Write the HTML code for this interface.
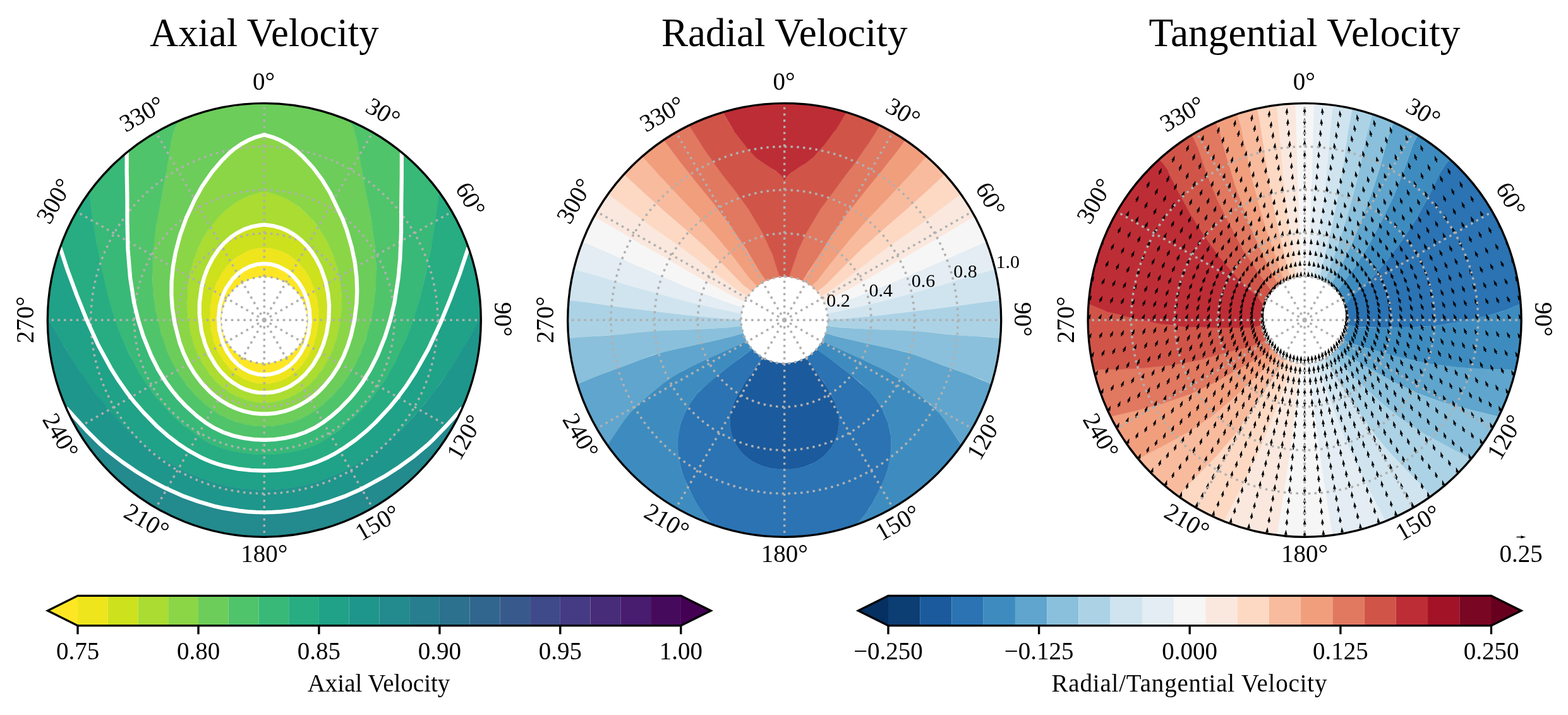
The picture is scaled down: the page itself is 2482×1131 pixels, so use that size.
<!DOCTYPE html>
<html lang="en"><head><meta charset="utf-8"><title>Velocity components</title>
<style>html,body{margin:0;padding:0;background:#fff}svg{display:block}text{font-family:'Liberation Serif', 'DejaVu Serif', serif;fill:#000}</style></head><body>
<svg width="2482" height="1131" viewBox="0 0 2482 1131">
<rect width="2482" height="1131" fill="#fff"/>
<defs><clipPath id="clip0"><circle cx="418.3" cy="506.3" r="343.0"/></clipPath><clipPath id="clip1"><circle cx="1241.7" cy="506.3" r="343.0"/></clipPath><clipPath id="clip2"><circle cx="2065.1" cy="506.3" r="343.0"/></clipPath></defs>
<g font-size="63" text-anchor="middle">
<text x="418.3" y="73.4" textLength="362.5" lengthAdjust="spacingAndGlyphs">Axial Velocity</text>
<text x="1241.7" y="73.4" textLength="389.5" lengthAdjust="spacingAndGlyphs">Radial Velocity</text>
<text x="2065.1" y="73.4" textLength="493.0" lengthAdjust="spacingAndGlyphs">Tangential Velocity</text>
</g>
<g clip-path="url(#clip0)">
<path fill="#fde725" stroke="#fde725" stroke-width="0.45" stroke-linejoin="round" d="M418.3,437.7L430.2,438.7 441.8,441.8 452.6,446.9 462.4,453.7 470.9,462.2 477.7,472 482.8,482.8 485.9,494.4 486.9,506.3 485.9,518.2 482.8,529.8 477.7,540.6 470.9,550.4 462.4,558.9 452.6,565.7 441.8,570.8 430.2,573.9 418.3,574.9 406.4,573.9 394.8,570.8 384,565.7 374.2,558.9 365.7,550.4 358.9,540.6 353.8,529.8 350.7,518.2 349.7,506.3 350.7,494.4 353.8,482.8 358.9,472 365.7,462.2 374.2,453.7 384,446.9 394.8,441.8 406.4,438.7 418.3,437.7 418.3,417.1 406.7,418.2 395.6,421.5 382.2,428.8 373.4,435.9 363.9,446.9 356.5,458.9 350.2,474.5 346.7,490.4 345.8,509.5 348.4,528.3 353.2,543.9 361,558.8 369.5,569.9 377.2,577.4 386.2,583.8 396.2,588.7 407,591.8 418.3,592.8 429.6,591.8 440.4,588.7 450.4,583.8 459.4,577.4 469.5,567.3 477.4,555.9 484.6,540.8 489.5,522.1 490.8,503.1 488.8,484.1 484.2,468.2 478.5,455.8 468.2,441.2 460.4,433.4 451.3,426.7 441,421.5 429.9,418.2 418.3,417.1 418.3,433.4Z"/>
<path fill="#efe51c" stroke="#efe51c" stroke-width="0.45" stroke-linejoin="round" d="M490.5,496.2L490.6,512.6 487.5,531.5 482.1,546.9 473.7,561.7 464.7,572.5 456.5,579.7 447.2,585.6 435.8,590.2 425.8,592.4 414.5,592.7 403.4,591 392.8,587.2 383.1,581.8 371.9,572.5 362.9,561.7 354.5,546.9 349.1,531.5 346,512.6 346.4,493.6 349.3,477.7 355,462 361.8,449.8 370.8,438.5 379.1,431 388.6,424.8 399.2,420.2 410.5,417.6 418.3,417.1 418.3,392 408.4,392.6 398.6,394.6 389.3,398 380.5,402.5 372.5,408.1 361.9,417.8 353.1,428.6 346.1,440.1 339.2,455.9 334,475.6 331.9,494.9 332.6,513.8 335.9,532.3 342,550.3 349.2,564.3 358.5,577.5 367.2,586.6 377.2,594.5 384.6,599 392.5,602.6 400.9,605.3 409.5,606.8 422.7,607.1 431.4,606.2 440,604.1 452.2,598.9 462.9,592 473,583.2 483,571 491.3,557.4 498.6,539.6 503,521.2 504.7,502.5 503.8,483.4 499.9,463.8 494.3,448 486,432.4 477.8,421.3 467.8,411.1 460.2,405.2 447.3,398 438,394.6 428.2,392.6 418.3,392 418.3,417.1 429.9,418.2 441,421.5 454.4,428.8 463.2,435.9 472.7,446.9 480.1,458.9 486.4,474.5 489.9,490.4 490.2,493.6Z"/>
<path fill="#cde11d" stroke="#cde11d" stroke-width="0.45" stroke-linejoin="round" d="M502.2,473.7L504.5,491.1 504.3,510.1 501.6,528.6 496,546.8 487.4,564.3 478.1,577.5 469.4,586.6 459.4,594.5 452,599 444.1,602.6 435.7,605.3 427.1,606.8 413.9,607.1 405.2,606.2 396.6,604.1 384.4,598.9 373.7,592 363.6,583.2 353.6,571 345.3,557.4 338,539.6 333.6,521.2 331.9,502.5 332.8,483.4 336.7,463.8 342.3,448 350.6,432.4 358.8,421.3 368.8,411.1 376.4,405.2 389.3,398 398.6,394.6 408.4,392.6 418.3,392 418.3,355.5 405.2,357.1 392.6,360.4 380.6,365.5 369.5,372.2 359.5,380.2 350.6,389.1 343,398.7 336.5,408.8 328.6,424.1 321.4,444.6 317.3,464.5 315.5,483.5 316.3,506.3 319.9,528.1 324.8,545 331.8,561.4 341.1,577.1 352.8,591.6 363.4,601.4 375.5,609.7 384.3,614.2 393.6,617.7 403.3,620.1 413.3,621.1 428.3,620.8 438.2,619.1 447.7,616.1 456.8,612.1 469.3,604.3 476.9,598.3 487,588.1 495.5,577.1 504.8,561.4 511.8,545 517.7,523.8 520.9,497.3 520.8,478.8 517.6,454.6 513.7,439.5 508,424.1 500.1,408.8 489.9,393.8 481.7,384.5 470.7,374.9 461.7,368.7 450.1,362.8 437.8,358.5 424.9,356.1 418.3,355.5 418.3,392 428.2,392.6 438,394.6 447.3,398 456.1,402.5 464.1,408.1 474.7,417.8 483.5,428.6 490.5,440.1 497.4,455.9 501.8,471.7Z"/>
<path fill="#aadc32" stroke="#aadc32" stroke-width="0.45" stroke-linejoin="round" d="M520.9,498.3L518.5,519.5 513.2,540.8 506.7,557.4 498,573.2 490,584.5 480.4,595 473.2,601.4 461.1,609.7 452.3,614.2 443,617.7 433.3,620.1 423.3,621.1 408.3,620.8 398.4,619.1 388.9,616.1 379.8,612.1 367.3,604.3 359.7,598.3 349.6,588.1 341.1,577.1 331.8,561.4 324.8,545 318.9,523.8 315.7,497.3 315.8,478.8 319,454.6 322.9,439.5 328.6,424.1 336.5,408.8 346.7,393.8 354.9,384.5 365.9,374.9 374.9,368.7 386.5,362.8 398.8,358.5 411.7,356.1 418.3,355.5 418.3,313.4 418.3,302.9 408.6,305 400.9,307.2 391,311 384.4,314 376.6,318.2 362.1,328.1 355.5,333.7 341.6,348.1 333.1,358.8 322.9,374.3 316.9,385.4 308.4,405.6 302.1,425.6 298.4,443.9 296,467.8 296.2,490.2 299.5,516.7 304.1,536.9 308.9,551.6 315.3,565.7 326,583.7 335.6,596.6 346.8,608.4 359.9,618.5 369.4,624.3 379.5,629.2 390.2,633.1 401.3,635.7 412.6,637.2 424,637.2 435.3,635.7 446.4,633.1 462.2,626.9 472,621.5 485.6,611.9 493.8,604.6 504.4,592.4 516.2,574.8 523.6,561.1 529.4,546.7 535,526.9 539.4,501 540.8,479.1 539,450 535.9,431.4 530.5,412.2 522.9,392.2 516.3,378.6 508,365.2 493.1,345.9 479.5,332.4 467.4,322.9 459.1,317.7 452.2,314 444.1,310.3 435.7,307.2 427.1,304.8 418.3,302.9 418.3,343.4 418.3,355.5 431.4,357.1 444,360.4 456,365.5 467.1,372.2 477.1,380.2 486,389.1 493.6,398.7 500.1,408.8 508,424.1 515.2,444.6 519.3,464.5 521.1,483.5 520.9,497.3Z"/>
<path fill="#8bd646" stroke="#8bd646" stroke-width="0.45" stroke-linejoin="round" d="M538.3,508.8L533.8,531.9 527.7,551.6 521.3,565.7 510.6,583.7 501,596.6 489.8,608.4 476.7,618.5 467.2,624.3 457.1,629.2 446.4,633.1 435.3,635.7 424,637.2 412.6,637.2 401.3,635.7 390.2,633.1 374.4,626.9 364.6,621.5 351,611.9 342.8,604.6 332.2,592.4 320.4,574.8 313,561.1 307.2,546.7 301.6,526.9 297.2,501 295.8,479.1 297.6,450 300.7,431.4 306.1,412.2 313.7,392.2 320.3,378.6 328.6,365.2 343.5,345.9 357.1,332.4 369.2,322.9 377.5,317.7 384.4,314 392.5,310.3 400.9,307.2 409.5,304.8 418.3,302.9 418.3,261.9 418.3,219 418.3,213.2 405.7,216.7 393.4,221.7 381.7,228 370,236.2 357.3,247.6 340.8,265.5 326.5,284.6 313.8,305.5 294.7,345.3 287.6,364.4 279.8,391.3 274.9,414.9 272.1,438.1 271.3,459.9 272.2,480.5 275.5,506.3 280.9,530.5 286.4,547.9 293.2,564.6 301.6,580.7 311.5,595.9 323.1,610.2 331.7,619.1 341.2,627.3 351.5,634.6 362.5,641 374.1,646.4 386.3,650.5 398.9,653.3 411.8,654.7 424.8,654.7 437.7,653.3 450.3,650.5 462.5,646.4 474.4,640.8 485.1,634.6 495.4,627.3 504.9,619.1 517.6,605.6 528.6,590.9 538,575.4 545.8,559.1 552.2,542.2 559.9,512.5 563.8,487.1 565.2,466.9 565,445.5 562.8,422.1 558.6,398.7 551.8,372.8 541.9,345.3 528.3,315.8 516.8,295.1 500.7,271.7 485,253.4 473.2,241.8 466,235.7 454.9,228 443.2,221.7 430.9,216.7 418.3,213.2 418.3,253.3 418.3,296.2 418.3,302.9 428,305 435.7,307.2 445.6,311 452.2,314 460,318.2 474.5,328.1 481.1,333.7 495,348.1 503.5,358.8 513.7,374.3 519.7,385.4 528.2,405.6 534.5,425.6 538.2,443.9 540.6,467.8 540.4,490.2 538.7,506.3Z"/>
<path fill="#6ccd5a" stroke="#6ccd5a" stroke-width="0.45" stroke-linejoin="round" d="M559.6,514L554,536.4 545.8,559.1 538,575.4 528.6,590.9 517.6,605.6 504.9,619.1 495.4,627.3 485.1,634.6 474.1,641 462.5,646.4 450.3,650.5 437.7,653.3 424.8,654.7 411.8,654.7 398.9,653.3 386.3,650.5 374.1,646.4 362.2,640.8 351.5,634.6 341.2,627.3 331.7,619.1 319,605.6 308,590.9 298.6,575.4 290.8,559.1 284.4,542.2 276.7,512.5 272.8,487.1 271.4,466.9 271.6,445.5 273.8,422.1 278,398.7 284.8,372.8 294.7,345.3 308.3,315.8 319.8,295.1 335.9,271.7 351.6,253.4 363.4,241.8 370.6,235.7 381.7,228 393.4,221.7 405.7,216.7 418.3,213.2 418.3,171.9 418.3,163.3 403.3,163.6 388.4,164.6 373.5,166.2 358.7,168.5 344.1,171.4 329.5,175 315.2,179.2 301,184 283.1,191.1 276.5,203.4 270.6,225.5 264.6,265.1 256.9,306 248.6,348.8 242.9,390.7 241,423.6 242,459.1 245,483.5 249.3,506.3 257,534.7 264.1,554.9 273,574.1 283.3,592.3 291.1,603.9 304.4,620.2 319.4,635.2 330.4,644.3 342.1,652.6 354.7,659.7 368.1,665.5 382,669.9 396.4,672.8 411,674.3 425.6,674.3 440.2,672.8 454.6,669.9 468.5,665.5 481.9,659.7 494.5,652.6 506.2,644.3 517.2,635.2 532.2,620.2 545.5,603.9 556.9,586.3 566.8,567.8 575,548.3 583.7,520.8 590.3,491.3 593.9,466.4 595.5,441.6 594.6,400 589.3,356.7 581,312.6 572.7,269.1 566,225.5 561.8,209 559.8,202.7 553.5,191.1 535.6,184 521.4,179.2 507.1,175 492.5,171.4 477.9,168.5 463.1,166.2 448.2,164.6 433.3,163.6 418.3,163.3 418.3,206.2 418.3,213.2 430.9,216.7 443.2,221.7 454.9,228 466.6,236.2 479.3,247.6 495.8,265.5 510.1,284.6 522.8,305.5 541.9,345.3 549,364.4 556.8,391.3 561.7,414.9 564.5,438.1 565.3,459.9 564.4,480.5 561.1,506.3 559.9,512.5Z"/>
<path fill="#50c46a" stroke="#50c46a" stroke-width="0.45" stroke-linejoin="round" d="M577.3,541.8L569.7,561.4 560.4,580.3 549.5,598.1 541.2,609.5 527.4,625.3 511.8,639.8 500.4,648.6 488.3,656.3 475.3,662.8 461.6,667.9 447.4,671.5 432.9,673.7 418.3,674.5 403.7,673.7 389.2,671.5 373,667.3 361.3,662.8 348.3,656.3 336.2,648.6 323.8,639 309.2,625.3 295.4,609.5 283.3,592.3 273,574.1 264.1,554.9 254.9,527.8 246.3,491.3 242.7,466.4 241.1,441.6 242,400 247.3,356.7 255.6,312.6 263.9,269.1 270.6,225.5 274.8,209 276.8,202.7 283.1,191.1 259.9,202.1 246.8,209.3 234,217 221.6,225.3 200.7,241.1 200.8,281.2 201.4,324.3 201.6,367.7 203.3,409.5 206.1,439.4 212.3,479.2 218.8,506.3 227.2,532.9 239.3,562.7 250.4,584.6 263.1,605.2 272.6,618.1 282.9,630.4 299.7,647.6 311.9,658.2 324.9,668.1 338.8,676.8 353.6,683.9 369.3,689.3 385.4,692.9 401.8,695.1 418.3,695.8 434.8,695.1 451.2,692.9 467.3,689.3 483,683.9 497.8,676.8 511.7,668.1 524.7,658.2 542.7,642 553.7,630.4 564,618.1 573.5,605.2 586.2,584.6 597.3,562.7 609.9,531.5 617.8,506.3 624.3,479.2 630.5,439.4 634.2,393.9 635.1,352.5 635.2,311.5 636,269.7 635.9,241.1 615,225.3 602.6,217 589.8,209.3 576.7,202.1 553.5,191.1 560.1,203.4 566,225.5 572,265.1 579.7,306 588,348.8 593.7,390.7 595.6,423.6 594.6,459.1 591.6,483.5 587.3,506.3 579.6,534.7 577.4,541.6Z"/>
<path fill="#38b977" stroke="#38b977" stroke-width="0.45" stroke-linejoin="round" d="M578.3,598L568.9,611.7 559,624.3 548.3,636.3 536.9,647.6 524.7,658.2 511.7,668.1 497.8,676.8 483,683.9 467.3,689.3 451.2,692.9 434.8,695.1 418.3,695.8 401.8,695.1 385.4,692.9 369.3,689.3 353.6,683.9 338.8,676.8 324.9,668.1 311.9,658.2 293.9,642 282.9,630.4 272.6,618.1 263.1,605.2 250.4,584.6 239.3,562.7 226.7,531.5 218.8,506.3 212.3,479.2 206.1,439.4 202.4,393.9 201.5,352.5 201.4,311.5 200.6,269.7 200.7,241.1 186.6,253.4 175.8,263.8 165.4,274.6 155.5,285.8 141.5,303.8 147.3,349.8 154.3,393 162.6,433.7 172.5,473.9 182.5,507.1 193.5,535.9 210.4,571.9 224.6,596.6 234.9,612.2 251.7,634.1 263.9,647.8 276.8,660.7 297.6,678.7 312.5,689.5 328.3,699.2 336.6,703.4 345.2,707 363.1,712.4 381.3,716.1 399.8,718.2 418.3,718.9 436.8,718.2 455.3,716.1 473.5,712.4 491.4,707 500,703.4 508.3,699.2 524.1,689.5 546.1,672.9 559.8,660.7 572.7,647.8 590.7,627 601.7,612.2 616.9,588.6 630.7,563.2 643.8,534.3 654.4,506.3 664.6,472.1 675.8,425.1 683.6,385.5 690.3,342.9 695.1,303.8 681.1,285.8 671.2,274.6 660.8,263.8 650,253.4 635.9,241.1 635.8,281.2 635.2,324.3 635,367.7 633.3,409.5 630.5,439.4 624.3,479.2 617.8,506.3 609.4,532.9 597.3,562.7 586.2,584.6 582.2,591.6Z"/>
<path fill="#27ad81" stroke="#27ad81" stroke-width="0.45" stroke-linejoin="round" d="M586.5,632.2L572.7,647.8 559.8,660.7 539,678.7 524.1,689.5 508.3,699.2 500,703.4 491.4,707 473.5,712.4 455.3,716.1 436.8,718.2 418.3,718.9 399.8,718.2 381.3,716.1 363.1,712.4 345.2,707 336.6,703.4 328.3,699.2 312.5,689.5 290.5,672.9 276.8,660.7 263.9,647.8 245.9,627 234.9,612.2 219.7,588.6 205.9,563.2 192.8,534.3 182.2,506.3 172,472.1 160.8,425.1 153,385.5 146.3,342.9 141.5,303.8 129,322 121.3,334.8 114.1,347.9 107.4,361.3 101.4,375 95.1,391.6 109.3,434.2 124.2,473.9 139.7,511.7 158.6,552.1 179.1,588.5 193.8,611 206.8,628.4 220.3,644.9 241.9,668 257.1,682.2 273.2,695.4 290.2,707.4 308,718.3 317.2,723.1 326.7,727.4 336.4,731.3 346.3,734.6 356.4,737.4 376.8,741.6 397.5,743.9 418.3,744.7 439.1,743.9 459.8,741.6 480.2,737.4 490.3,734.6 500.2,731.3 509.9,727.4 519.4,723.1 537.7,713 555,701.6 571.5,688.9 587.2,675.2 609.2,652.8 623.2,636.8 636.4,619.8 649,601.8 661,582.8 681.1,546 699.2,506.3 714.9,467.3 729.9,426.9 741.5,391.6 735.2,375 729.2,361.3 722.5,347.9 715.3,334.8 707.6,322 695.1,303.8 689.3,349.8 682.3,393 674,433.7 664.1,473.9 654.1,507.1 643.1,535.9 626.2,571.9 612,596.6 601.7,612.2 590.7,627Z"/>
<path fill="#1fa287" stroke="#1fa287" stroke-width="0.45" stroke-linejoin="round" d="M604.2,658.3L587.2,675.2 571.5,688.9 555,701.6 537.7,713 519.4,723.1 509.9,727.4 500.2,731.3 490.3,734.6 480.2,737.4 459.8,741.6 439.1,743.9 418.3,744.7 397.5,743.9 376.8,741.6 356.4,737.4 346.3,734.6 336.4,731.3 326.7,727.4 317.2,723.1 298.9,713 281.6,701.6 265.1,688.9 249.4,675.2 227.4,652.8 213.4,636.8 200.2,619.8 187.6,601.8 175.6,582.8 155.5,546 137.4,506.3 121.7,467.3 106.7,426.9 95.1,391.6 91.2,403.2 87,417.5 83.4,432.1 80.5,446.7 78.2,461.5 76.6,476.4 75.3,501.4 98.9,543.1 123.7,583 140.5,607.4 164.2,638.6 180.6,657.8 197.5,675.7 215.3,692.4 233.7,707.7 253,721.7 273,734.4 293.8,745.5 315.3,754.8 337.5,762.7 348.7,765.9 360.1,768.6 371.7,770.8 383.3,772.5 406.6,774.3 430,774.3 453.3,772.5 464.9,770.8 476.5,768.6 487.9,765.9 499.1,762.7 521.3,754.8 542.8,745.5 563.6,734.4 583.6,721.7 602.9,707.7 621.3,692.4 641.2,673.6 664.3,648.3 688.2,618.1 711.6,584.9 734.8,548 757,509.3 761.3,501.4 760,476.4 758.4,461.5 756.1,446.7 753.2,432.1 749.6,417.5 745.4,403.2 741.5,391.6 727.3,434.2 712.4,473.9 696.9,511.7 678,552.1 657.5,588.5 642.8,611 629.8,628.4 616.3,644.9 609.2,652.8Z"/>
<path fill="#1f968b" stroke="#1f968b" stroke-width="0.45" stroke-linejoin="round" d="M556.2,738.6L542.8,745.5 521.3,754.8 499.1,762.7 487.9,765.9 476.5,768.6 464.9,770.8 453.3,772.5 430,774.3 406.6,774.3 383.3,772.5 371.7,770.8 360.1,768.6 348.7,765.9 337.5,762.7 315.3,754.8 293.8,745.5 273,734.4 253,721.7 233.7,707.7 215.3,692.4 195.4,673.6 172.3,648.3 148.4,618.1 125,584.9 101.8,548 79.6,509.3 75.3,501.4 75.6,521.3 76.6,536.2 78.2,551.1 80.5,565.9 83.4,580.5 87,595.1 91.2,609.4 96,623.6 104.7,645.3 129.5,673 149.9,694.2 160.4,704.2 182.4,722.5 205.1,738.9 228.4,753.8 264.2,773.3 288.7,784.2 313.8,793.3 339.4,800.7 365.5,806 378.6,807.9 391.8,809.3 405,810.2 418.3,810.5 431.6,810.2 444.8,809.3 458,807.9 484.2,803.6 497.2,800.7 522.8,793.3 547.9,784.2 577.5,770.8 596.4,760.7 619.9,746.6 642.9,730.9 665.3,713.6 679.5,701.1 697,683.8 727.3,650.4 731.9,645.3 740.6,623.6 745.4,609.4 749.6,595.1 753.2,580.5 756.1,565.9 758.4,551.1 760,536.2 761,521.3 761.3,501.4 737.7,543.1 712.9,583 696.1,607.4 672.4,638.6 656,657.8 639.1,675.7 621.3,692.4 602.9,707.7 583.6,721.7 563.6,734.4Z"/>
<path fill="#238a8d" stroke="#238a8d" stroke-width="0.45" stroke-linejoin="round" d="M476.6,805.1L458,807.9 444.8,809.3 431.6,810.2 418.3,810.5 405,810.2 391.8,809.3 378.6,807.9 352.4,803.6 339.4,800.7 313.8,793.3 288.7,784.2 259.1,770.8 240.2,760.7 216.7,746.6 193.7,730.9 171.3,713.6 157.1,701.1 139.6,683.8 109.3,650.4 104.7,645.3 114.1,664.7 121.3,677.8 129,690.6 137.3,703 146.2,715.1 155.5,726.8 165.4,738 175.8,748.8 186.6,759.2 197.8,769.1 209.5,778.4 221.6,787.3 234,795.6 246.8,803.3 259.9,810.5 273.3,817.2 287,823.2 301,828.6 315.2,833.4 329.5,837.6 344.1,841.2 358.7,844.1 373.5,846.4 388.4,848 403.3,849 418.3,849.3 433.3,849 448.2,848 463.1,846.4 477.9,844.1 492.5,841.2 507.1,837.6 521.4,833.4 535.6,828.6 549.6,823.2 563.3,817.2 576.7,810.5 589.8,803.3 602.6,795.6 615,787.3 627.1,778.4 638.8,769.1 650,759.2 660.8,748.8 671.2,738 681.1,726.8 690.4,715.1 699.3,703 707.6,690.6 715.3,677.8 722.5,664.7 731.9,645.3 707.1,673 686.7,694.2 676.2,704.2 654.2,722.5 631.5,738.9 608.2,753.8 572.4,773.3 547.9,784.2 522.8,793.3 497.2,800.7 484.2,803.6Z"/>
<g fill="none" stroke="#b0b0b0" stroke-width="3.5" stroke-dasharray="3.6 6.2">
<path d="M418.3,506.3L418.30,163.30M418.3,506.3L589.80,209.25M418.3,506.3L715.35,334.80M418.3,506.3L761.30,506.30M418.3,506.3L715.35,677.80M418.3,506.3L589.80,803.35M418.3,506.3L418.30,849.30M418.3,506.3L246.80,803.35M418.3,506.3L121.25,677.80M418.3,506.3L75.30,506.30M418.3,506.3L121.25,334.80M418.3,506.3L246.80,209.25"/>
<path d="M418.30,437.70A68.60,68.60 0 1 1 418.30,574.90A68.60,68.60 0 1 1 418.30,437.70"/>
<path d="M418.30,369.10A137.20,137.20 0 1 1 418.30,643.50A137.20,137.20 0 1 1 418.30,369.10"/>
<path d="M418.30,300.50A205.80,205.80 0 1 1 418.30,712.10A205.80,205.80 0 1 1 418.30,300.50"/>
<path d="M418.30,231.90A274.40,274.40 0 1 1 418.30,780.70A274.40,274.40 0 1 1 418.30,231.90"/>
</g>
<path fill="none" stroke="#fff" stroke-width="6.25" stroke-linejoin="round" d="M418.3,417.1L429.9,418.2 441,421.5 454.4,428.8 463.2,435.9 472.7,446.9 480.1,458.9 486.4,474.5 489.9,490.4 490.8,509.5 488.2,528.3 483.4,543.9 475.6,558.8 467.1,569.9 459.4,577.4 450.4,583.8 440.4,588.7 429.6,591.8 418.3,592.8 407,591.8 396.2,588.7 386.2,583.8 377.2,577.4 367.1,567.3 359.2,555.9 352,540.8 347.1,522.1 345.8,503.1 347.8,484.1 352.4,468.2 358.1,455.8 368.4,441.2 376.2,433.4 385.3,426.7 395.6,421.5 406.7,418.2ZM418.3,355.5L431.4,357.1 444,360.4 456,365.5 467.1,372.2 477.1,380.2 486,389.1 493.6,398.7 500.1,408.8 508,424.1 515.2,444.6 519.3,464.5 521.1,483.5 520.3,506.3 516.7,528.1 511.8,545 504.8,561.4 495.5,577.1 483.8,591.6 473.2,601.4 461.1,609.7 452.3,614.2 443,617.7 433.3,620.1 423.3,621.1 408.3,620.8 398.4,619.1 388.9,616.1 379.8,612.1 367.3,604.3 359.7,598.3 349.6,588.1 341.1,577.1 331.8,561.4 324.8,545 318.9,523.8 315.7,497.3 315.8,478.8 319,454.6 322.9,439.5 328.6,424.1 336.5,408.8 346.7,393.8 354.9,384.5 365.9,374.9 374.9,368.7 386.5,362.8 398.8,358.5 411.7,356.1ZM418.3,213.2L430.9,216.7 443.2,221.7 454.9,228 466.6,236.2 479.3,247.6 495.8,265.5 510.1,284.6 522.8,305.5 541.9,345.3 549,364.4 556.8,391.3 561.7,414.9 564.5,438.1 565.3,459.9 564.4,480.5 561.1,506.3 555.7,530.5 550.2,547.9 543.4,564.6 535,580.7 525.1,595.9 513.5,610.2 504.9,619.1 495.4,627.3 485.1,634.6 474.1,641 462.5,646.4 450.3,650.5 437.7,653.3 424.8,654.7 411.8,654.7 398.9,653.3 386.3,650.5 374.1,646.4 362.2,640.8 351.5,634.6 341.2,627.3 331.7,619.1 319,605.6 308,590.9 298.6,575.4 290.8,559.1 284.4,542.2 276.7,512.5 272.8,487.1 271.4,466.9 271.6,445.5 273.8,422.1 278,398.7 284.8,372.8 294.7,345.3 308.3,315.8 319.8,295.1 335.9,271.7 351.6,253.4 363.4,241.8 370.6,235.7 381.7,228 393.4,221.7 405.7,216.7ZM635.9,241.1L635.8,281.2 635.2,324.3 635,367.7 633.3,409.5 630.5,439.4 624.3,479.2 617.8,506.3 609.4,532.9 597.3,562.7 586.2,584.6 573.5,605.2 564,618.1 553.7,630.4 536.9,647.6 524.7,658.2 511.7,668.1 497.8,676.8 483,683.9 467.3,689.3 451.2,692.9 434.8,695.1 418.3,695.8 401.8,695.1 385.4,692.9 369.3,689.3 353.6,683.9 338.8,676.8 324.9,668.1 311.9,658.2 293.9,642 282.9,630.4 272.6,618.1 263.1,605.2 250.4,584.6 239.3,562.7 226.7,531.5 218.8,506.3 212.3,479.2 206.1,439.4 202.4,393.9 201.5,352.5 201.4,311.5 200.6,269.7 200.7,241.1M741.5,391.6L727.3,434.2 712.4,473.9 696.9,511.7 678,552.1 657.5,588.5 642.8,611 629.8,628.4 616.3,644.9 594.7,668 579.5,682.2 563.4,695.4 546.4,707.4 528.6,718.3 519.4,723.1 509.9,727.4 500.2,731.3 490.3,734.6 480.2,737.4 459.8,741.6 439.1,743.9 418.3,744.7 397.5,743.9 376.8,741.6 356.4,737.4 346.3,734.6 336.4,731.3 326.7,727.4 317.2,723.1 298.9,713 281.6,701.6 265.1,688.9 249.4,675.2 227.4,652.8 213.4,636.8 200.2,619.8 187.6,601.8 175.6,582.8 155.5,546 137.4,506.3 121.7,467.3 106.7,426.9 95.1,391.6M731.9,645.3L707.1,673 686.7,694.2 676.2,704.2 654.2,722.5 631.5,738.9 608.2,753.8 572.4,773.3 547.9,784.2 522.8,793.3 497.2,800.7 471.1,806 458,807.9 444.8,809.3 431.6,810.2 418.3,810.5 405,810.2 391.8,809.3 378.6,807.9 352.4,803.6 339.4,800.7 313.8,793.3 288.7,784.2 259.1,770.8 240.2,760.7 216.7,746.6 193.7,730.9 171.3,713.6 157.1,701.1 139.6,683.8 109.3,650.4 104.7,645.3"/>
</g>
<circle cx="418.3" cy="506.3" r="343.0" fill="none" stroke="#000" stroke-width="3.33"/>
<g font-size="39.0"><text transform="translate(417.6,128.7) rotate(0)" x="0" y="13.2" text-anchor="middle">0°</text><text transform="translate(606.4,177.6) rotate(30)" x="0" y="13.2" text-anchor="middle">30°</text><text transform="translate(745.0,315.0) rotate(60)" x="0" y="13.2" text-anchor="middle">60°</text><text transform="translate(796.0,505.0) rotate(90)" x="0" y="13.2" text-anchor="middle">90°</text><text transform="translate(735.0,691.6) rotate(-60)" x="0" y="13.2" text-anchor="middle">120°</text><text transform="translate(597.4,826.6) rotate(-30)" x="0" y="13.2" text-anchor="middle">150°</text><text transform="translate(418.3,876.1) rotate(0)" x="0" y="13.2" text-anchor="middle">180°</text><text transform="translate(232.2,824.0) rotate(30)" x="0" y="13.2" text-anchor="middle">210°</text><text transform="translate(96.1,689.0) rotate(60)" x="0" y="13.2" text-anchor="middle">240°</text><text transform="translate(39.6,506.0) rotate(-90)" x="0" y="13.2" text-anchor="middle">270°</text><text transform="translate(85.6,317.7) rotate(-60)" x="0" y="13.2" text-anchor="middle">300°</text><text transform="translate(224.6,180.0) rotate(-30)" x="0" y="13.2" text-anchor="middle">330°</text></g>
<g clip-path="url(#clip1)">
<path fill="#1b5a9c" stroke="#1b5a9c" stroke-width="0.45" stroke-linejoin="round" d="M1278.2,569.4L1274.9,566.4 1262.3,571.7 1250.7,574.3 1238.7,574.8 1226.9,573.3 1215.4,569.7 1208.5,566.4 1205.2,569.4 1179.7,604 1166.6,626.2 1161.1,637.9 1157.1,650.5 1155.6,659.6 1155.6,674.2 1157.7,686.3 1162.2,698.3 1168.1,708.5 1175.2,717.3 1183.2,724.6 1192,730.4 1201.4,735 1211.1,738.5 1221.2,740.9 1231.4,742.1 1241.7,742.4 1255.9,741.7 1262.2,740.9 1272.3,738.5 1284.5,733.8 1291.4,730.4 1300.2,724.6 1308.2,717.3 1316,707.4 1321.2,698.3 1326.1,684.6 1328,672.1 1327.8,659.6 1326.3,650.5 1322.3,637.9 1310.6,614.9 1286.3,579.5 1281.1,572.7Z"/>
<path fill="#2b73b3" stroke="#2b73b3" stroke-width="0.45" stroke-linejoin="round" d="M1292.6,552.3L1283.5,560.7 1274.9,566.4 1278.2,569.4 1303.7,604 1316.8,626.2 1322.3,637.9 1326.3,650.5 1327.8,659.6 1327.8,674.2 1325.7,686.3 1321.2,698.3 1315.3,708.5 1308.2,717.3 1300.2,724.6 1291.4,730.4 1282,735 1272.3,738.5 1262.2,740.9 1252,742.1 1241.7,742.4 1227.5,741.7 1221.2,740.9 1211.1,738.5 1198.9,733.8 1192,730.4 1183.2,724.6 1175.2,717.3 1167.4,707.4 1162.2,698.3 1157.3,684.6 1155.4,672.1 1155.6,659.6 1157.1,650.5 1161.1,637.9 1172.8,614.9 1197.1,579.5 1205.5,569.1 1208.5,566.4 1197.6,558.9 1190.8,552.3 1156.1,577.8 1122.5,604.4 1104,622.3 1093.4,636.3 1084.5,652.1 1077.2,670.8 1074.2,684.3 1073,694.8 1072.7,707.7 1074.3,724.4 1078.4,742.6 1082.8,755.8 1098.7,789.5 1106.5,802.8 1116.1,816.3 1125.1,826.8 1128.3,830 1152.9,837.6 1167.5,841.2 1182.1,844.1 1196.9,846.4 1211.8,848 1226.7,849 1241.7,849.3 1256.7,849 1271.6,848 1286.5,846.4 1301.3,844.1 1315.9,841.2 1330.5,837.6 1355.1,830 1361.5,823.1 1369.1,813.9 1381,796.1 1394.8,769.4 1400.6,755.8 1405.7,740.5 1409.2,723.7 1410.7,705.9 1410,689.4 1405.8,669.6 1396.9,647.9 1387.5,632.6 1376.5,619.1 1344.2,590.9 1310.2,564.8 1296.2,554.7Z"/>
<path fill="#3e8cbf" stroke="#3e8cbf" stroke-width="0.45" stroke-linejoin="round" d="M1301.7,539.5L1292.6,552.3 1327.3,577.8 1360.9,604.4 1379.4,622.3 1390,636.3 1398.9,652.1 1406.2,670.8 1409.2,684.3 1410.4,694.8 1410.7,707.7 1409.1,724.4 1405,742.6 1400.6,755.8 1384.7,789.5 1376.9,802.8 1367.3,816.3 1358.3,826.8 1355.1,830 1373,823.2 1386.7,817.2 1400.1,810.5 1413.2,803.3 1426,795.6 1438.4,787.3 1450.5,778.4 1462.2,769.1 1473.4,759.2 1484.2,748.8 1494.6,738 1504.5,726.8 1513.8,715.1 1521.8,704.2 1499.8,670.8 1487.8,654.5 1455.7,624.4 1428.6,602.2 1403,586.4 1364.3,567.9 1325.1,550.3 1305.7,541.3ZM1190.8,552.3L1183.8,543.2 1181.7,539.5 1142.6,557.3 1103.5,575 1069.2,592.7 1047.8,607.4 1014.5,635.9 998.6,651.2 987.2,665.4 963.8,700 961.6,704.2 969.6,715.1 978.9,726.8 988.8,738 999.2,748.8 1010,759.2 1021.2,769.1 1032.9,778.4 1045,787.3 1057.4,795.6 1070.2,803.3 1083.3,810.5 1096.7,817.2 1110.4,823.2 1128.3,830 1121.9,823.1 1114.3,813.9 1102.4,796.1 1088.6,769.4 1082.8,755.8 1077.7,740.5 1074.2,723.7 1072.7,705.9 1073.4,689.4 1077.6,669.6 1086.5,647.9 1095.9,632.6 1106.9,619.1 1139.2,590.9 1173.2,564.8 1187.2,554.7Z"/>
<path fill="#5fa5cd" stroke="#5fa5cd" stroke-width="0.45" stroke-linejoin="round" d="M1307,527.2L1301.7,539.5 1340.8,557.3 1379.9,575 1414.2,592.7 1435.6,607.4 1468.9,635.9 1484.8,651.2 1496.2,665.4 1519.6,700 1521.8,704.2 1531,690.6 1538.7,677.8 1545.9,664.7 1552.6,651.3 1558.6,637.6 1564,623.6 1569.4,607.7 1529.6,591.2 1489.1,576.7 1449,561 1407.4,550.7 1365.3,541.7 1323.5,532 1311.2,528.3ZM1181.7,539.5L1176.4,527.2 1134.8,538 1092.9,547.3 1050.9,556.3 1010.3,570.2 970.1,585.6 929.7,600.3 914,607.7 919.4,623.6 924.8,637.6 930.8,651.3 937.5,664.7 944.7,677.8 952.4,690.6 961.6,704.2 983.6,670.8 995.6,654.5 1027.7,624.4 1054.8,602.2 1080.4,586.4 1119.1,567.9 1158.3,550.3 1177.7,541.3Z"/>
<path fill="#8ac0db" stroke="#8ac0db" stroke-width="0.45" stroke-linejoin="round" d="M1309.6,515.7L1307,527.2 1348.6,538 1390.5,547.3 1432.5,556.3 1473.1,570.2 1513.3,585.6 1553.7,600.3 1569.4,607.7 1573,595.1 1576.6,580.5 1579.5,565.9 1581.8,551.1 1583.5,534.9 1540.8,531.6 1499.5,528.9 1459.6,524.2 1416.8,522 1373.9,520.4 1330.9,518.2 1313.9,516.2ZM1176.4,527.2L1173.8,515.7 1131,519.6 1088.1,521.4 1045.2,522.7 1002.5,526.6 959.8,530.9 916.9,532.9 899.9,534.9 901.6,551.1 903.9,565.9 906.8,580.5 910.4,595.1 914,607.7 953.8,591.2 994.3,576.7 1034.4,561 1076,550.7 1118.1,541.7 1159.9,532 1172.2,528.3Z"/>
<path fill="#acd2e5" stroke="#acd2e5" stroke-width="0.45" stroke-linejoin="round" d="M1310.3,506L1309.6,515.7 1352.4,519.6 1395.3,521.4 1438.2,522.7 1480.9,526.6 1523.6,530.9 1566.5,532.9 1583.5,534.9 1584.4,521.3 1584.7,506.3 1584.4,491.3 1583.2,474.7 1540.7,480 1498.2,486.1 1455.5,491.3 1412.9,496.5 1370.2,501.1 1327.4,504.9 1314.6,505.7ZM1173.8,515.7L1173.1,506 1130.3,502.7 1087.5,498.5 1044.9,493.3 1002.3,488.2 959.7,482.7 917.2,476.3 900.2,474.7 899,491.3 898.7,506.3 899,521.3 899.9,534.9 942.6,531.6 983.9,528.9 1023.8,524.2 1066.6,522 1109.5,520.4 1152.5,518.2 1169.5,516.2Z"/>
<path fill="#cfe4ef" stroke="#cfe4ef" stroke-width="0.45" stroke-linejoin="round" d="M1309.5,496L1310.3,506 1353.1,502.7 1395.9,498.5 1438.5,493.3 1481.1,488.2 1523.7,482.7 1566.2,476.3 1583.2,474.7 1581.8,461.5 1579.5,446.7 1575.2,426 1533.8,437.3 1492.8,450.3 1451.4,461.7 1410,473.3 1368.3,483.5 1326.4,492.8 1313.7,495.2ZM1173.1,506L1173.9,496 1131.9,487.3 1090.1,477.5 1048.6,466.3 1007.2,454.9 966,442.6 924.9,430.1 908.2,426 903.9,446.7 901.6,461.5 900.2,474.7 942.7,480 985.2,486.1 1027.9,491.3 1070.5,496.5 1113.2,501.1 1156,504.9 1168.8,505.7Z"/>
<path fill="#e3edf3" stroke="#e3edf3" stroke-width="0.45" stroke-linejoin="round" d="M1307.3,486.3L1309.5,496 1351.5,487.3 1393.3,477.5 1434.8,466.3 1476.2,454.9 1517.4,442.6 1558.5,430.1 1575.2,426 1568.8,403.2 1561.5,382.3 1522,399 1482.8,416.7 1443.3,433.5 1404,450.9 1364,466.4 1323.7,481.2 1311.4,485.1ZM1173.9,496L1176.1,486.3 1135.5,472.5 1095.3,457.3 1055.8,440.5 1016.4,423.4 977,406.2 937.8,388.6 921.9,382.3 914.6,403.2 908.2,426 949.6,437.3 990.6,450.3 1032,461.7 1073.4,473.3 1115.1,483.5 1157,492.8 1169.7,495.2Z"/>
<path fill="#f7f6f6" stroke="#f7f6f6" stroke-width="0.45" stroke-linejoin="round" d="M1304,477.5L1307.3,486.3 1347.9,472.5 1388.1,457.3 1427.6,440.5 1467,423.4 1506.4,406.2 1545.6,388.6 1561.5,382.3 1552.6,361.3 1543,342.4 1505.8,363.8 1469,385.9 1431.6,406.8 1394.7,428.8 1357.3,450 1319.5,470.3 1307.9,475.8ZM1176.1,486.3L1179.4,477.5 1141.1,458.2 1103.6,437.4 1066.6,415.5 1029.3,394.3 992.2,372.8 955.4,350.7 940.4,342.4 930.8,361.3 921.9,382.3 961.4,399 1000.6,416.7 1040.1,433.5 1079.4,450.9 1119.4,466.4 1159.7,481.2 1172,485.1Z"/>
<path fill="#fae8de" stroke="#fae8de" stroke-width="0.45" stroke-linejoin="round" d="M1299.4,469.2L1304,477.5 1342.3,458.2 1379.8,437.4 1416.8,415.5 1454.1,394.3 1491.2,372.8 1528,350.7 1543,342.4 1531,322 1520.8,306.9 1486.5,332.6 1452.2,358.5 1417,383 1382.4,408.2 1348.4,434.5 1315.1,459.5 1303.1,467.1ZM1179.4,477.5L1184,469.2 1165.9,457.8 1131.6,431.9 1097.6,405.6 1062.8,380.5 1027.7,356 993.5,330 962.6,306.9 952.4,322 940.4,342.4 977.6,363.8 1014.4,385.9 1051.8,406.8 1088.7,428.8 1126.1,450 1163.9,470.3 1175.5,475.8Z"/>
<path fill="#fdd9c4" stroke="#fdd9c4" stroke-width="0.45" stroke-linejoin="round" d="M1293.2,461L1299.4,469.2 1317.5,457.8 1351.8,431.9 1385.8,405.6 1420.6,380.5 1455.7,356 1489.9,330 1520.8,306.9 1513.8,297.5 1504.5,285.8 1495.6,275.7 1464.1,304.8 1432.2,333.4 1399.7,361.4 1367.7,390 1337.1,420 1307,450.7 1296.8,458.6ZM1184,469.2L1190.2,461 1176.4,450.7 1146.3,420 1115.7,390 1083.7,361.4 1051.2,333.4 1019.3,304.8 987.8,275.7 978.9,285.8 969.6,297.5 962.6,306.9 996.9,332.6 1031.2,358.5 1066.4,383 1101,408.2 1135,434.5 1168.3,459.5 1180.3,467.1Z"/>
<path fill="#f8bb9e" stroke="#f8bb9e" stroke-width="0.45" stroke-linejoin="round" d="M1284.4,452.6L1293.2,461 1307,450.7 1337.1,420 1367.7,390 1399.7,361.4 1432.2,333.4 1464.1,304.8 1495.6,275.7 1484.2,263.8 1466.7,247.4 1437.9,279.2 1408.5,310.5 1378.8,341.5 1349.9,373.2 1322.6,406.3 1296.6,440.4 1287.7,449.8ZM1190.2,461L1199,452.6 1189.6,443.7 1163.4,409.7 1136.3,376.4 1107.6,344.6 1077.8,313.6 1048.4,282.3 1019.6,250.6 1016.7,247.4 999.2,263.8 987.8,275.7 1019.3,304.8 1051.2,333.4 1083.7,361.4 1115.7,390 1146.3,420 1176.4,450.7 1186.6,458.6Z"/>
<path fill="#f19e7d" stroke="#f19e7d" stroke-width="0.45" stroke-linejoin="round" d="M1270.2,443.9L1281,450.1 1284.4,452.6 1293.8,443.7 1320,409.7 1347.1,376.4 1375.8,344.6 1405.6,313.6 1435,282.3 1463.8,250.6 1466.7,247.4 1450.5,234.2 1432.9,221.5 1407,255.8 1380.1,289.5 1352.9,323 1326.7,357.4 1302.6,393 1280.4,429.8 1271.7,442.1ZM1199,452.6L1210,445.5 1213.2,443.9 1189.6,407.8 1166.7,371.4 1141.2,336.6 1114.3,302.8 1087.1,269.3 1060.7,235.4 1050.5,221.5 1032.9,234.2 1016.7,247.4 1045.5,279.2 1074.9,310.5 1104.6,341.5 1133.5,373.2 1160.8,406.3 1186.8,440.4 1195.7,449.8Z"/>
<path fill="#e17860" stroke="#e17860" stroke-width="0.45" stroke-linejoin="round" d="M1249.2,438.1L1262.3,440.9 1270.2,443.9 1293.8,407.8 1316.7,371.4 1342.2,336.6 1369.1,302.8 1396.3,269.3 1422.7,235.4 1432.9,221.5 1413.2,209.3 1392.8,198.4 1369.6,234.8 1344.3,270.4 1319.9,302.1 1298.6,330.9 1276,369 1261.5,401 1250.6,434ZM1210.5,440.4L1213.2,443.9 1226.9,439.3 1234.2,438.1 1220.3,396.9 1207.4,369 1184.8,330.9 1160.7,298.6 1134,263.3 1108.9,227.6 1090.6,198.4 1070.2,209.3 1050.5,221.5 1076.4,255.8 1103.3,289.5 1130.5,323 1156.7,357.4 1180.8,393 1203,429.8 1207.9,436.9Z"/>
<path fill="#d05548" stroke="#d05548" stroke-width="0.45" stroke-linejoin="round" d="M1241.7,437.7L1249.2,438.1 1263.1,396.9 1276,369 1298.6,330.9 1322.7,298.6 1349.4,263.3 1374.5,227.6 1392.8,198.4 1373,189.4 1359,184 1339.1,177.4 1321,208 1300.9,234 1287,249.2 1272.8,259.6 1254.7,270.8 1249.8,274.9 1245.8,279.1 1241.7,285 1241.7,326.2 1241.7,369.1 1241.7,412 1241.7,433.4ZM1234.2,438.1L1241.7,437.7 1241.7,394.8 1241.7,352 1241.7,309.1 1241.7,285 1237.6,279.1 1231.5,273 1216.7,263.2 1209.1,258.7 1196,248.8 1179.5,230.2 1159.8,204.2 1146.1,181.3 1144.3,177.4 1124.4,184 1110.4,189.4 1090.6,198.4 1113.8,234.8 1139.1,270.4 1163.5,302.1 1184.8,330.9 1207.4,369 1221.9,401 1232.8,434Z"/>
<path fill="#bd2d35" stroke="#bd2d35" stroke-width="0.45" stroke-linejoin="round" d="M1241.7,283.4L1241.7,285 1245.8,279.1 1251.9,273 1266.7,263.2 1274.3,258.7 1287.4,248.8 1303.9,230.2 1323.6,204.2 1337.3,181.3 1339.1,177.4 1315.9,171.4 1301.3,168.5 1286.5,166.2 1271.6,164.6 1256.7,163.6 1241.7,163.3 1241.7,206.2 1241.7,249.1 1241.7,279.1ZM1240.7,283.4L1241.7,285 1241.7,244.8 1241.7,201.9 1241.7,163.3 1226.7,163.6 1211.8,164.6 1196.9,166.2 1182.1,168.5 1167.5,171.4 1144.3,177.4 1162.4,208 1182.5,234 1196.4,249.2 1210.6,259.6 1228.7,270.8 1233.6,274.9 1237.6,279.1Z"/>
<g fill="none" stroke="#b0b0b0" stroke-width="3.5" stroke-dasharray="3.6 6.2">
<path d="M1241.7,506.3L1241.70,163.30M1241.7,506.3L1413.20,209.25M1241.7,506.3L1538.75,334.80M1241.7,506.3L1584.70,506.30M1241.7,506.3L1538.75,677.80M1241.7,506.3L1413.20,803.35M1241.7,506.3L1241.70,849.30M1241.7,506.3L1070.20,803.35M1241.7,506.3L944.65,677.80M1241.7,506.3L898.70,506.30M1241.7,506.3L944.65,334.80M1241.7,506.3L1070.20,209.25"/>
<path d="M1241.70,437.70A68.60,68.60 0 1 1 1241.70,574.90A68.60,68.60 0 1 1 1241.70,437.70"/>
<path d="M1241.70,369.10A137.20,137.20 0 1 1 1241.70,643.50A137.20,137.20 0 1 1 1241.70,369.10"/>
<path d="M1241.70,300.50A205.80,205.80 0 1 1 1241.70,712.10A205.80,205.80 0 1 1 1241.70,300.50"/>
<path d="M1241.70,231.90A274.40,274.40 0 1 1 1241.70,780.70A274.40,274.40 0 1 1 1241.70,231.90"/>
</g>

</g>
<circle cx="1241.7" cy="506.3" r="343.0" fill="none" stroke="#000" stroke-width="3.33"/>
<g font-size="39.0"><text transform="translate(1241.0,128.7) rotate(0)" x="0" y="13.2" text-anchor="middle">0°</text><text transform="translate(1429.8,177.6) rotate(30)" x="0" y="13.2" text-anchor="middle">30°</text><text transform="translate(1568.4,315.0) rotate(60)" x="0" y="13.2" text-anchor="middle">60°</text><text transform="translate(1619.4,505.0) rotate(90)" x="0" y="13.2" text-anchor="middle">90°</text><text transform="translate(1558.4,691.6) rotate(-60)" x="0" y="13.2" text-anchor="middle">120°</text><text transform="translate(1420.8,826.6) rotate(-30)" x="0" y="13.2" text-anchor="middle">150°</text><text transform="translate(1241.7,876.1) rotate(0)" x="0" y="13.2" text-anchor="middle">180°</text><text transform="translate(1055.6,824.0) rotate(30)" x="0" y="13.2" text-anchor="middle">210°</text><text transform="translate(919.5,689.0) rotate(60)" x="0" y="13.2" text-anchor="middle">240°</text><text transform="translate(863.0,506.0) rotate(-90)" x="0" y="13.2" text-anchor="middle">270°</text><text transform="translate(909.0,317.7) rotate(-60)" x="0" y="13.2" text-anchor="middle">300°</text><text transform="translate(1048.0,180.0) rotate(-30)" x="0" y="13.2" text-anchor="middle">330°</text></g>
<g clip-path="url(#clip2)">
<path fill="#2b73b3" stroke="#2b73b3" stroke-width="0.45" stroke-linejoin="round" d="M2132.5,478.6L2129.7,483.1 2132.7,494.4 2133.7,506.3 2133.4,513.2 2137.5,515 2145.8,517.1 2188.9,518.1 2231.9,517.7 2272.1,515.3 2313.8,508.5 2356.6,498.8 2382,491.1 2407.1,480.6 2405.2,461.5 2402.9,446.7 2400,432.1 2396.4,417.5 2392.2,403.2 2387.4,389 2382,375 2376,361.3 2369.3,347.9 2362.1,334.8 2354.4,322 2346.1,309.6 2337.2,297.5 2327.9,285.8 2318,274.6 2307.6,263.8 2295.4,252.1 2289.5,258.3 2279.8,272.7 2262.5,308.9 2242.6,344.7 2220.7,378.2 2196.9,410.6 2170.8,440.8 2138.6,471.1 2132.7,478.3Z"/>
<path fill="#3e8cbf" stroke="#3e8cbf" stroke-width="0.45" stroke-linejoin="round" d="M2116.6,461L2124.5,472 2129.7,483.1 2138.6,471.1 2170.8,440.8 2199.7,407 2223.2,374.5 2244.9,340.8 2264.3,305.4 2282,268.9 2289.5,258.3 2295.4,252.1 2285.6,243.5 2273.9,234.2 2261.8,225.3 2244.1,213.7 2236.4,229.1 2221.9,270.8 2205.6,311.6 2186.2,350.7 2165.8,389.3 2144.9,422.5 2119.1,456.8 2118.9,457.1ZM2133.4,513.2L2130.5,526.9 2126.3,537.2 2137.8,543.1 2179.4,555.2 2221,566.8 2263.3,575.8 2306.7,581.1 2350.6,584 2394.5,585 2399,585 2402.9,565.9 2405.2,551.1 2406.8,536.2 2407.8,521.3 2408.1,506.3 2407.1,480.6 2377.8,492.7 2335.2,504 2292.3,512.3 2253.5,516.9 2210.4,518 2167.3,518.3 2150.1,517.7 2141.6,516.3 2137.5,515Z"/>
<path fill="#5fa5cd" stroke="#5fa5cd" stroke-width="0.45" stroke-linejoin="round" d="M2106.4,451.5L2116.6,461 2142.4,425.9 2163.7,393.2 2184.2,354.5 2203.8,315.6 2220.4,274.9 2234.7,233.1 2241.9,217.4 2244.1,213.7 2223.5,202.1 2205.8,193.5 2196.8,217.7 2185.8,259.9 2172.5,301.2 2157.6,341.9 2141.3,382 2122.3,420.8 2108.3,447.6ZM2126.3,537.2L2119.5,548.1 2117,551.2 2127,559.3 2164.5,581 2202,602.3 2241.1,621.1 2282.3,636 2325,647.6 2368,657.9 2372.2,659 2382,637.6 2387.4,623.6 2392.2,609.4 2399,585 2355.9,584.2 2315.5,581.8 2272,577.2 2229.4,568.9 2189.9,558 2149.9,547.5 2137.8,543.1 2130,539.4Z"/>
<path fill="#8ac0db" stroke="#8ac0db" stroke-width="0.45" stroke-linejoin="round" d="M2098.4,441.5L2097,445.6 2106.4,451.5 2126.4,413.2 2144.7,374 2160.7,333.8 2175.4,293 2188.1,251.4 2199.5,209.4 2205.8,193.5 2182.4,184 2172.2,180.5 2161.3,222 2152.7,264.4 2142.5,306.4 2130.6,347.8 2117.6,388.9 2102.8,429.3 2099.9,437.4ZM2117,551.2L2106.8,560.8 2121.1,576.8 2153,606 2184.4,635.4 2217.9,662.8 2254.7,686.5 2293.6,707.5 2328.6,725.9 2337.2,715.1 2346.1,703 2354.4,690.6 2362.1,677.8 2372.2,659 2329.3,648.7 2286.5,637.3 2245.1,622.8 2205.8,604.3 2168.3,583.1 2133,563.3 2123.5,556.8 2120.2,554Z"/>
<path fill="#acd2e5" stroke="#acd2e5" stroke-width="0.45" stroke-linejoin="round" d="M2087.8,441.6L2097,445.6 2111.6,405 2125.6,364.3 2137.9,323 2148.9,281.3 2157.9,239 2167.2,196.9 2172.2,180.5 2153.9,175 2140.6,171.7 2132.6,213.9 2127,256.6 2119.8,299 2111.6,341.2 2102.3,383.2 2092,424.9 2088.9,437.4ZM2109.5,564.1L2106.8,560.8 2095.8,567.6 2118.8,604 2142.6,639.8 2166.8,675.3 2193.6,709.1 2223.5,740.8 2253.9,771.9 2266,784.3 2285.6,769.1 2296.8,759.2 2307.6,748.8 2318,738 2328.6,725.9 2289.6,705.4 2250.9,684.2 2214.4,660.2 2181.2,632.6 2149.9,603.1 2118.1,573.7 2112.3,567.4Z"/>
<path fill="#cfe4ef" stroke="#cfe4ef" stroke-width="0.45" stroke-linejoin="round" d="M2078.7,439.1L2087.8,441.6 2098.1,399.8 2108.1,358.1 2116.6,315.9 2124.3,273.6 2130.3,230.9 2137,188.5 2140.6,171.7 2124.7,168.5 2110,166.3 2105.2,208.9 2101.9,251.7 2097.8,294.4 2093,337.1 2087.8,377.7 2082.1,417.9 2079.4,434.8ZM2095.8,567.6L2084,572.3 2097.9,612.9 2113.1,653 2128.6,693 2146.1,732.3 2165.5,770.9 2185.3,809.2 2193,824.6 2210.1,817.2 2223.5,810.5 2236.6,803.3 2249.4,795.6 2266,784.3 2235.7,753.3 2205.3,722 2177.1,689.1 2152.1,654.1 2128.5,618.2 2104.3,582.6 2097.8,571.4Z"/>
<path fill="#e3edf3" stroke="#e3edf3" stroke-width="0.45" stroke-linejoin="round" d="M2069.6,437.8L2078.7,439.1 2085.1,396.6 2091,354.1 2095.9,311.5 2100.4,268.8 2103.8,226 2107.8,183.3 2109.9,166.2 2095,164.6 2080.1,163.6 2078.4,206.5 2077.3,249.3 2076,292.2 2074.4,335.1 2072.6,377.9 2070.6,420.7 2069.9,433.6ZM2084,572.3L2071.5,574.6 2076.1,617.2 2081.4,659.8 2086.8,702.3 2092.8,744.8 2099.4,787.2 2106.2,829.5 2109,846.5 2124.7,844.1 2139.3,841.2 2153.9,837.6 2168.2,833.4 2193,824.6 2173.4,786.2 2153.7,747.8 2135.3,708.8 2119.2,669 2104,628.9 2089.2,588.6 2085.3,576.3Z"/>
<path fill="#f7f6f6" stroke="#f7f6f6" stroke-width="0.45" stroke-linejoin="round" d="M2065.1,437.7L2069.6,437.8 2071.9,395 2073.8,352.2 2075.3,309.3 2076.9,266.5 2077.9,223.6 2079.3,180.8 2080.1,163.6 2065.1,163.3 2065.1,206.2 2065.1,249.1 2065.1,291.9 2065.1,334.8 2065.1,377.7 2065.1,420.6 2065.1,433.4ZM2071.5,574.6L2058.7,574.6 2054.1,617.2 2048.8,659.8 2043.4,702.3 2037.4,744.8 2030.8,787.2 2024,829.5 2021.2,846.5 2035.2,848 2050.1,849 2065.1,849.3 2080.1,849 2095,848 2109,846.5 2102.1,804.1 2095.4,761.8 2089.1,719.3 2083.5,676.8 2078.2,634.3 2073.4,591.7 2072,578.9ZM2060.6,437.8L2065.1,437.7 2065.1,394.8 2065.1,352 2065.1,309.1 2065.1,266.2 2065.1,223.3 2065.1,180.5 2065.1,163.3 2050.1,163.6 2051.8,206.5 2052.9,249.3 2054.2,292.2 2055.8,335.1 2057.6,377.9 2059.6,420.7 2060.3,433.6Z"/>
<path fill="#fae8de" stroke="#fae8de" stroke-width="0.45" stroke-linejoin="round" d="M2058.7,574.6L2046.2,572.3 2032.3,612.9 2017.1,653 2001.6,693 1984.1,732.3 1964.7,770.9 1944.9,809.2 1937.2,824.6 1962,833.4 1976.3,837.6 1990.9,841.2 2005.5,844.1 2021.2,846.5 2028.1,804.1 2034.8,761.8 2041.1,719.3 2046.7,676.8 2052,634.3 2056.8,591.7 2058.2,578.9ZM2051.5,439.1L2060.6,437.8 2058.3,395 2056.4,352.2 2054.9,309.3 2053.3,266.5 2052.3,223.6 2050.9,180.8 2050.1,163.6 2035.2,164.6 2020.2,166.3 2025,208.9 2028.3,251.7 2032.4,294.4 2037.2,337.1 2042.4,377.7 2048.1,417.9 2050.8,434.8Z"/>
<path fill="#fdd9c4" stroke="#fdd9c4" stroke-width="0.45" stroke-linejoin="round" d="M2046.2,572.3L2034.4,567.6 2011.4,604 1987.6,639.8 1963.4,675.3 1936.6,709.1 1906.7,740.8 1876.3,771.9 1864.2,784.3 1880.8,795.6 1893.6,803.3 1906.7,810.5 1920.1,817.2 1937.2,824.6 1956.8,786.2 1976.5,747.8 1994.9,708.8 2011,669 2026.2,628.9 2041,588.6 2044.9,576.3ZM2042.4,441.6L2051.5,439.1 2045.1,396.6 2039.2,354.1 2034.3,311.5 2029.8,268.8 2026.4,226 2022.4,183.3 2020.2,166.3 2005.5,168.5 1989.6,171.7 1997.6,213.9 2003.2,256.6 2010.4,299 2018.6,341.2 2027.9,383.2 2038.2,424.9 2041.3,437.4Z"/>
<path fill="#f8bb9e" stroke="#f8bb9e" stroke-width="0.45" stroke-linejoin="round" d="M2034.4,567.6L2023.4,560.8 2009.1,576.8 1977.2,606 1945.8,635.4 1912.3,662.8 1875.5,686.5 1836.6,707.5 1801.6,725.9 1812.2,738 1822.6,748.8 1833.4,759.2 1844.6,769.1 1864.2,784.3 1894.5,753.3 1924.9,722 1953.1,689.1 1978.1,654.1 2001.7,618.2 2025.9,582.6 2032.4,571.4ZM2033.2,445.6L2042.4,441.6 2032.1,399.8 2022.1,358.1 2013.6,315.9 2005.9,273.6 1999.9,230.9 1993.2,188.5 1989.6,171.7 1976.3,175 1958,180.5 1968.9,222 1977.5,264.4 1987.7,306.4 1999.6,347.8 2012.6,388.9 2027.4,429.3 2032.7,444Z"/>
<path fill="#f19e7d" stroke="#f19e7d" stroke-width="0.45" stroke-linejoin="round" d="M2023.4,560.8L2013.2,551.2 2003.2,559.3 1965.7,581 1928.2,602.3 1889.1,621.1 1847.9,636 1805.2,647.6 1762.2,657.9 1758,659 1768.1,677.8 1775.8,690.6 1784.1,703 1793,715.1 1801.6,725.9 1840.6,705.4 1879.3,684.2 1915.8,660.2 1949,632.6 1980.3,603.1 2012.1,573.7 2021.3,563.4ZM2023.8,451.5L2033.2,445.6 2018.6,405 2004.6,364.3 1992.3,323 1981.3,281.3 1972.3,239 1963,196.9 1958,180.5 1933.8,189.4 1924.4,193.5 1933.4,217.7 1944.4,259.9 1957.7,301.2 1972.6,341.9 1988.9,382 2007.9,420.8 2021.9,447.6Z"/>
<path fill="#e17860" stroke="#e17860" stroke-width="0.45" stroke-linejoin="round" d="M2013.2,551.2L2005.7,540.6 2003.9,537.2 1992.4,543.1 1950.8,555.2 1909.2,566.8 1866.9,575.8 1823.5,581.1 1779.6,584 1735.7,585 1731.2,585 1738,609.4 1742.8,623.6 1748.2,637.6 1758,659 1800.9,648.7 1843.7,637.3 1885.1,622.8 1924.4,604.3 1961.9,583.1 1997.2,563.3 2006.7,556.8 2010,554ZM2013.6,461L2023.8,451.5 2003.8,413.2 1985.5,374 1969.5,333.8 1954.8,293 1942.1,251.4 1930.7,209.4 1924.4,193.5 1906.7,202.1 1886.1,213.7 1893.8,229.1 1908.3,270.8 1924.6,311.6 1944,350.7 1964.4,389.3 1985.3,422.5 2011.1,456.8 2011.3,457.1Z"/>
<path fill="#d05548" stroke="#d05548" stroke-width="0.45" stroke-linejoin="round" d="M2003.9,537.2L1998.8,524.1 1996.8,513.2 1992.7,515 1984.4,517.1 1941.3,518.1 1898.3,517.7 1858.1,515.3 1816.4,508.5 1773.6,498.8 1748.2,491.1 1723.1,480.6 1722.1,506.3 1722.4,521.3 1723.4,536.2 1725,551.1 1727.3,565.9 1731.2,585 1774.3,584.2 1814.7,581.8 1858.2,577.2 1900.8,568.9 1940.3,558 1980.3,547.5 1992.4,543.1 2000.2,539.4ZM2000.5,483.1L2005.7,472 2013.6,461 1987.8,425.9 1966.5,393.2 1946,354.5 1926.4,315.6 1909.8,274.9 1895.5,233.1 1888.3,217.4 1886.1,213.7 1868.4,225.3 1856.3,234.2 1844.6,243.5 1834.8,252.1 1840.7,258.3 1850.4,272.7 1867.7,308.9 1887.6,344.7 1909.5,378.2 1933.3,410.6 1959.4,440.8 1991.6,471.1 1997.7,478.6 2000.3,482.7Z"/>
<path fill="#bd2d35" stroke="#bd2d35" stroke-width="0.45" stroke-linejoin="round" d="M1996.8,513.2L1996.8,500.3 1998.8,488.5 2000.5,483.1 1991.6,471.1 1959.4,440.8 1930.5,407 1907,374.5 1885.3,340.8 1865.9,305.4 1848.2,268.9 1840.7,258.3 1834.8,252.1 1822.6,263.8 1812.2,274.6 1802.3,285.8 1793,297.5 1784.1,309.6 1775.8,322 1768.1,334.8 1760.9,347.9 1754.2,361.3 1748.2,375 1742.8,389 1738,403.2 1733.8,417.5 1730.2,432.1 1727.3,446.7 1725,461.5 1723.1,480.6 1752.4,492.7 1795,504 1837.9,512.3 1876.7,516.9 1919.8,518 1962.9,518.3 1980.1,517.7 1988.6,516.3 1992.7,515Z"/>
<path fill="#000" d="M2065.9,437.7 2065.9,436.3 2067.6,437.2 2065.1,428.7 2062.5,437.2 2064.2,436.3 2064.3,437.7ZM2071.9,437.9 2071.9,436.9 2073.6,437.7 2070.8,429.3 2068.5,437.9 2070.2,437.0 2070.2,438.0ZM2077.9,438.7 2077.8,437.8 2079.5,438.6 2076.4,430.3 2074.5,438.9 2076.1,438.0 2076.2,438.8ZM2083.7,439.9 2083.6,439.1 2085.4,439.8 2082.0,431.7 2080.4,440.3 2081.9,439.3 2082.0,440.1ZM2089.4,441.7 2089.3,440.9 2091.1,441.5 2087.3,433.5 2086.1,442.2 2087.6,441.1 2087.7,442.0ZM2094.9,444.0 2094.8,443.1 2096.6,443.7 2092.5,435.8 2091.6,444.6 2093.1,443.4 2093.3,444.3ZM2100.2,446.7 2100.0,445.7 2101.9,446.2 2097.6,438.4 2096.9,447.3 2098.4,446.1 2098.6,447.1ZM2105.3,449.9 2105.0,448.7 2106.8,449.2 2102.4,441.5 2101.9,450.4 2103.3,449.1 2103.6,450.3ZM2110.0,453.5 2109.7,452.2 2111.5,452.6 2106.9,445.0 2106.6,453.9 2108.0,452.6 2108.4,454.0ZM2114.4,457.6 2114.0,456.0 2115.9,456.4 2111.1,448.9 2111.0,457.8 2112.4,456.5 2112.8,458.0ZM2118.5,462.0 2118.0,460.3 2119.8,460.6 2114.9,453.2 2115.0,462.1 2116.3,460.8 2116.8,462.5ZM2122.1,466.7 2121.5,464.9 2123.4,465.2 2118.3,457.9 2118.6,466.8 2119.9,465.4 2120.5,467.2ZM2125.3,471.7 2124.6,469.8 2126.5,470.0 2121.3,462.9 2121.7,471.7 2123.0,470.4 2123.7,472.3ZM2128.1,477.0 2127.3,474.9 2129.2,475.2 2123.9,468.1 2124.4,476.9 2125.7,475.5 2126.5,477.6ZM2130.4,482.5 2129.5,480.3 2131.4,480.5 2126.0,473.5 2126.6,482.3 2127.9,480.9 2128.8,483.1ZM2132.2,488.2 2131.2,485.8 2133.1,486.0 2127.6,479.0 2128.3,487.8 2129.6,486.4 2130.6,488.9ZM2133.4,494.1 2132.4,491.4 2134.3,491.6 2128.8,484.6 2129.6,493.5 2130.8,492.0 2131.9,494.7ZM2134.2,500.0 2133.1,497.1 2135.0,497.3 2129.6,490.3 2130.3,499.2 2131.5,497.8 2132.6,500.6ZM2134.5,506.0 2133.3,502.9 2135.2,503.1 2129.8,496.1 2130.4,504.9 2131.7,503.5 2132.9,506.6ZM2134.2,512.0 2133.0,508.6 2134.9,508.8 2129.5,501.8 2130.1,510.7 2131.4,509.3 2132.6,512.6ZM2133.5,517.9 2132.1,514.4 2134.0,514.6 2128.7,507.5 2129.3,516.4 2130.6,515.0 2131.9,518.5ZM2132.2,523.8 2130.9,520.1 2132.7,520.3 2127.5,513.2 2127.9,522.0 2129.3,520.7 2130.6,524.3ZM2130.4,529.5 2129.1,525.7 2131.0,525.9 2125.8,518.7 2126.1,527.6 2127.5,526.2 2128.8,530.0ZM2128.1,535.0 2126.8,531.1 2128.7,531.4 2123.7,524.0 2123.8,532.9 2125.2,531.6 2126.5,535.5ZM2125.3,540.4 2124.1,536.3 2126.0,536.6 2121.1,529.2 2121.1,538.1 2122.5,536.8 2123.7,540.8ZM2122.1,545.4 2121.0,541.2 2122.8,541.6 2118.1,534.1 2117.9,542.9 2119.3,541.7 2120.5,545.9ZM2118.5,550.2 2117.4,545.9 2119.2,546.3 2114.7,538.7 2114.3,547.5 2115.7,546.3 2116.8,550.6ZM2114.4,554.6 2113.4,550.2 2115.3,550.6 2110.8,542.9 2110.3,551.8 2111.8,550.6 2112.8,555.0ZM2110.0,558.7 2109.1,554.2 2110.9,554.6 2106.7,546.9 2105.9,555.7 2107.4,554.5 2108.4,559.0ZM2105.3,562.3 2104.4,557.8 2106.2,558.3 2102.2,550.4 2101.2,559.2 2102.7,558.1 2103.6,562.7ZM2100.2,565.6 2099.5,560.9 2101.3,561.5 2097.4,553.5 2096.3,562.3 2097.8,561.2 2098.6,565.8ZM2094.9,568.4 2094.3,563.7 2096.1,564.3 2092.4,556.3 2091.0,565.0 2092.6,563.9 2093.2,568.6ZM2089.4,570.7 2088.9,566.1 2090.7,566.7 2087.2,558.5 2085.6,567.3 2087.2,566.2 2087.7,570.9ZM2083.7,572.5 2083.3,567.9 2085.1,568.6 2081.8,560.4 2080.0,569.0 2081.6,568.1 2082.0,572.6ZM2077.9,573.8 2077.6,569.3 2079.4,570.0 2076.3,561.7 2074.3,570.3 2075.9,569.4 2076.2,573.9ZM2071.9,574.6 2071.8,570.1 2073.5,570.9 2070.7,562.5 2068.4,571.1 2070.1,570.2 2070.2,574.7ZM2065.9,574.9 2065.9,570.5 2067.6,571.3 2065.1,562.8 2062.5,571.3 2064.2,570.5 2064.3,574.9ZM2060.0,574.7 2060.1,570.2 2061.8,571.1 2059.5,562.5 2056.7,570.9 2058.4,570.1 2058.3,574.6ZM2054.0,573.9 2054.3,569.4 2055.9,570.3 2053.9,561.7 2050.8,570.0 2052.6,569.3 2052.3,573.8ZM2048.2,572.6 2048.6,568.1 2050.2,569.0 2048.4,560.4 2045.1,568.6 2046.9,567.9 2046.5,572.5ZM2042.5,570.9 2043.0,566.2 2044.6,567.3 2043.0,558.5 2039.5,566.7 2041.3,566.1 2040.8,570.7ZM2037.0,568.6 2037.6,563.9 2039.2,565.0 2037.8,556.3 2034.1,564.3 2035.9,563.7 2035.3,568.4ZM2031.6,565.8 2032.4,561.2 2033.9,562.3 2032.8,553.5 2028.9,561.5 2030.7,560.9 2030.0,565.6ZM2026.6,562.7 2027.5,558.1 2029.0,559.2 2028.0,550.4 2024.0,558.3 2025.8,557.8 2024.9,562.3ZM2021.8,559.0 2022.8,554.5 2024.3,555.7 2023.5,546.9 2019.3,554.6 2021.1,554.2 2020.2,558.7ZM2017.4,555.0 2018.4,550.6 2019.9,551.8 2019.4,542.9 2014.9,550.6 2016.8,550.2 2015.8,554.6ZM2013.4,550.6 2014.5,546.3 2015.9,547.5 2015.5,538.7 2011.0,546.3 2012.8,545.9 2011.7,550.2ZM2009.7,545.9 2010.9,541.7 2012.3,542.9 2012.1,534.1 2007.4,541.6 2009.2,541.2 2008.1,545.4ZM2006.5,540.8 2007.7,536.8 2009.1,538.1 2009.1,529.2 2004.2,536.6 2006.1,536.3 2004.9,540.4ZM2003.7,535.5 2005.0,531.6 2006.4,532.9 2006.5,524.0 2001.5,531.4 2003.4,531.1 2002.1,535.0ZM2001.4,530.0 2002.7,526.2 2004.1,527.6 2004.4,518.7 1999.2,525.9 2001.1,525.7 1999.8,529.5ZM1999.6,524.3 2000.9,520.7 2002.3,522.0 2002.7,513.2 1997.5,520.3 1999.3,520.1 1998.0,523.8ZM1998.3,518.5 1999.6,515.0 2000.9,516.4 2001.5,507.5 1996.2,514.6 1998.1,514.4 1996.7,517.9ZM1997.6,512.6 1998.8,509.3 2000.1,510.7 2000.7,501.8 1995.3,508.8 1997.2,508.6 1996.0,512.0ZM1997.3,506.6 1998.5,503.5 1999.8,504.9 2000.4,496.1 1995.0,503.1 1996.9,502.9 1995.7,506.0ZM1997.6,500.6 1998.7,497.8 1999.9,499.2 2000.6,490.3 1995.2,497.3 1997.1,497.1 1996.0,500.0ZM1998.3,494.7 1999.4,492.0 2000.6,493.5 2001.4,484.6 1995.9,491.6 1997.8,491.4 1996.8,494.1ZM1999.6,488.9 2000.6,486.4 2001.9,487.8 2002.6,479.0 1997.1,486.0 1999.0,485.8 1998.0,488.2ZM2001.4,483.1 2002.3,480.9 2003.6,482.3 2004.2,473.5 1998.8,480.5 2000.7,480.3 1999.8,482.5ZM2003.7,477.6 2004.5,475.5 2005.8,476.9 2006.3,468.1 2001.0,475.2 2002.9,474.9 2002.1,477.0ZM2006.5,472.3 2007.2,470.4 2008.5,471.7 2008.9,462.9 2003.7,470.0 2005.6,469.8 2004.9,471.7ZM2009.7,467.2 2010.3,465.4 2011.6,466.8 2011.9,457.9 2006.8,465.2 2008.7,464.9 2008.1,466.7ZM2013.4,462.5 2013.9,460.8 2015.2,462.1 2015.3,453.2 2010.4,460.6 2012.2,460.3 2011.7,462.0ZM2017.4,458.0 2017.8,456.5 2019.2,457.8 2019.1,448.9 2014.3,456.4 2016.2,456.0 2015.8,457.6ZM2021.8,454.0 2022.2,452.6 2023.6,453.9 2023.3,445.0 2018.7,452.6 2020.5,452.2 2020.2,453.5ZM2026.6,450.3 2026.9,449.1 2028.3,450.4 2027.8,441.5 2023.4,449.2 2025.2,448.7 2024.9,449.9ZM2031.6,447.1 2031.8,446.1 2033.3,447.3 2032.6,438.4 2028.3,446.2 2030.2,445.7 2030.0,446.7ZM2036.9,444.3 2037.1,443.4 2038.6,444.6 2037.7,435.8 2033.6,443.7 2035.4,443.1 2035.3,444.0ZM2042.5,442.0 2042.6,441.1 2044.1,442.2 2042.9,433.5 2039.1,441.5 2040.9,440.9 2040.8,441.7ZM2048.2,440.1 2048.3,439.3 2049.8,440.3 2048.2,431.7 2044.8,439.8 2046.6,439.1 2046.5,439.9ZM2054.0,438.8 2054.1,438.0 2055.7,438.9 2053.8,430.3 2050.7,438.6 2052.4,437.8 2052.3,438.7ZM2060.0,438.0 2060.0,437.0 2061.7,437.9 2059.4,429.3 2056.6,437.7 2058.3,436.9 2058.3,437.9ZM2065.9,420.5 2065.9,419.0 2067.6,419.8 2065.1,411.3 2062.5,419.8 2064.2,419.0 2064.3,420.6ZM2073.4,420.8 2073.4,419.6 2075.1,420.4 2072.3,412.0 2070.0,420.6 2071.7,419.7 2071.7,420.9ZM2080.8,421.8 2080.8,420.8 2082.5,421.5 2079.4,413.2 2077.4,421.9 2079.1,420.9 2079.1,421.9ZM2088.1,423.4 2088.0,422.4 2089.8,423.0 2086.3,414.9 2084.7,423.6 2086.3,422.6 2086.4,423.6ZM2095.3,425.6 2095.1,424.6 2096.9,425.1 2093.1,417.1 2091.9,425.9 2093.4,424.8 2093.6,425.9ZM2102.2,428.4 2101.9,427.3 2103.8,427.8 2099.6,419.9 2098.8,428.7 2100.3,427.6 2100.5,428.7ZM2108.8,431.9 2108.5,430.5 2110.3,431.0 2106.0,423.2 2105.4,432.1 2106.8,430.9 2107.1,432.2ZM2115.1,435.9 2114.7,434.3 2116.6,434.7 2112.0,427.1 2111.6,436.0 2113.1,434.7 2113.5,436.3ZM2121.0,440.4 2120.6,438.7 2122.4,439.0 2117.8,431.5 2117.5,440.4 2118.9,439.1 2119.4,440.8ZM2126.6,445.4 2126.0,443.5 2127.9,443.9 2123.1,436.4 2123.0,445.3 2124.4,444.0 2124.9,445.9ZM2131.6,450.9 2131.0,448.9 2132.9,449.2 2127.9,441.9 2128.0,450.7 2129.4,449.4 2130.0,451.4ZM2136.1,456.8 2135.4,454.7 2137.3,455.0 2132.2,447.7 2132.5,456.6 2133.8,455.3 2134.5,457.4ZM2140.2,463.1 2139.4,460.9 2141.3,461.1 2136.0,454.0 2136.4,462.8 2137.8,461.5 2138.6,463.7ZM2143.6,469.8 2142.7,467.4 2144.6,467.6 2139.3,460.5 2139.8,469.4 2141.1,468.0 2142.0,470.4ZM2146.5,476.7 2145.5,474.1 2147.4,474.3 2142.0,467.3 2142.6,476.1 2143.9,474.7 2144.9,477.3ZM2148.7,483.8 2147.7,481.1 2149.6,481.3 2144.1,474.3 2144.8,483.1 2146.1,481.7 2147.1,484.4ZM2150.3,491.1 2149.2,488.2 2151.1,488.4 2145.6,481.4 2146.3,490.2 2147.6,488.8 2148.8,491.7ZM2151.3,498.5 2150.1,495.4 2152.0,495.6 2146.5,488.6 2147.3,497.5 2148.5,496.1 2149.7,499.1ZM2151.6,506.0 2150.4,502.7 2152.3,502.9 2146.8,495.9 2147.5,504.8 2148.8,503.3 2150.1,506.6ZM2151.3,513.5 2150.0,510.0 2151.9,510.2 2146.5,503.2 2147.1,512.0 2148.4,510.6 2149.7,514.1ZM2150.3,520.9 2149.0,517.3 2150.9,517.5 2145.6,510.4 2146.1,519.3 2147.4,517.9 2148.8,521.5ZM2148.7,528.2 2147.4,524.5 2149.3,524.7 2144.0,517.5 2144.5,526.4 2145.8,525.0 2147.1,528.8ZM2146.5,535.4 2145.2,531.5 2147.0,531.7 2141.9,524.5 2142.2,533.4 2143.6,532.0 2144.9,535.9ZM2143.6,542.3 2142.3,538.3 2144.2,538.6 2139.2,531.3 2139.4,540.1 2140.7,538.8 2142.0,542.8ZM2140.2,548.9 2138.9,544.8 2140.8,545.1 2135.8,537.7 2135.9,546.6 2137.3,545.3 2138.5,549.4ZM2136.2,555.2 2134.9,551.0 2136.8,551.3 2132.0,543.9 2131.9,552.7 2133.3,551.5 2134.5,555.7ZM2131.6,561.2 2130.4,556.8 2132.3,557.2 2127.6,549.6 2127.4,558.5 2128.8,557.3 2130.0,561.6ZM2126.6,566.7 2125.5,562.2 2127.3,562.7 2122.8,555.0 2122.4,563.9 2123.8,562.6 2124.9,567.1ZM2121.0,571.8 2120.0,567.2 2121.9,567.7 2117.5,559.9 2116.9,568.8 2118.4,567.6 2119.4,572.2ZM2115.1,576.4 2114.2,571.7 2116.0,572.2 2111.8,564.4 2111.0,573.2 2112.5,572.0 2113.5,576.7ZM2108.8,580.4 2108.0,575.7 2109.8,576.2 2105.8,568.3 2104.8,577.1 2106.3,576.0 2107.1,580.7ZM2102.2,583.9 2101.5,579.1 2103.3,579.7 2099.5,571.7 2098.2,580.5 2099.8,579.4 2100.5,584.1ZM2095.3,586.8 2094.7,582.0 2096.5,582.7 2093.0,574.5 2091.4,583.3 2093.0,582.2 2093.6,587.0ZM2088.1,589.1 2087.7,584.3 2089.5,585.0 2086.2,576.8 2084.4,585.5 2086.0,584.5 2086.4,589.2ZM2080.8,590.7 2080.6,586.0 2082.3,586.8 2079.3,578.4 2077.2,587.1 2078.9,586.1 2079.1,590.8ZM2073.4,591.7 2073.3,587.1 2075.0,587.9 2072.2,579.4 2069.9,588.0 2071.6,587.1 2071.7,591.7ZM2065.9,592.1 2066.0,587.5 2067.7,588.3 2065.1,579.8 2062.6,588.3 2064.3,587.5 2064.3,592.0ZM2058.5,591.7 2058.6,587.1 2060.3,588.0 2058.0,579.4 2055.2,587.9 2056.9,587.1 2056.8,591.7ZM2051.1,590.8 2051.3,586.1 2053.0,587.1 2050.9,578.4 2047.9,586.8 2049.6,586.0 2049.4,590.7ZM2043.8,589.2 2044.2,584.5 2045.8,585.5 2044.0,576.8 2040.7,585.0 2042.5,584.3 2042.1,589.1ZM2036.6,587.0 2037.2,582.2 2038.8,583.3 2037.2,574.5 2033.7,582.7 2035.5,582.0 2034.9,586.8ZM2029.7,584.1 2030.4,579.4 2032.0,580.5 2030.7,571.7 2026.9,579.7 2028.7,579.1 2028.0,583.9ZM2023.1,580.7 2023.9,576.0 2025.4,577.1 2024.4,568.3 2020.4,576.2 2022.2,575.7 2021.4,580.4ZM2016.7,576.7 2017.7,572.0 2019.2,573.2 2018.4,564.4 2014.2,572.2 2016.0,571.7 2015.1,576.4ZM2010.8,572.2 2011.8,567.6 2013.3,568.8 2012.7,559.9 2008.3,567.7 2010.2,567.2 2009.2,571.8ZM2005.3,567.1 2006.4,562.6 2007.8,563.9 2007.4,555.0 2002.9,562.7 2004.7,562.2 2003.6,566.7ZM2000.2,561.6 2001.4,557.3 2002.8,558.5 2002.6,549.6 1997.9,557.2 1999.8,556.8 1998.6,561.2ZM1995.7,555.7 1996.9,551.5 1998.3,552.7 1998.2,543.9 1993.4,551.3 1995.3,551.0 1994.0,555.2ZM1991.7,549.4 1992.9,545.3 1994.3,546.6 1994.4,537.7 1989.4,545.1 1991.3,544.8 1990.0,548.9ZM1988.2,542.8 1989.5,538.8 1990.8,540.1 1991.0,531.3 1986.0,538.6 1987.9,538.3 1986.6,542.3ZM1985.3,535.9 1986.6,532.0 1988.0,533.4 1988.3,524.5 1983.2,531.7 1985.0,531.5 1983.7,535.4ZM1983.1,528.8 1984.4,525.0 1985.7,526.4 1986.2,517.5 1980.9,524.7 1982.8,524.5 1981.5,528.2ZM1981.4,521.5 1982.8,517.9 1984.1,519.3 1984.6,510.4 1979.3,517.5 1981.2,517.3 1979.9,520.9ZM1980.5,514.1 1981.8,510.6 1983.1,512.0 1983.7,503.2 1978.3,510.2 1980.2,510.0 1978.9,513.5ZM1980.1,506.6 1981.4,503.3 1982.7,504.8 1983.4,495.9 1977.9,502.9 1979.8,502.7 1978.6,506.0ZM1980.5,499.1 1981.7,496.1 1982.9,497.5 1983.7,488.6 1978.2,495.6 1980.1,495.4 1978.9,498.5ZM1981.4,491.7 1982.6,488.8 1983.9,490.2 1984.6,481.4 1979.1,488.4 1981.0,488.2 1979.9,491.1ZM1983.1,484.4 1984.1,481.7 1985.4,483.1 1986.1,474.3 1980.6,481.3 1982.5,481.1 1981.5,483.8ZM1985.3,477.3 1986.3,474.7 1987.6,476.1 1988.2,467.3 1982.8,474.3 1984.7,474.1 1983.7,476.7ZM1988.2,470.4 1989.1,468.0 1990.4,469.4 1990.9,460.5 1985.6,467.6 1987.5,467.4 1986.6,469.8ZM1991.6,463.7 1992.4,461.5 1993.8,462.8 1994.2,454.0 1988.9,461.1 1990.8,460.9 1990.0,463.1ZM1995.7,457.4 1996.4,455.3 1997.7,456.6 1998.0,447.7 1992.9,455.0 1994.8,454.7 1994.1,456.8ZM2000.2,451.4 2000.8,449.4 2002.2,450.7 2002.3,441.9 1997.3,449.2 1999.2,448.9 1998.6,450.9ZM2005.3,445.9 2005.8,444.0 2007.2,445.3 2007.1,436.4 2002.3,443.9 2004.2,443.5 2003.6,445.4ZM2010.8,440.8 2011.3,439.1 2012.7,440.4 2012.4,431.5 2007.8,439.0 2009.6,438.7 2009.2,440.4ZM2016.7,436.3 2017.1,434.7 2018.6,436.0 2018.2,427.1 2013.6,434.7 2015.5,434.3 2015.1,435.9ZM2023.1,432.2 2023.4,430.9 2024.8,432.1 2024.2,423.2 2019.9,431.0 2021.7,430.5 2021.4,431.9ZM2029.7,428.7 2029.9,427.6 2031.4,428.7 2030.6,419.9 2026.4,427.8 2028.3,427.3 2028.0,428.4ZM2036.6,425.9 2036.8,424.8 2038.3,425.9 2037.1,417.1 2033.3,425.1 2035.1,424.6 2034.9,425.6ZM2043.8,423.6 2043.9,422.6 2045.5,423.6 2043.9,414.9 2040.4,423.0 2042.2,422.4 2042.1,423.4ZM2051.1,421.9 2051.1,420.9 2052.8,421.9 2050.8,413.2 2047.7,421.5 2049.4,420.8 2049.4,421.8ZM2058.5,420.9 2058.5,419.7 2060.2,420.6 2057.9,412.0 2055.1,420.4 2056.8,419.6 2056.8,420.8ZM2065.9,403.4 2066.0,401.7 2067.7,402.6 2065.1,394.1 2062.6,402.6 2064.3,401.7 2064.3,403.4ZM2074.9,403.8 2074.9,402.4 2076.6,403.2 2073.8,394.8 2071.5,403.4 2073.2,402.5 2073.2,403.8ZM2083.8,404.9 2083.7,403.7 2085.5,404.5 2082.3,396.2 2080.4,404.9 2082.0,403.9 2082.1,405.0ZM2092.6,406.8 2092.4,405.7 2094.2,406.3 2090.6,398.2 2089.2,406.9 2090.7,405.9 2090.9,407.0ZM2101.1,409.5 2100.9,408.3 2102.7,408.8 2098.8,400.9 2097.7,409.7 2099.2,408.5 2099.5,409.7ZM2109.4,412.9 2109.1,411.5 2111.0,412.0 2106.7,404.2 2106.0,413.0 2107.5,411.9 2107.8,413.2ZM2117.4,417.0 2117.0,415.5 2118.9,415.9 2114.4,408.2 2113.9,417.1 2115.4,415.9 2115.7,417.4ZM2124.9,421.8 2124.5,420.1 2126.4,420.5 2121.7,412.9 2121.4,421.8 2122.9,420.6 2123.3,422.2ZM2132.1,427.2 2131.5,425.4 2133.4,425.8 2128.6,418.3 2128.5,427.2 2129.9,425.9 2130.4,427.7ZM2138.7,433.3 2138.1,431.3 2139.9,431.6 2135.0,424.3 2135.1,433.1 2136.4,431.8 2137.0,433.8ZM2144.7,439.9 2144.0,437.8 2145.9,438.1 2140.8,430.8 2141.1,439.7 2142.4,438.3 2143.1,440.4ZM2150.2,447.0 2149.4,444.8 2151.3,445.0 2146.0,437.9 2146.5,446.7 2147.8,445.4 2148.6,447.6ZM2155.0,454.6 2154.1,452.2 2156.0,452.4 2150.7,445.3 2151.2,454.2 2152.5,452.8 2153.4,455.1ZM2159.2,462.5 2158.2,460.0 2160.1,460.2 2154.6,453.2 2155.3,462.0 2156.6,460.6 2157.6,463.1ZM2162.6,470.8 2161.5,468.1 2163.4,468.3 2157.9,461.3 2158.7,470.2 2160.0,468.8 2161.0,471.4ZM2165.3,479.4 2164.2,476.5 2166.1,476.7 2160.5,469.7 2161.3,478.6 2162.6,477.2 2163.7,480.0ZM2167.2,488.1 2166.0,485.1 2167.9,485.3 2162.4,478.4 2163.2,487.2 2164.5,485.8 2165.6,488.7ZM2168.4,497.0 2167.1,493.9 2169.0,494.0 2163.5,487.1 2164.3,495.9 2165.6,494.5 2166.8,497.6ZM2168.8,506.0 2167.5,502.7 2169.4,502.9 2163.8,495.9 2164.6,504.7 2165.9,503.3 2167.2,506.6ZM2168.4,515.0 2167.1,511.5 2168.9,511.7 2163.5,504.7 2164.2,513.6 2165.5,512.1 2166.8,515.6ZM2167.2,523.9 2165.9,520.3 2167.8,520.5 2162.3,513.5 2163.0,522.3 2164.3,520.9 2165.6,524.5ZM2165.3,532.6 2163.9,528.9 2165.8,529.2 2160.5,522.1 2161.0,530.9 2162.3,529.5 2163.7,533.2ZM2162.6,541.2 2161.2,537.4 2163.1,537.6 2157.9,530.5 2158.3,539.3 2159.6,538.0 2161.0,541.8ZM2159.2,549.5 2157.8,545.6 2159.7,545.8 2154.6,538.6 2154.9,547.5 2156.2,546.1 2157.6,550.1ZM2155.0,557.5 2153.7,553.4 2155.6,553.7 2150.5,546.4 2150.7,555.3 2152.1,554.0 2153.4,558.0ZM2150.2,565.1 2148.9,560.9 2150.8,561.2 2145.9,553.8 2145.9,562.7 2147.3,561.4 2148.6,565.6ZM2144.7,572.2 2143.5,567.9 2145.4,568.2 2140.6,560.8 2140.5,569.6 2141.9,568.4 2143.1,572.7ZM2138.7,578.8 2137.5,574.4 2139.4,574.8 2134.7,567.2 2134.4,576.1 2135.9,574.9 2137.0,579.3ZM2132.1,584.9 2131.0,580.4 2132.8,580.8 2128.4,573.2 2127.9,582.0 2129.3,580.8 2130.4,585.3ZM2125.0,590.4 2124.0,585.8 2125.8,586.3 2121.5,578.5 2120.8,587.3 2122.3,586.1 2123.3,590.8ZM2117.4,595.3 2116.5,590.6 2118.3,591.1 2114.2,583.2 2113.3,592.0 2114.8,590.9 2115.7,595.6ZM2109.4,599.4 2108.7,594.7 2110.5,595.2 2106.6,587.3 2105.4,596.0 2107.0,594.9 2107.7,599.7ZM2101.1,602.9 2100.5,598.1 2102.3,598.7 2098.7,590.6 2097.3,599.4 2098.8,598.3 2099.5,603.1ZM2092.6,605.6 2092.1,600.8 2093.9,601.5 2090.6,593.3 2088.8,602.0 2090.4,601.0 2090.9,605.8ZM2083.8,607.6 2083.5,602.8 2085.3,603.6 2082.2,595.2 2080.2,603.9 2081.8,602.9 2082.1,607.7ZM2074.9,608.8 2074.8,604.1 2076.5,604.9 2073.7,596.4 2071.4,605.0 2073.1,604.1 2073.2,608.8ZM2065.9,609.2 2066.0,604.5 2067.7,605.4 2065.1,596.9 2062.6,605.4 2064.3,604.5 2064.3,609.2ZM2057.0,608.8 2057.1,604.1 2058.8,605.0 2056.5,596.4 2053.7,604.9 2055.4,604.1 2055.3,608.8ZM2048.1,607.7 2048.4,602.9 2050.0,603.9 2048.0,595.2 2044.9,603.6 2046.7,602.8 2046.4,607.6ZM2039.3,605.8 2039.8,601.0 2041.4,602.0 2039.6,593.3 2036.3,601.5 2038.1,600.8 2037.6,605.6ZM2030.7,603.1 2031.4,598.3 2032.9,599.4 2031.5,590.6 2027.9,598.7 2029.7,598.1 2029.1,602.9ZM2022.5,599.7 2023.2,594.9 2024.8,596.0 2023.6,587.3 2019.7,595.2 2021.5,594.7 2020.8,599.4ZM2014.5,595.6 2015.4,590.9 2016.9,592.0 2016.0,583.2 2011.9,591.1 2013.7,590.6 2012.8,595.3ZM2006.9,590.8 2007.9,586.1 2009.4,587.3 2008.7,578.5 2004.4,586.3 2006.2,585.8 2005.2,590.4ZM1999.8,585.3 2000.9,580.8 2002.3,582.0 2001.8,573.2 1997.4,580.8 1999.2,580.4 1998.1,584.9ZM1993.2,579.3 1994.3,574.9 1995.8,576.1 1995.5,567.2 1990.8,574.8 1992.7,574.4 1991.5,578.8ZM1987.1,572.7 1988.3,568.4 1989.7,569.6 1989.6,560.8 1984.8,568.2 1986.7,567.9 1985.5,572.2ZM1981.6,565.6 1982.9,561.4 1984.3,562.7 1984.3,553.8 1979.4,561.2 1981.3,560.9 1980.0,565.1ZM1976.8,558.0 1978.1,554.0 1979.5,555.3 1979.7,546.4 1974.6,553.7 1976.5,553.4 1975.2,557.5ZM1972.6,550.1 1974.0,546.1 1975.3,547.5 1975.6,538.6 1970.5,545.8 1972.4,545.6 1971.0,549.5ZM1969.2,541.8 1970.6,538.0 1971.9,539.3 1972.3,530.5 1967.1,537.6 1969.0,537.4 1967.6,541.2ZM1966.5,533.2 1967.9,529.5 1969.2,530.9 1969.7,522.1 1964.4,529.2 1966.3,528.9 1964.9,532.6ZM1964.6,524.5 1965.9,520.9 1967.2,522.3 1967.9,513.5 1962.4,520.5 1964.3,520.3 1963.0,523.9ZM1963.4,515.6 1964.7,512.1 1966.0,513.6 1966.7,504.7 1961.3,511.7 1963.1,511.5 1961.8,515.0ZM1963.0,506.6 1964.3,503.3 1965.6,504.7 1966.4,495.9 1960.8,502.9 1962.7,502.7 1961.4,506.0ZM1963.4,497.6 1964.6,494.5 1965.9,495.9 1966.7,487.1 1961.2,494.0 1963.1,493.9 1961.8,497.0ZM1964.6,488.7 1965.7,485.8 1967.0,487.2 1967.8,478.4 1962.3,485.3 1964.2,485.1 1963.0,488.1ZM1966.5,480.0 1967.6,477.2 1968.9,478.6 1969.7,469.7 1964.1,476.7 1966.0,476.5 1964.9,479.4ZM1969.2,471.4 1970.2,468.8 1971.5,470.2 1972.3,461.3 1966.8,468.3 1968.7,468.1 1967.6,470.8ZM1972.6,463.1 1973.6,460.6 1974.9,462.0 1975.6,453.2 1970.1,460.2 1972.0,460.0 1971.0,462.5ZM1976.8,455.1 1977.7,452.8 1979.0,454.2 1979.5,445.3 1974.2,452.4 1976.1,452.2 1975.2,454.6ZM1981.6,447.6 1982.4,445.4 1983.7,446.7 1984.2,437.9 1978.9,445.0 1980.8,444.8 1980.0,447.0ZM1987.1,440.4 1987.8,438.3 1989.1,439.7 1989.4,430.8 1984.3,438.1 1986.2,437.8 1985.5,439.9ZM1993.2,433.8 1993.8,431.8 1995.1,433.1 1995.2,424.3 1990.3,431.6 1992.1,431.3 1991.5,433.3ZM1999.8,427.7 2000.3,425.9 2001.7,427.2 2001.6,418.3 1996.8,425.8 1998.7,425.4 1998.1,427.2ZM2006.9,422.2 2007.3,420.6 2008.8,421.8 2008.5,412.9 2003.8,420.5 2005.7,420.1 2005.3,421.8ZM2014.5,417.4 2014.8,415.9 2016.3,417.1 2015.8,408.2 2011.3,415.9 2013.2,415.5 2012.8,417.0ZM2022.4,413.2 2022.7,411.9 2024.2,413.0 2023.5,404.2 2019.2,412.0 2021.1,411.5 2020.8,412.9ZM2030.7,409.7 2031.0,408.5 2032.5,409.7 2031.4,400.9 2027.5,408.8 2029.3,408.3 2029.1,409.5ZM2039.3,407.0 2039.5,405.9 2041.0,406.9 2039.6,398.2 2036.0,406.3 2037.8,405.7 2037.6,406.8ZM2048.1,405.0 2048.2,403.9 2049.8,404.9 2047.9,396.2 2044.7,404.5 2046.5,403.7 2046.4,404.9ZM2057.0,403.8 2057.0,402.5 2058.7,403.4 2056.4,394.8 2053.6,403.2 2055.3,402.4 2055.3,403.8ZM2065.9,386.3 2066.0,384.4 2067.7,385.3 2065.1,376.8 2062.6,385.3 2064.3,384.4 2064.3,386.2ZM2076.4,386.7 2076.4,385.2 2078.1,386.0 2075.2,377.6 2073.0,386.2 2074.7,385.3 2074.7,386.7ZM2086.8,388.0 2086.7,386.7 2088.4,387.4 2085.2,379.1 2083.4,387.8 2085.0,386.8 2085.1,388.1ZM2097.0,390.2 2096.8,389.0 2098.6,389.6 2095.0,381.5 2093.6,390.2 2095.2,389.2 2095.3,390.5ZM2107.0,393.3 2106.8,392.0 2108.6,392.5 2104.6,384.6 2103.6,393.4 2105.1,392.3 2105.3,393.6ZM2116.7,397.3 2116.3,395.8 2118.2,396.3 2113.9,388.5 2113.2,397.4 2114.7,396.2 2115.0,397.7ZM2126.0,402.1 2125.5,400.5 2127.4,400.9 2122.9,393.3 2122.5,402.1 2123.9,400.9 2124.3,402.5ZM2134.8,407.7 2134.3,406.0 2136.2,406.3 2131.4,398.8 2131.2,407.7 2132.7,406.4 2133.1,408.2ZM2143.1,414.1 2142.5,412.2 2144.4,412.5 2139.5,405.1 2139.5,414.0 2140.9,412.7 2141.5,414.6ZM2150.8,421.1 2150.1,419.1 2152.0,419.4 2146.9,412.1 2147.2,421.0 2148.5,419.6 2149.2,421.7ZM2157.9,428.9 2157.1,426.7 2159.0,426.9 2153.8,419.7 2154.2,428.6 2155.5,427.2 2156.3,429.4ZM2164.2,437.1 2163.4,434.8 2165.3,435.0 2159.9,428.0 2160.5,436.8 2161.8,435.4 2162.6,437.7ZM2169.9,446.0 2168.9,443.5 2170.8,443.7 2165.4,436.7 2166.0,445.5 2167.3,444.1 2168.3,446.6ZM2174.7,455.3 2173.7,452.7 2175.6,452.8 2170.1,445.9 2170.8,454.7 2172.1,453.3 2173.1,455.9ZM2178.7,464.9 2177.6,462.2 2179.5,462.3 2174.0,455.4 2174.8,464.2 2176.0,462.8 2177.1,465.6ZM2181.8,474.9 2180.7,472.0 2182.6,472.2 2177.0,465.3 2177.8,474.1 2179.1,472.7 2180.3,475.5ZM2184.1,485.1 2182.9,482.1 2184.8,482.3 2179.2,475.4 2180.1,484.2 2181.3,482.8 2182.5,485.8ZM2185.5,495.5 2184.2,492.4 2186.1,492.5 2180.5,485.6 2181.4,494.4 2182.6,493.0 2183.9,496.2ZM2185.9,506.0 2184.6,502.7 2186.5,502.8 2180.9,495.9 2181.8,504.8 2183.0,503.3 2184.4,506.6ZM2185.5,516.4 2184.1,513.0 2186.0,513.2 2180.4,506.3 2181.3,515.1 2182.5,513.7 2183.9,517.1ZM2184.1,526.8 2182.7,523.3 2184.6,523.5 2179.1,516.5 2179.9,525.3 2181.1,523.9 2182.5,527.5ZM2181.9,537.1 2180.5,533.4 2182.4,533.6 2176.9,526.6 2177.6,535.4 2178.9,534.0 2180.3,537.7ZM2178.7,547.1 2177.3,543.3 2179.2,543.5 2173.9,536.5 2174.4,545.3 2175.7,543.9 2177.1,547.7ZM2174.7,556.8 2173.3,552.9 2175.2,553.1 2170.0,546.0 2170.4,554.8 2171.7,553.5 2173.1,557.3ZM2169.9,566.1 2168.5,562.1 2170.4,562.3 2165.3,555.1 2165.6,564.0 2166.9,562.6 2168.3,566.6ZM2164.2,574.9 2162.9,570.8 2164.8,571.1 2159.8,563.8 2160.0,572.6 2161.3,571.3 2162.6,575.4ZM2157.9,583.2 2156.6,579.0 2158.5,579.3 2153.6,571.9 2153.6,580.8 2155.0,579.5 2156.2,583.7ZM2150.8,591.0 2149.6,586.6 2151.5,587.0 2146.7,579.5 2146.5,588.3 2148.0,587.1 2149.2,591.4ZM2143.1,598.1 2141.9,593.6 2143.8,594.0 2139.2,586.4 2138.9,595.2 2140.3,594.0 2141.4,598.5ZM2134.8,604.4 2133.7,599.9 2135.6,600.3 2131.2,592.6 2130.6,601.5 2132.1,600.3 2133.1,604.8ZM2126.0,610.1 2125.0,605.4 2126.9,605.9 2122.7,598.1 2121.9,606.9 2123.4,605.8 2124.3,610.4ZM2116.7,615.0 2115.9,610.2 2117.7,610.8 2113.8,602.8 2112.7,611.6 2114.2,610.5 2115.0,615.2ZM2107.0,619.0 2106.4,614.2 2108.2,614.8 2104.5,606.8 2103.1,615.5 2104.7,614.4 2105.3,619.2ZM2097.0,622.2 2096.5,617.4 2098.3,618.1 2094.9,609.9 2093.2,618.6 2094.8,617.6 2095.3,622.3ZM2086.8,624.5 2086.5,619.7 2088.2,620.4 2085.1,612.1 2083.1,620.8 2084.8,619.8 2085.1,624.6ZM2076.4,625.9 2076.3,621.1 2078.0,621.9 2075.2,613.5 2072.9,622.1 2074.6,621.2 2074.7,625.9ZM2065.9,626.4 2066.0,621.6 2067.7,622.5 2065.1,614.0 2062.6,622.5 2064.3,621.6 2064.3,626.3ZM2055.5,625.9 2055.6,621.2 2057.3,622.1 2055.0,613.5 2052.2,621.9 2053.9,621.1 2053.8,625.9ZM2045.1,624.6 2045.4,619.8 2047.1,620.8 2045.1,612.1 2042.0,620.4 2043.7,619.7 2043.4,624.5ZM2034.9,622.3 2035.4,617.6 2037.0,618.6 2035.3,609.9 2031.9,618.1 2033.7,617.4 2033.2,622.2ZM2024.9,619.2 2025.5,614.4 2027.1,615.5 2025.7,606.8 2022.0,614.8 2023.8,614.2 2023.2,619.0ZM2015.2,615.2 2016.0,610.5 2017.5,611.6 2016.4,602.8 2012.5,610.8 2014.3,610.2 2013.5,615.0ZM2005.9,610.4 2006.8,605.8 2008.3,606.9 2007.5,598.1 2003.3,605.9 2005.2,605.4 2004.2,610.1ZM1997.1,604.8 1998.1,600.3 1999.6,601.5 1999.0,592.6 1994.6,600.3 1996.5,599.9 1995.4,604.4ZM1988.8,598.5 1989.9,594.0 1991.3,595.2 1991.0,586.4 1986.4,594.0 1988.3,593.6 1987.1,598.1ZM1981.0,591.4 1982.2,587.1 1983.7,588.3 1983.5,579.5 1978.7,587.0 1980.6,586.6 1979.4,591.0ZM1974.0,583.7 1975.2,579.5 1976.6,580.8 1976.6,571.9 1971.7,579.3 1973.6,579.0 1972.3,583.2ZM1967.6,575.4 1968.9,571.3 1970.2,572.6 1970.4,563.8 1965.4,571.1 1967.3,570.8 1966.0,574.9ZM1961.9,566.6 1963.3,562.6 1964.6,564.0 1964.9,555.1 1959.8,562.3 1961.7,562.1 1960.3,566.1ZM1957.1,557.3 1958.5,553.5 1959.8,554.8 1960.2,546.0 1955.0,553.1 1956.9,552.9 1955.5,556.8ZM1953.1,547.7 1954.5,543.9 1955.8,545.3 1956.3,536.5 1951.0,543.5 1952.9,543.3 1951.5,547.1ZM1949.9,537.7 1951.3,534.0 1952.6,535.4 1953.3,526.6 1947.8,533.6 1949.7,533.4 1948.3,537.1ZM1947.7,527.5 1949.1,523.9 1950.3,525.3 1951.1,516.5 1945.6,523.5 1947.5,523.3 1946.1,526.8ZM1946.3,517.1 1947.7,513.7 1948.9,515.1 1949.8,506.3 1944.2,513.2 1946.1,513.0 1944.7,516.4ZM1945.8,506.6 1947.2,503.3 1948.4,504.8 1949.3,495.9 1943.7,502.8 1945.6,502.7 1944.3,506.0ZM1946.3,496.2 1947.6,493.0 1948.8,494.4 1949.7,485.6 1944.1,492.5 1946.0,492.4 1944.7,495.5ZM1947.7,485.8 1948.9,482.8 1950.1,484.2 1951.0,475.4 1945.4,482.3 1947.3,482.1 1946.1,485.1ZM1949.9,475.5 1951.1,472.7 1952.4,474.1 1953.2,465.3 1947.6,472.2 1949.5,472.0 1948.4,474.9ZM1953.1,465.6 1954.2,462.8 1955.4,464.2 1956.2,455.4 1950.7,462.3 1952.6,462.2 1951.5,464.9ZM1957.1,455.9 1958.1,453.3 1959.4,454.7 1960.1,445.9 1954.6,452.8 1956.5,452.7 1955.5,455.3ZM1961.9,446.6 1962.9,444.1 1964.2,445.5 1964.8,436.7 1959.4,443.7 1961.3,443.5 1960.3,446.0ZM1967.6,437.7 1968.4,435.4 1969.7,436.8 1970.3,428.0 1964.9,435.0 1966.8,434.8 1966.0,437.1ZM1973.9,429.4 1974.7,427.2 1976.0,428.6 1976.4,419.7 1971.2,426.9 1973.1,426.7 1972.3,428.9ZM1981.0,421.7 1981.7,419.6 1983.0,421.0 1983.3,412.1 1978.2,419.4 1980.1,419.1 1979.4,421.1ZM1988.7,414.6 1989.3,412.7 1990.7,414.0 1990.7,405.1 1985.8,412.5 1987.7,412.2 1987.1,414.1ZM1997.1,408.2 1997.5,406.4 1999.0,407.7 1998.8,398.8 1994.0,406.3 1995.9,406.0 1995.4,407.7ZM2005.9,402.5 2006.3,400.9 2007.7,402.1 2007.3,393.3 2002.8,400.9 2004.7,400.5 2004.2,402.1ZM2015.2,397.7 2015.5,396.2 2017.0,397.4 2016.3,388.5 2012.0,396.3 2013.9,395.8 2013.5,397.3ZM2024.9,393.6 2025.1,392.3 2026.6,393.4 2025.6,384.6 2021.6,392.5 2023.4,392.0 2023.2,393.3ZM2034.9,390.5 2035.0,389.2 2036.6,390.2 2035.2,381.5 2031.6,389.6 2033.4,389.0 2033.2,390.2ZM2045.1,388.1 2045.2,386.8 2046.8,387.8 2045.0,379.1 2041.8,387.4 2043.5,386.7 2043.4,388.0ZM2055.5,386.7 2055.5,385.3 2057.2,386.2 2055.0,377.6 2052.1,386.0 2053.8,385.2 2053.8,386.7ZM2065.9,369.1 2066.0,367.2 2067.7,368.0 2065.1,359.5 2062.6,368.0 2064.3,367.2 2064.3,369.1ZM2077.9,369.6 2077.8,368.0 2079.6,368.8 2076.7,360.4 2074.5,369.0 2076.1,368.0 2076.2,369.7ZM2089.8,371.1 2089.6,369.7 2091.4,370.4 2088.1,362.1 2086.3,370.8 2088.0,369.8 2088.1,371.3ZM2101.5,373.7 2101.3,372.2 2103.1,372.8 2099.4,364.8 2098.0,373.5 2099.6,372.5 2099.8,373.9ZM2112.9,377.2 2112.6,375.7 2114.4,376.3 2110.4,368.3 2109.4,377.2 2110.9,376.0 2111.2,377.5ZM2123.9,381.8 2123.6,380.1 2125.4,380.6 2121.1,372.9 2120.4,381.7 2121.9,380.5 2122.3,382.1ZM2134.5,387.3 2134.1,385.5 2135.9,385.9 2131.4,378.3 2131.0,387.2 2132.4,385.9 2132.9,387.7ZM2144.6,393.7 2144.1,391.8 2145.9,392.1 2141.1,384.7 2141.0,393.6 2142.4,392.3 2143.0,394.1ZM2154.1,400.9 2153.5,398.9 2155.3,399.2 2150.4,391.9 2150.5,400.8 2151.8,399.4 2152.5,401.5ZM2162.9,409.0 2162.2,406.9 2164.1,407.1 2158.9,399.9 2159.2,408.8 2160.6,407.4 2161.3,409.6ZM2171.0,417.8 2170.2,415.5 2172.1,415.8 2166.8,408.7 2167.3,417.5 2168.6,416.1 2169.4,418.4ZM2178.3,427.3 2177.4,424.9 2179.3,425.1 2173.8,418.1 2174.5,426.9 2175.8,425.5 2176.7,427.9ZM2184.7,437.4 2183.7,434.8 2185.6,435.0 2180.1,428.0 2180.9,436.9 2182.1,435.5 2183.1,438.0ZM2190.2,448.0 2189.1,445.3 2191.0,445.5 2185.5,438.5 2186.3,447.4 2187.6,446.0 2188.7,448.6ZM2194.8,459.1 2193.7,456.2 2195.6,456.4 2190.0,449.5 2190.8,458.3 2192.1,456.9 2193.2,459.7ZM2198.4,470.5 2197.2,467.5 2199.1,467.7 2193.5,460.8 2194.4,469.6 2195.6,468.2 2196.8,471.1ZM2201.0,482.1 2199.7,479.1 2201.6,479.2 2196.0,472.4 2196.9,481.2 2198.2,479.7 2199.4,482.8ZM2202.6,494.0 2201.2,490.8 2203.1,491.0 2197.5,484.1 2198.4,492.9 2199.7,491.5 2201.0,494.7ZM2203.1,506.0 2201.7,502.7 2203.6,502.8 2198.0,496.0 2198.9,504.8 2200.1,503.3 2201.5,506.6ZM2202.6,517.9 2201.1,514.5 2203.0,514.7 2197.4,507.8 2198.3,516.6 2199.6,515.2 2201.0,518.6ZM2201.0,529.8 2199.6,526.3 2201.5,526.5 2195.9,519.5 2196.8,528.4 2198.0,526.9 2199.4,530.4ZM2198.4,541.5 2197.0,537.9 2198.9,538.1 2193.4,531.1 2194.2,540.0 2195.4,538.5 2196.8,542.1ZM2194.8,552.9 2193.4,549.2 2195.3,549.4 2189.9,542.4 2190.5,551.3 2191.8,549.9 2193.2,553.5ZM2190.2,564.0 2188.9,560.2 2190.7,560.4 2185.4,553.3 2186.0,562.2 2187.3,560.8 2188.6,564.6ZM2184.7,574.6 2183.3,570.7 2185.2,570.9 2180.0,563.8 2180.4,572.6 2181.7,571.3 2183.1,575.2ZM2178.3,584.7 2177.0,580.7 2178.8,581.0 2173.7,573.7 2174.0,582.6 2175.3,581.2 2176.7,585.3ZM2171.0,594.2 2169.7,590.1 2171.6,590.4 2166.6,583.0 2166.7,591.9 2168.1,590.6 2169.4,594.7ZM2162.9,603.1 2161.7,598.8 2163.6,599.1 2158.8,591.7 2158.7,600.5 2160.1,599.3 2161.3,603.6ZM2154.1,611.2 2152.9,606.8 2154.8,607.2 2150.2,599.6 2149.9,608.5 2151.3,607.2 2152.5,611.6ZM2144.6,618.5 2143.6,614.0 2145.4,614.4 2141.0,606.7 2140.4,615.6 2141.9,614.4 2143.0,618.9ZM2134.5,624.9 2133.6,620.3 2135.4,620.8 2131.2,613.0 2130.4,621.8 2131.9,620.7 2132.9,625.3ZM2123.9,630.5 2123.1,625.8 2124.9,626.4 2121.0,618.4 2119.9,627.2 2121.4,626.1 2122.2,630.8ZM2112.9,635.1 2112.2,630.4 2114.0,631.0 2110.3,622.9 2109.0,631.7 2110.5,630.6 2111.2,635.3ZM2101.5,638.7 2101.0,634.0 2102.7,634.6 2099.3,626.4 2097.7,635.2 2099.3,634.1 2099.8,638.9ZM2089.8,641.4 2089.4,636.6 2091.2,637.3 2088.1,629.0 2086.1,637.7 2087.7,636.7 2088.1,641.5ZM2077.9,642.9 2077.7,638.2 2079.5,639.0 2076.6,630.6 2074.4,639.2 2076.0,638.3 2076.2,643.0ZM2065.9,643.5 2066.0,638.8 2067.7,639.6 2065.1,631.1 2062.6,639.6 2064.3,638.8 2064.3,643.5ZM2054.0,643.0 2054.2,638.3 2055.8,639.2 2053.6,630.6 2050.7,639.0 2052.5,638.2 2052.3,642.9ZM2042.1,641.5 2042.5,636.7 2044.1,637.7 2042.1,629.0 2039.0,637.3 2040.8,636.6 2040.4,641.4ZM2030.4,638.9 2030.9,634.1 2032.5,635.2 2030.9,626.4 2027.5,634.6 2029.2,634.0 2028.7,638.7ZM2019.0,635.3 2019.7,630.6 2021.2,631.7 2019.9,622.9 2016.2,631.0 2018.0,630.4 2017.3,635.1ZM2008.0,630.8 2008.8,626.1 2010.3,627.2 2009.2,618.4 2005.3,626.4 2007.1,625.8 2006.3,630.5ZM1997.3,625.3 1998.3,620.7 1999.8,621.8 1999.0,613.0 1994.8,620.8 1996.6,620.3 1995.7,624.9ZM1987.2,618.9 1988.3,614.4 1989.8,615.6 1989.2,606.7 1984.8,614.4 1986.6,614.0 1985.6,618.5ZM1977.7,611.6 1978.9,607.2 1980.3,608.5 1980.0,599.6 1975.4,607.2 1977.3,606.8 1976.1,611.2ZM1968.9,603.6 1970.1,599.3 1971.5,600.5 1971.4,591.7 1966.6,599.1 1968.5,598.8 1967.3,603.1ZM1960.8,594.7 1962.1,590.6 1963.5,591.9 1963.6,583.0 1958.6,590.4 1960.5,590.1 1959.2,594.2ZM1953.5,585.3 1954.9,581.2 1956.2,582.6 1956.5,573.7 1951.4,581.0 1953.2,580.7 1951.9,584.7ZM1947.1,575.2 1948.5,571.3 1949.8,572.6 1950.2,563.8 1945.0,570.9 1946.9,570.7 1945.5,574.6ZM1941.6,564.6 1942.9,560.8 1944.2,562.2 1944.8,553.3 1939.5,560.4 1941.3,560.2 1940.0,564.0ZM1937.0,553.5 1938.4,549.9 1939.7,551.3 1940.3,542.4 1934.9,549.4 1936.8,549.2 1935.4,552.9ZM1933.4,542.1 1934.8,538.5 1936.0,540.0 1936.8,531.1 1931.3,538.1 1933.2,537.9 1931.8,541.5ZM1930.8,530.4 1932.2,526.9 1933.4,528.4 1934.3,519.5 1928.7,526.5 1930.6,526.3 1929.2,529.8ZM1929.2,518.6 1930.6,515.2 1931.9,516.6 1932.8,507.8 1927.2,514.7 1929.1,514.5 1927.6,517.9ZM1928.7,506.6 1930.1,503.3 1931.3,504.8 1932.2,496.0 1926.6,502.8 1928.5,502.7 1927.1,506.0ZM1929.2,494.7 1930.5,491.5 1931.8,492.9 1932.7,484.1 1927.1,491.0 1929.0,490.8 1927.6,494.0ZM1930.8,482.8 1932.0,479.7 1933.3,481.2 1934.2,472.4 1928.6,479.2 1930.5,479.1 1929.2,482.1ZM1933.4,471.1 1934.6,468.2 1935.8,469.6 1936.7,460.8 1931.1,467.7 1933.0,467.5 1931.8,470.5ZM1937.0,459.7 1938.1,456.9 1939.4,458.3 1940.2,449.5 1934.6,456.4 1936.5,456.2 1935.4,459.1ZM1941.5,448.6 1942.6,446.0 1943.9,447.4 1944.7,438.5 1939.2,445.5 1941.1,445.3 1940.0,448.0ZM1947.1,438.0 1948.1,435.5 1949.3,436.9 1950.1,428.0 1944.6,435.0 1946.5,434.8 1945.5,437.4ZM1953.5,427.9 1954.4,425.5 1955.7,426.9 1956.4,418.1 1950.9,425.1 1952.8,424.9 1951.9,427.3ZM1960.8,418.4 1961.6,416.1 1962.9,417.5 1963.4,408.7 1958.1,415.8 1960.0,415.5 1959.2,417.8ZM1968.9,409.6 1969.6,407.4 1971.0,408.8 1971.3,399.9 1966.1,407.1 1968.0,406.9 1967.3,409.0ZM1977.7,401.5 1978.4,399.4 1979.7,400.8 1979.8,391.9 1974.9,399.2 1976.7,398.9 1976.1,400.9ZM1987.2,394.1 1987.8,392.3 1989.2,393.6 1989.1,384.7 1984.3,392.1 1986.1,391.8 1985.6,393.7ZM1997.3,387.7 1997.8,385.9 1999.2,387.2 1998.8,378.3 1994.3,385.9 1996.1,385.5 1995.7,387.3ZM2007.9,382.1 2008.3,380.5 2009.8,381.7 2009.1,372.9 2004.8,380.6 2006.6,380.1 2006.3,381.8ZM2019.0,377.5 2019.3,376.0 2020.8,377.2 2019.8,368.3 2015.8,376.3 2017.6,375.7 2017.3,377.2ZM2030.4,373.9 2030.6,372.5 2032.2,373.5 2030.8,364.8 2027.1,372.8 2028.9,372.2 2028.7,373.7ZM2042.1,371.3 2042.2,369.8 2043.9,370.8 2042.1,362.1 2038.8,370.4 2040.6,369.7 2040.4,371.1ZM2054.0,369.7 2054.1,368.0 2055.7,369.0 2053.5,360.4 2050.6,368.8 2052.4,368.0 2052.3,369.6ZM2065.9,352.0 2066.0,349.9 2067.7,350.8 2065.1,342.3 2062.6,350.8 2064.3,349.9 2064.3,351.9ZM2079.4,352.5 2079.3,350.8 2081.1,351.5 2078.2,343.2 2076.0,351.8 2077.6,350.8 2077.7,352.6ZM2092.7,354.2 2092.6,352.6 2094.4,353.3 2091.1,345.1 2089.3,353.8 2090.9,352.8 2091.1,354.4ZM2105.9,357.1 2105.7,355.5 2107.5,356.1 2103.8,348.0 2102.4,356.8 2104.0,355.7 2104.2,357.3ZM2118.7,361.1 2118.4,359.4 2120.2,360.0 2116.2,352.1 2115.2,360.9 2116.7,359.7 2117.1,361.4ZM2131.2,366.2 2130.8,364.4 2132.6,364.9 2128.2,357.2 2127.6,366.0 2129.1,364.8 2129.5,366.6ZM2143.1,372.4 2142.6,370.5 2144.5,370.9 2139.8,363.3 2139.5,372.2 2140.9,370.9 2141.5,372.8ZM2154.4,379.6 2153.8,377.6 2155.7,377.9 2150.9,370.5 2150.8,379.4 2152.2,378.1 2152.8,380.1ZM2165.1,387.8 2164.4,385.7 2166.3,385.9 2161.2,378.6 2161.5,387.5 2162.8,386.2 2163.5,388.3ZM2175.0,396.9 2174.2,394.6 2176.1,394.8 2170.9,387.7 2171.3,396.5 2172.6,395.2 2173.4,397.4ZM2184.1,406.8 2183.2,404.4 2185.1,404.6 2179.7,397.5 2180.4,406.4 2181.6,405.0 2182.5,407.4ZM2192.3,417.5 2191.3,414.9 2193.2,415.1 2187.7,408.1 2188.5,417.0 2189.8,415.6 2190.7,418.1ZM2199.6,428.8 2198.5,426.2 2200.4,426.3 2194.8,419.4 2195.7,428.2 2196.9,426.8 2198.0,429.4ZM2205.8,440.7 2204.6,438.0 2206.5,438.1 2200.9,431.2 2201.8,440.1 2203.1,438.6 2204.2,441.4ZM2210.9,453.2 2209.7,450.3 2211.6,450.4 2206.0,443.6 2206.9,452.4 2208.2,451.0 2209.4,453.8ZM2215.0,466.0 2213.7,463.0 2215.6,463.2 2210.0,456.3 2210.9,465.1 2212.2,463.7 2213.4,466.7ZM2217.9,479.2 2216.6,476.1 2218.5,476.2 2212.8,469.4 2213.8,478.2 2215.0,476.7 2216.3,479.8ZM2219.6,492.5 2218.3,489.3 2220.2,489.4 2214.5,482.6 2215.5,491.4 2216.7,490.0 2218.1,493.2ZM2220.2,506.0 2218.8,502.7 2220.7,502.8 2215.0,496.0 2216.0,504.8 2217.3,503.3 2218.7,506.6ZM2219.6,519.4 2218.2,516.0 2220.1,516.1 2214.4,509.3 2215.4,518.1 2216.6,516.7 2218.1,520.1ZM2217.9,532.8 2216.4,529.3 2218.3,529.4 2212.7,522.6 2213.6,531.4 2214.9,529.9 2216.3,533.4ZM2215.0,545.9 2213.5,542.4 2215.4,542.5 2209.9,535.6 2210.7,544.4 2212.0,543.0 2213.4,546.6ZM2210.9,558.8 2209.5,555.1 2211.4,555.3 2205.9,548.3 2206.7,557.2 2207.9,555.8 2209.3,559.4ZM2205.8,571.2 2204.4,567.5 2206.3,567.7 2200.9,560.6 2201.5,569.5 2202.8,568.1 2204.2,571.8ZM2199.6,583.2 2198.2,579.3 2200.1,579.5 2194.8,572.4 2195.3,581.3 2196.6,579.9 2198.0,583.8ZM2192.3,594.6 2191.0,590.6 2192.9,590.8 2187.7,583.6 2188.0,592.5 2189.4,591.1 2190.7,595.1ZM2184.1,605.3 2182.8,601.1 2184.7,601.4 2179.7,594.1 2179.9,603.0 2181.2,601.6 2182.5,605.8ZM2175.1,615.2 2173.8,611.0 2175.7,611.3 2170.8,603.9 2170.8,612.7 2172.2,611.4 2173.4,615.7ZM2165.1,624.3 2164.0,620.0 2165.8,620.3 2161.2,612.8 2160.9,621.7 2162.3,620.4 2163.5,624.8ZM2154.5,632.5 2153.4,628.1 2155.2,628.5 2150.8,620.8 2150.3,629.7 2151.7,628.5 2152.8,632.9ZM2143.1,639.8 2142.2,635.2 2144.0,635.7 2139.8,627.9 2139.0,636.8 2140.5,635.6 2141.4,640.1ZM2131.2,646.0 2130.4,641.4 2132.2,642.0 2128.2,634.0 2127.2,642.8 2128.7,641.7 2129.5,646.3ZM2118.7,651.2 2118.1,646.5 2119.9,647.1 2116.2,639.1 2114.8,647.9 2116.4,646.8 2117.0,651.5ZM2105.9,655.3 2105.4,650.6 2107.2,651.3 2103.7,643.1 2102.1,651.8 2103.7,650.8 2104.2,655.5ZM2092.8,658.2 2092.4,653.5 2094.2,654.3 2091.0,646.0 2089.1,654.6 2090.7,653.7 2091.1,658.4ZM2079.4,660.0 2079.2,655.3 2081.0,656.1 2078.1,647.7 2075.9,656.3 2077.5,655.4 2077.7,660.1ZM2065.9,660.6 2065.9,656.0 2067.6,656.8 2065.1,648.3 2062.5,656.8 2064.2,656.0 2064.3,660.7ZM2052.5,660.1 2052.7,655.4 2054.3,656.3 2052.1,647.7 2049.2,656.1 2051.0,655.3 2050.8,660.0ZM2039.1,658.4 2039.5,653.7 2041.1,654.6 2039.2,646.0 2036.0,654.3 2037.8,653.5 2037.4,658.2ZM2026.0,655.5 2026.5,650.8 2028.1,651.8 2026.5,643.1 2023.0,651.3 2024.8,650.6 2024.3,655.3ZM2013.2,651.5 2013.8,646.8 2015.4,647.9 2014.0,639.1 2010.3,647.1 2012.1,646.5 2011.5,651.2ZM2000.7,646.3 2001.5,641.7 2003.0,642.8 2002.0,634.0 1998.0,642.0 1999.8,641.4 1999.0,646.0ZM1988.8,640.1 1989.7,635.6 1991.2,636.8 1990.4,627.9 1986.2,635.7 1988.0,635.2 1987.1,639.8ZM1977.4,632.9 1978.5,628.5 1979.9,629.7 1979.4,620.8 1975.0,628.5 1976.8,628.1 1975.7,632.5ZM1966.7,624.8 1967.9,620.4 1969.3,621.7 1969.0,612.8 1964.4,620.3 1966.2,620.0 1965.1,624.3ZM1956.8,615.7 1958.0,611.4 1959.4,612.7 1959.4,603.9 1954.5,611.3 1956.4,611.0 1955.1,615.2ZM1947.7,605.8 1949.0,601.6 1950.3,603.0 1950.5,594.1 1945.5,601.4 1947.4,601.1 1946.1,605.3ZM1939.5,595.1 1940.8,591.1 1942.2,592.5 1942.5,583.6 1937.3,590.8 1939.2,590.6 1937.9,594.6ZM1932.2,583.8 1933.6,579.9 1934.9,581.3 1935.4,572.4 1930.1,579.5 1932.0,579.3 1930.6,583.2ZM1926.0,571.8 1927.4,568.1 1928.7,569.5 1929.3,560.6 1923.9,567.7 1925.8,567.5 1924.4,571.2ZM1920.9,559.4 1922.3,555.8 1923.5,557.2 1924.3,548.3 1918.8,555.3 1920.7,555.1 1919.3,558.8ZM1916.8,546.6 1918.2,543.0 1919.5,544.4 1920.3,535.6 1914.8,542.5 1916.7,542.4 1915.2,545.9ZM1913.9,533.4 1915.3,529.9 1916.6,531.4 1917.5,522.6 1911.9,529.4 1913.8,529.3 1912.3,532.8ZM1912.1,520.1 1913.6,516.7 1914.8,518.1 1915.8,509.3 1910.1,516.1 1912.0,516.0 1910.6,519.4ZM1911.5,506.6 1912.9,503.3 1914.2,504.8 1915.2,496.0 1909.5,502.8 1911.4,502.7 1910.0,506.0ZM1912.1,493.2 1913.5,490.0 1914.7,491.4 1915.7,482.6 1910.0,489.4 1911.9,489.3 1910.6,492.5ZM1913.9,479.8 1915.2,476.7 1916.4,478.2 1917.4,469.4 1911.7,476.2 1913.6,476.1 1912.3,479.2ZM1916.8,466.7 1918.0,463.7 1919.3,465.1 1920.2,456.3 1914.6,463.2 1916.5,463.0 1915.2,466.0ZM1920.8,453.8 1922.0,451.0 1923.3,452.4 1924.2,443.6 1918.6,450.4 1920.5,450.3 1919.3,453.2ZM1926.0,441.4 1927.1,438.6 1928.4,440.1 1929.3,431.2 1923.7,438.1 1925.6,438.0 1924.4,440.7ZM1932.2,429.4 1933.3,426.8 1934.5,428.2 1935.4,419.4 1929.8,426.3 1931.7,426.2 1930.6,428.8ZM1939.5,418.1 1940.4,415.6 1941.7,417.0 1942.5,408.1 1937.0,415.1 1938.9,414.9 1937.9,417.5ZM1947.7,407.4 1948.6,405.0 1949.8,406.4 1950.5,397.5 1945.1,404.6 1947.0,404.4 1946.1,406.8ZM1956.8,397.4 1957.6,395.2 1958.9,396.5 1959.3,387.7 1954.1,394.8 1956.0,394.6 1955.2,396.9ZM1966.7,388.3 1967.4,386.2 1968.7,387.5 1969.0,378.6 1963.9,385.9 1965.8,385.7 1965.1,387.8ZM1977.4,380.1 1978.0,378.1 1979.4,379.4 1979.3,370.5 1974.5,377.9 1976.4,377.6 1975.8,379.6ZM1988.7,372.8 1989.3,370.9 1990.7,372.2 1990.4,363.3 1985.7,370.9 1987.6,370.5 1987.1,372.4ZM2000.7,366.6 2001.1,364.8 2002.6,366.0 2002.0,357.2 1997.6,364.9 1999.4,364.4 1999.0,366.2ZM2013.1,361.4 2013.5,359.7 2015.0,360.9 2014.0,352.1 2010.0,360.0 2011.8,359.4 2011.5,361.1ZM2026.0,357.3 2026.2,355.7 2027.8,356.8 2026.4,348.0 2022.7,356.1 2024.5,355.5 2024.3,357.1ZM2039.1,354.4 2039.3,352.8 2040.9,353.8 2039.1,345.1 2035.8,353.3 2037.6,352.6 2037.5,354.2ZM2052.5,352.6 2052.6,350.8 2054.2,351.8 2052.0,343.2 2049.1,351.5 2050.9,350.8 2050.8,352.5ZM2065.9,334.8 2065.9,332.7 2067.6,333.5 2065.1,325.0 2062.5,333.5 2064.2,332.7 2064.3,334.8ZM2080.9,335.4 2080.8,333.6 2082.6,334.3 2079.6,326.0 2077.5,334.6 2079.1,333.6 2079.2,335.5ZM2095.7,337.3 2095.6,335.6 2097.3,336.3 2094.0,328.0 2092.3,336.7 2093.9,335.7 2094.0,337.5ZM2110.3,340.5 2110.1,338.8 2111.9,339.4 2108.2,331.3 2106.8,340.1 2108.4,339.0 2108.6,340.8ZM2124.6,345.0 2124.2,343.1 2126.1,343.7 2122.0,335.8 2121.1,344.6 2122.6,343.4 2122.9,345.3ZM2138.4,350.7 2138.0,348.7 2139.8,349.2 2135.4,341.4 2134.8,350.3 2136.3,349.1 2136.8,351.1ZM2151.7,357.6 2151.1,355.5 2153.0,355.9 2148.3,348.3 2148.0,357.2 2149.5,355.9 2150.0,358.0ZM2164.3,365.6 2163.6,363.4 2165.5,363.7 2160.6,356.3 2160.6,365.2 2162.0,363.9 2162.7,366.1ZM2176.1,374.7 2175.4,372.4 2177.3,372.6 2172.1,365.4 2172.4,374.2 2173.8,372.9 2174.5,375.2ZM2187.2,384.7 2186.3,382.3 2188.2,382.6 2182.9,375.4 2183.4,384.3 2184.7,382.9 2185.6,385.3ZM2197.3,395.8 2196.3,393.3 2198.2,393.4 2192.7,386.4 2193.4,395.3 2194.7,393.9 2195.7,396.4ZM2206.4,407.6 2205.3,405.0 2207.2,405.1 2201.6,398.2 2202.5,407.1 2203.7,405.6 2204.8,408.3ZM2214.4,420.2 2213.3,417.5 2215.2,417.6 2209.6,410.8 2210.5,419.6 2211.7,418.1 2212.8,420.9ZM2221.3,433.5 2220.1,430.7 2222.0,430.8 2216.4,423.9 2217.3,432.8 2218.6,431.3 2219.7,434.2ZM2227.0,447.3 2225.8,444.4 2227.7,444.5 2222.0,437.7 2223.0,446.5 2224.2,445.0 2225.5,448.0ZM2231.5,461.6 2230.3,458.6 2232.1,458.7 2226.5,451.9 2227.5,460.7 2228.7,459.2 2230.0,462.2ZM2234.8,476.2 2233.4,473.1 2235.3,473.2 2229.6,466.4 2230.7,475.2 2231.9,473.8 2233.2,476.9ZM2236.7,491.0 2235.3,487.8 2237.2,487.9 2231.5,481.1 2232.6,490.0 2233.8,488.5 2235.2,491.7ZM2237.4,506.0 2235.9,502.7 2237.8,502.8 2232.1,496.0 2233.2,504.8 2234.4,503.4 2235.8,506.6ZM2236.7,520.9 2235.3,517.5 2237.2,517.6 2231.5,510.8 2232.5,519.7 2233.7,518.2 2235.2,521.6ZM2234.8,535.7 2233.3,532.3 2235.2,532.4 2229.5,525.6 2230.5,534.4 2231.7,533.0 2233.2,536.4ZM2231.5,550.4 2230.1,546.8 2232.0,547.0 2226.4,540.1 2227.3,548.9 2228.5,547.5 2230.0,551.0ZM2227.0,564.6 2225.6,561.0 2227.5,561.2 2222.0,554.2 2222.8,563.1 2224.0,561.7 2225.5,565.3ZM2221.3,578.5 2219.9,574.8 2221.8,575.0 2216.4,567.9 2217.0,576.8 2218.3,575.4 2219.7,579.1ZM2214.4,591.8 2213.0,587.9 2214.9,588.2 2209.6,581.0 2210.1,589.9 2211.4,588.5 2212.8,592.3ZM2206.4,604.4 2205.0,600.5 2206.9,600.7 2201.7,593.5 2202.1,602.4 2203.4,601.0 2204.8,604.9ZM2197.3,616.3 2196.0,612.2 2197.9,612.5 2192.8,605.2 2193.0,614.1 2194.4,612.7 2195.7,616.8ZM2187.2,627.3 2185.9,623.2 2187.8,623.5 2183.0,616.1 2182.9,624.9 2184.3,623.6 2185.6,627.8ZM2176.2,637.5 2175.0,633.2 2176.9,633.6 2172.2,626.0 2171.9,634.9 2173.4,633.6 2174.5,637.9ZM2164.3,646.6 2163.2,642.2 2165.1,642.6 2160.6,635.0 2160.1,643.8 2161.6,642.6 2162.6,647.0ZM2151.7,654.6 2150.7,650.2 2152.6,650.7 2148.3,642.9 2147.6,651.7 2149.1,650.5 2150.0,655.0ZM2138.4,661.6 2137.6,657.1 2139.4,657.6 2135.4,649.7 2134.4,658.5 2135.9,657.3 2136.7,661.9ZM2124.6,667.3 2123.9,662.8 2125.7,663.4 2122.0,655.3 2120.7,664.1 2122.3,663.0 2122.9,667.6ZM2110.3,671.9 2109.8,667.3 2111.6,667.9 2108.2,659.7 2106.5,668.5 2108.1,667.4 2108.6,672.0ZM2095.7,675.1 2095.4,670.5 2097.2,671.2 2094.0,662.9 2092.1,671.6 2093.7,670.6 2094.0,675.3ZM2080.9,677.1 2080.7,672.5 2082.5,673.3 2079.6,664.9 2077.4,673.5 2079.0,672.6 2079.2,677.2ZM2065.9,677.8 2065.9,673.2 2067.6,674.1 2065.1,665.6 2062.5,674.1 2064.2,673.2 2064.3,677.8ZM2051.0,677.2 2051.2,672.6 2052.8,673.5 2050.6,664.9 2047.7,673.3 2049.5,672.5 2049.3,677.1ZM2036.2,675.3 2036.5,670.6 2038.1,671.6 2036.2,662.9 2033.0,671.2 2034.8,670.5 2034.5,675.1ZM2021.6,672.0 2022.1,667.4 2023.7,668.5 2022.0,659.7 2018.6,667.9 2020.4,667.3 2019.9,671.9ZM2007.3,667.6 2007.9,663.0 2009.5,664.1 2008.2,655.3 2004.5,663.4 2006.3,662.8 2005.6,667.3ZM1993.5,661.9 1994.3,657.3 1995.8,658.5 1994.8,649.7 1990.8,657.6 1992.6,657.1 1991.8,661.6ZM1980.2,655.0 1981.1,650.5 1982.6,651.7 1981.9,642.9 1977.6,650.7 1979.5,650.2 1978.5,654.6ZM1967.6,647.0 1968.6,642.6 1970.1,643.8 1969.6,635.0 1965.1,642.6 1967.0,642.2 1965.9,646.6ZM1955.7,637.9 1956.8,633.6 1958.3,634.9 1958.0,626.0 1953.3,633.6 1955.2,633.2 1954.0,637.5ZM1944.6,627.8 1945.9,623.6 1947.3,624.9 1947.2,616.1 1942.4,623.5 1944.3,623.2 1943.0,627.3ZM1934.5,616.8 1935.8,612.7 1937.2,614.1 1937.4,605.2 1932.3,612.5 1934.2,612.2 1932.9,616.3ZM1925.4,604.9 1926.8,601.0 1928.1,602.4 1928.5,593.5 1923.3,600.7 1925.2,600.5 1923.8,604.4ZM1917.4,592.3 1918.8,588.5 1920.1,589.9 1920.6,581.0 1915.3,588.2 1917.2,587.9 1915.8,591.8ZM1910.5,579.1 1911.9,575.4 1913.2,576.8 1913.8,567.9 1908.4,575.0 1910.3,574.8 1908.9,578.5ZM1904.7,565.3 1906.2,561.7 1907.4,563.1 1908.2,554.2 1902.7,561.2 1904.6,561.0 1903.2,564.6ZM1900.2,551.0 1901.7,547.5 1902.9,548.9 1903.8,540.1 1898.2,547.0 1900.1,546.8 1898.7,550.4ZM1897.0,536.4 1898.5,533.0 1899.7,534.4 1900.7,525.6 1895.0,532.4 1896.9,532.3 1895.4,535.7ZM1895.0,521.6 1896.5,518.2 1897.7,519.7 1898.7,510.8 1893.0,517.6 1894.9,517.5 1893.5,520.9ZM1894.4,506.6 1895.8,503.4 1897.0,504.8 1898.1,496.0 1892.4,502.8 1894.3,502.7 1892.8,506.0ZM1895.0,491.7 1896.4,488.5 1897.6,490.0 1898.7,481.1 1893.0,487.9 1894.9,487.8 1893.5,491.0ZM1897.0,476.9 1898.3,473.8 1899.5,475.2 1900.6,466.4 1894.9,473.2 1896.8,473.1 1895.4,476.2ZM1900.2,462.2 1901.5,459.2 1902.7,460.7 1903.7,451.9 1898.1,458.7 1899.9,458.6 1898.7,461.6ZM1904.7,448.0 1906.0,445.0 1907.2,446.5 1908.2,437.7 1902.5,444.5 1904.4,444.4 1903.2,447.3ZM1910.5,434.2 1911.6,431.3 1912.9,432.8 1913.8,423.9 1908.2,430.8 1910.1,430.7 1908.9,433.5ZM1917.4,420.9 1918.5,418.1 1919.7,419.6 1920.6,410.8 1915.0,417.6 1916.9,417.5 1915.8,420.2ZM1925.4,408.3 1926.5,405.6 1927.7,407.1 1928.6,398.2 1923.0,405.1 1924.9,405.0 1923.8,407.6ZM1934.5,396.4 1935.5,393.9 1936.8,395.3 1937.5,386.4 1932.0,393.4 1933.9,393.3 1932.9,395.8ZM1944.6,385.3 1945.5,382.9 1946.8,384.3 1947.3,375.4 1942.0,382.6 1943.9,382.3 1943.0,384.7ZM1955.7,375.2 1956.4,372.9 1957.8,374.2 1958.1,365.4 1952.9,372.6 1954.8,372.4 1954.1,374.7ZM1967.5,366.1 1968.2,363.9 1969.6,365.2 1969.6,356.3 1964.7,363.7 1966.6,363.4 1965.9,365.6ZM1980.2,358.0 1980.7,355.9 1982.2,357.2 1981.9,348.3 1977.2,355.9 1979.1,355.5 1978.5,357.6ZM1993.4,351.1 1993.9,349.1 1995.4,350.3 1994.8,341.4 1990.4,349.2 1992.2,348.7 1991.8,350.7ZM2007.3,345.3 2007.6,343.4 2009.1,344.6 2008.2,335.8 2004.1,343.7 2006.0,343.1 2005.6,345.0ZM2021.6,340.8 2021.8,339.0 2023.4,340.1 2022.0,331.3 2018.3,339.4 2020.1,338.8 2019.9,340.5ZM2036.2,337.5 2036.3,335.7 2037.9,336.7 2036.2,328.0 2032.9,336.3 2034.6,335.6 2034.5,337.3ZM2051.0,335.5 2051.1,333.6 2052.7,334.6 2050.6,326.0 2047.6,334.3 2049.4,333.6 2049.3,335.4ZM2065.9,317.7 2066.0,315.5 2067.7,316.3 2065.1,307.8 2062.6,316.3 2064.3,315.5 2064.3,317.6ZM2082.4,318.3 2082.3,316.4 2084.0,317.1 2081.1,308.8 2078.9,317.4 2080.6,316.5 2080.7,318.4ZM2098.7,320.4 2098.5,318.5 2100.3,319.2 2096.9,311.0 2095.2,319.7 2096.8,318.7 2097.0,320.6ZM2114.8,324.0 2114.5,322.0 2116.3,322.6 2112.5,314.6 2111.2,323.4 2112.8,322.3 2113.1,324.2ZM2130.5,328.9 2130.1,326.8 2131.9,327.4 2127.8,319.5 2126.9,328.3 2128.4,327.2 2128.8,329.2ZM2145.7,335.1 2145.2,333.0 2147.0,333.4 2142.6,325.7 2142.0,334.6 2143.5,333.4 2144.0,335.5ZM2160.2,342.7 2159.6,340.5 2161.5,340.8 2156.8,333.3 2156.6,342.2 2158.0,340.9 2158.6,343.1ZM2174.1,351.5 2173.4,349.2 2175.3,349.5 2170.3,342.1 2170.4,351.0 2171.8,349.7 2172.5,352.0ZM2187.2,361.5 2186.3,359.1 2188.2,359.3 2183.1,352.1 2183.4,361.0 2184.7,359.6 2185.6,362.1ZM2199.3,372.6 2198.4,370.1 2200.3,370.3 2194.9,363.2 2195.5,372.1 2196.8,370.7 2197.7,373.2ZM2210.4,384.7 2209.4,382.1 2211.3,382.3 2205.8,375.3 2206.5,384.1 2207.8,382.7 2208.8,385.3ZM2220.4,397.8 2219.3,395.1 2221.2,395.2 2215.6,388.3 2216.5,397.1 2217.7,395.7 2218.8,398.4ZM2229.3,411.6 2228.1,408.8 2230.0,409.0 2224.3,402.1 2225.3,410.9 2226.5,409.5 2227.7,412.3ZM2236.9,426.2 2235.6,423.3 2237.5,423.5 2231.8,416.6 2232.8,425.5 2234.1,424.0 2235.3,426.9ZM2243.2,441.4 2241.9,438.5 2243.8,438.6 2238.1,431.8 2239.1,440.6 2240.3,439.1 2241.6,442.1ZM2248.1,457.1 2246.8,454.1 2248.7,454.2 2242.9,447.4 2244.0,456.2 2245.2,454.8 2246.5,457.8ZM2251.7,473.2 2250.3,470.1 2252.2,470.2 2246.4,463.4 2247.5,472.2 2248.7,470.8 2250.1,473.9ZM2253.8,489.5 2252.4,486.3 2254.3,486.4 2248.5,479.7 2249.6,488.5 2250.8,487.0 2252.3,490.2ZM2254.5,506.0 2253.1,502.7 2255.0,502.8 2249.2,496.0 2250.3,504.8 2251.5,503.4 2253.0,506.6ZM2253.8,522.4 2252.3,519.0 2254.2,519.1 2248.5,512.4 2249.6,521.2 2250.8,519.7 2252.3,523.1ZM2251.7,538.7 2250.2,535.3 2252.1,535.4 2246.4,528.6 2247.4,537.4 2248.6,536.0 2250.1,539.4ZM2248.1,554.8 2246.6,551.3 2248.5,551.4 2242.9,544.6 2243.8,553.4 2245.1,552.0 2246.5,555.5ZM2243.2,570.5 2241.7,566.9 2243.6,567.1 2238.1,560.2 2238.9,569.0 2240.1,567.6 2241.6,571.1ZM2236.9,585.7 2235.5,582.1 2237.4,582.3 2231.9,575.3 2232.6,584.1 2233.9,582.7 2235.3,586.3ZM2229.3,600.3 2227.9,596.6 2229.8,596.8 2224.5,589.7 2225.0,598.6 2226.3,597.2 2227.7,600.9ZM2220.4,614.2 2219.1,610.4 2221.0,610.6 2215.8,603.4 2216.2,612.3 2217.5,610.9 2218.8,614.8ZM2210.4,627.3 2209.1,623.4 2211.0,623.6 2206.0,616.3 2206.2,625.2 2207.5,623.9 2208.8,627.8ZM2199.3,639.5 2198.1,635.4 2200.0,635.7 2195.1,628.3 2195.1,637.2 2196.5,635.9 2197.7,639.9ZM2187.2,650.6 2186.1,646.4 2187.9,646.8 2183.2,639.3 2183.0,648.2 2184.4,646.9 2185.5,651.0ZM2174.1,660.6 2173.1,656.4 2175.0,656.8 2170.5,649.2 2170.0,658.0 2171.5,656.8 2172.5,661.0ZM2160.3,669.5 2159.4,665.2 2161.2,665.7 2156.9,657.9 2156.2,666.7 2157.7,665.5 2158.6,669.9ZM2145.7,677.1 2144.9,672.7 2146.7,673.3 2142.7,665.3 2141.7,674.2 2143.2,673.0 2144.0,677.4ZM2130.5,683.5 2129.8,679.0 2131.6,679.6 2127.9,671.6 2126.6,680.3 2128.1,679.2 2128.8,683.7ZM2114.8,688.4 2114.3,684.0 2116.1,684.6 2112.6,676.4 2111.0,685.2 2112.6,684.1 2113.1,688.6ZM2098.7,692.0 2098.4,687.5 2100.1,688.3 2097.0,680.0 2095.1,688.6 2096.7,687.7 2097.0,692.1ZM2082.4,694.2 2082.2,689.7 2084.0,690.5 2081.1,682.1 2078.9,690.7 2080.5,689.8 2080.7,694.3ZM2065.9,694.9 2065.9,690.5 2067.6,691.3 2065.1,682.8 2062.5,691.3 2064.2,690.5 2064.3,695.0ZM2049.5,694.3 2049.7,689.8 2051.3,690.7 2049.1,682.1 2046.2,690.5 2048.0,689.7 2047.8,694.2ZM2033.2,692.1 2033.5,687.7 2035.1,688.6 2033.2,680.0 2030.1,688.3 2031.8,687.5 2031.5,692.0ZM2017.1,688.6 2017.6,684.1 2019.2,685.2 2017.6,676.4 2014.1,684.6 2015.9,684.0 2015.4,688.4ZM2001.4,683.7 2002.1,679.2 2003.6,680.3 2002.3,671.6 1998.6,679.6 2000.4,679.0 1999.7,683.5ZM1986.2,677.4 1987.0,673.0 1988.5,674.2 1987.5,665.3 1983.5,673.3 1985.3,672.7 1984.5,677.1ZM1971.6,669.9 1972.5,665.5 1974.0,666.7 1973.3,657.9 1969.0,665.7 1970.8,665.2 1969.9,669.5ZM1957.7,661.0 1958.7,656.8 1960.2,658.0 1959.7,649.2 1955.2,656.8 1957.1,656.4 1956.1,660.6ZM1944.7,651.0 1945.8,646.9 1947.2,648.2 1947.0,639.3 1942.3,646.8 1944.1,646.4 1943.0,650.6ZM1932.5,639.9 1933.7,635.9 1935.1,637.2 1935.1,628.3 1930.2,635.7 1932.1,635.4 1930.9,639.5ZM1921.4,627.8 1922.7,623.9 1924.0,625.2 1924.2,616.3 1919.2,623.6 1921.1,623.4 1919.8,627.3ZM1911.4,614.8 1912.7,610.9 1914.0,612.3 1914.4,603.4 1909.2,610.6 1911.1,610.4 1909.8,614.2ZM1902.5,600.9 1903.9,597.2 1905.2,598.6 1905.7,589.7 1900.4,596.8 1902.3,596.6 1900.9,600.3ZM1894.9,586.3 1896.3,582.7 1897.6,584.1 1898.3,575.3 1892.8,582.3 1894.7,582.1 1893.3,585.7ZM1888.6,571.1 1890.1,567.6 1891.3,569.0 1892.1,560.2 1886.6,567.1 1888.5,566.9 1887.0,570.5ZM1883.7,555.5 1885.1,552.0 1886.4,553.4 1887.3,544.6 1881.7,551.4 1883.6,551.3 1882.1,554.8ZM1880.1,539.4 1881.6,536.0 1882.8,537.4 1883.8,528.6 1878.1,535.4 1880.0,535.3 1878.5,538.7ZM1877.9,523.1 1879.4,519.7 1880.6,521.2 1881.7,512.4 1876.0,519.1 1877.9,519.0 1876.4,522.4ZM1877.2,506.6 1878.7,503.4 1879.9,504.8 1881.0,496.0 1875.2,502.8 1877.1,502.7 1875.7,506.0ZM1877.9,490.2 1879.4,487.0 1880.6,488.5 1881.7,479.7 1875.9,486.4 1877.8,486.3 1876.4,489.5ZM1880.1,473.9 1881.5,470.8 1882.7,472.2 1883.8,463.4 1878.0,470.2 1879.9,470.1 1878.5,473.2ZM1883.7,457.8 1885.0,454.8 1886.2,456.2 1887.3,447.4 1881.5,454.2 1883.4,454.1 1882.1,457.1ZM1888.6,442.1 1889.9,439.1 1891.1,440.6 1892.1,431.8 1886.4,438.6 1888.3,438.5 1887.0,441.4ZM1894.9,426.9 1896.1,424.0 1897.4,425.5 1898.4,416.6 1892.7,423.5 1894.6,423.3 1893.3,426.2ZM1902.5,412.3 1903.7,409.5 1904.9,410.9 1905.9,402.1 1900.2,409.0 1902.1,408.8 1900.9,411.6ZM1911.4,398.4 1912.5,395.7 1913.7,397.1 1914.6,388.3 1909.0,395.2 1910.9,395.1 1909.8,397.8ZM1921.4,385.3 1922.4,382.7 1923.7,384.1 1924.4,375.3 1918.9,382.3 1920.8,382.1 1919.8,384.7ZM1932.5,373.2 1933.4,370.7 1934.7,372.1 1935.3,363.2 1929.9,370.3 1931.8,370.1 1930.9,372.6ZM1944.6,362.1 1945.5,359.6 1946.8,361.0 1947.1,352.1 1942.0,359.3 1943.9,359.1 1943.0,361.5ZM1957.7,352.0 1958.4,349.7 1959.8,351.0 1959.9,342.1 1954.9,349.5 1956.8,349.2 1956.1,351.5ZM1971.6,343.1 1972.2,340.9 1973.6,342.2 1973.4,333.3 1968.7,340.8 1970.6,340.5 1970.0,342.7ZM1986.2,335.5 1986.7,333.4 1988.2,334.6 1987.6,325.7 1983.2,333.4 1985.0,333.0 1984.5,335.1ZM2001.4,329.2 2001.8,327.2 2003.3,328.3 2002.4,319.5 1998.3,327.4 2000.1,326.8 1999.7,328.9ZM2017.1,324.2 2017.4,322.3 2019.0,323.4 2017.7,314.6 2013.9,322.6 2015.7,322.0 2015.4,324.0ZM2033.2,320.6 2033.4,318.7 2035.0,319.7 2033.3,311.0 2029.9,319.2 2031.7,318.5 2031.5,320.4ZM2049.5,318.4 2049.6,316.5 2051.3,317.4 2049.1,308.8 2046.2,317.1 2047.9,316.4 2047.8,318.3ZM2065.9,300.5 2066.0,298.2 2067.7,299.1 2065.1,290.6 2062.6,299.1 2064.3,298.2 2064.3,300.5ZM2083.9,301.2 2083.8,299.2 2085.5,299.9 2082.6,291.6 2080.4,300.2 2082.1,299.2 2082.2,301.3ZM2101.7,303.5 2101.5,301.5 2103.3,302.2 2099.9,294.0 2098.2,302.7 2099.8,301.7 2100.0,303.7ZM2119.2,307.4 2118.9,305.3 2120.7,305.9 2116.9,297.8 2115.7,306.6 2117.2,305.5 2117.5,307.6ZM2136.3,312.8 2135.9,310.5 2137.7,311.0 2133.6,303.2 2132.7,312.0 2134.2,310.9 2134.7,313.1ZM2152.9,319.6 2152.4,317.3 2154.2,317.7 2149.8,310.0 2149.2,318.9 2150.7,317.7 2151.2,320.0ZM2168.8,327.8 2168.2,325.4 2170.0,325.8 2165.3,318.3 2165.1,327.2 2166.5,325.9 2167.2,328.3ZM2184.0,337.5 2183.2,335.0 2185.1,335.3 2180.1,327.9 2180.2,336.8 2181.6,335.5 2182.3,338.0ZM2198.2,348.4 2197.3,345.8 2199.2,346.0 2194.0,338.8 2194.4,347.7 2195.7,346.4 2196.6,348.9ZM2211.4,360.5 2210.4,357.8 2212.3,358.0 2207.0,351.0 2207.5,359.8 2208.8,358.4 2209.8,361.1ZM2223.5,373.7 2222.5,371.0 2224.4,371.1 2218.8,364.2 2219.6,373.0 2220.9,371.6 2222.0,374.3ZM2234.5,387.9 2233.3,385.1 2235.2,385.3 2229.6,378.4 2230.5,387.2 2231.7,385.8 2232.9,388.6ZM2244.1,403.1 2242.9,400.2 2244.8,400.3 2239.1,393.5 2240.1,402.3 2241.3,400.9 2242.5,403.7ZM2252.4,419.0 2251.1,416.0 2253.0,416.1 2247.3,409.4 2248.3,418.2 2249.6,416.7 2250.8,419.7ZM2259.3,435.6 2257.9,432.6 2259.8,432.7 2254.1,425.9 2255.2,434.7 2256.4,433.2 2257.7,436.3ZM2264.7,452.7 2263.3,449.6 2265.2,449.7 2259.4,443.0 2260.5,451.8 2261.8,450.3 2263.1,453.4ZM2268.5,470.2 2267.2,467.1 2269.1,467.2 2263.3,460.5 2264.4,469.3 2265.6,467.8 2267.0,470.9ZM2270.9,488.0 2269.5,484.8 2271.4,484.9 2265.6,478.2 2266.7,487.0 2267.9,485.5 2269.3,488.7ZM2271.7,506.0 2270.2,502.7 2272.1,502.8 2266.3,496.1 2267.5,504.9 2268.7,503.4 2270.1,506.6ZM2270.9,523.9 2269.4,520.6 2271.3,520.7 2265.5,513.9 2266.7,522.7 2267.9,521.3 2269.3,524.6ZM2268.6,541.7 2267.1,538.3 2269.0,538.4 2263.2,531.6 2264.3,540.5 2265.5,539.0 2267.0,542.4ZM2264.7,559.2 2263.2,555.8 2265.1,555.9 2259.4,549.1 2260.4,557.9 2261.6,556.5 2263.1,559.9ZM2259.3,576.4 2257.9,572.9 2259.7,573.0 2254.2,566.1 2255.0,574.9 2256.3,573.5 2257.7,577.0ZM2252.4,593.0 2251.0,589.4 2252.9,589.6 2247.5,582.6 2248.2,591.4 2249.4,590.0 2250.8,593.6ZM2244.1,608.9 2242.8,605.3 2244.7,605.5 2239.3,598.4 2239.9,607.3 2241.2,605.9 2242.5,609.5ZM2234.5,624.1 2233.2,620.4 2235.1,620.6 2229.9,613.4 2230.3,622.3 2231.6,620.9 2232.9,624.6ZM2223.6,638.3 2222.3,634.5 2224.2,634.8 2219.2,627.5 2219.4,636.4 2220.7,635.0 2221.9,638.8ZM2211.4,651.6 2210.3,647.7 2212.1,648.0 2207.3,640.6 2207.3,649.5 2208.6,648.2 2209.8,652.1ZM2198.2,663.7 2197.1,659.7 2199.0,660.1 2194.3,652.6 2194.1,661.5 2195.5,660.2 2196.6,664.2ZM2184.0,674.7 2183.0,670.6 2184.8,671.0 2180.4,663.4 2179.9,672.2 2181.3,671.0 2182.3,675.1ZM2168.8,684.4 2168.0,680.2 2169.8,680.7 2165.6,672.9 2164.8,681.7 2166.3,680.6 2167.2,684.7ZM2152.9,692.7 2152.2,688.5 2154.0,689.0 2150.0,681.1 2149.0,689.9 2150.5,688.7 2151.2,693.0ZM2136.3,699.6 2135.7,695.3 2137.5,695.9 2133.8,687.8 2132.5,696.6 2134.0,695.5 2134.6,699.8ZM2119.2,705.0 2118.7,700.7 2120.5,701.4 2117.1,693.2 2115.5,701.9 2117.1,700.9 2117.5,705.2ZM2101.7,708.9 2101.4,704.6 2103.1,705.3 2100.0,697.0 2098.0,705.7 2099.7,704.7 2100.0,709.0ZM2083.9,711.3 2083.7,707.0 2085.5,707.8 2082.6,699.4 2080.4,707.9 2082.0,707.0 2082.2,711.3ZM2065.9,712.1 2065.9,707.8 2067.6,708.6 2065.1,700.1 2062.5,708.6 2064.2,707.8 2064.3,712.1ZM2048.0,711.3 2048.2,707.0 2049.8,707.9 2047.6,699.4 2044.7,707.8 2046.5,707.0 2046.3,711.3ZM2030.2,709.0 2030.5,704.7 2032.2,705.7 2030.2,697.0 2027.1,705.3 2028.8,704.6 2028.5,708.9ZM2012.7,705.2 2013.1,700.9 2014.7,701.9 2013.1,693.2 2009.7,701.4 2011.5,700.7 2011.0,705.0ZM1995.6,699.8 1996.2,695.5 1997.7,696.6 1996.4,687.8 1992.7,695.9 1994.5,695.3 1993.9,699.6ZM1979.0,693.0 1979.7,688.7 1981.2,689.9 1980.2,681.1 1976.2,689.0 1978.0,688.5 1977.3,692.7ZM1963.0,684.7 1963.9,680.6 1965.4,681.7 1964.6,672.9 1960.4,680.7 1962.2,680.2 1961.4,684.4ZM1947.9,675.1 1948.9,671.0 1950.3,672.2 1949.8,663.4 1945.4,671.0 1947.2,670.6 1946.2,674.7ZM1933.6,664.2 1934.7,660.2 1936.1,661.5 1935.9,652.6 1931.2,660.1 1933.1,659.7 1932.0,663.7ZM1920.4,652.1 1921.6,648.2 1922.9,649.5 1922.9,640.6 1918.1,648.0 1919.9,647.7 1918.8,651.6ZM1908.3,638.8 1909.5,635.0 1910.8,636.4 1911.0,627.5 1906.0,634.8 1907.9,634.5 1906.6,638.3ZM1897.3,624.6 1898.6,620.9 1899.9,622.3 1900.3,613.4 1895.1,620.6 1897.0,620.4 1895.7,624.1ZM1887.7,609.5 1889.0,605.9 1890.3,607.3 1890.9,598.4 1885.5,605.5 1887.4,605.3 1886.1,608.9ZM1879.4,593.6 1880.8,590.0 1882.0,591.4 1882.7,582.6 1877.3,589.6 1879.2,589.4 1877.8,593.0ZM1872.5,577.0 1873.9,573.5 1875.2,574.9 1876.0,566.1 1870.5,573.0 1872.3,572.9 1870.9,576.4ZM1867.1,559.9 1868.6,556.5 1869.8,557.9 1870.8,549.1 1865.1,555.9 1867.0,555.8 1865.5,559.2ZM1863.2,542.4 1864.7,539.0 1865.9,540.5 1867.0,531.6 1861.2,538.4 1863.1,538.3 1861.6,541.7ZM1860.9,524.6 1862.3,521.3 1863.5,522.7 1864.7,513.9 1858.9,520.7 1860.8,520.6 1859.3,523.9ZM1860.1,506.6 1861.5,503.4 1862.7,504.9 1863.9,496.1 1858.1,502.8 1860.0,502.7 1858.5,506.0ZM1860.9,488.7 1862.3,485.5 1863.5,487.0 1864.6,478.2 1858.8,484.9 1860.7,484.8 1859.3,488.0ZM1863.2,470.9 1864.6,467.8 1865.8,469.3 1866.9,460.5 1861.1,467.2 1863.0,467.1 1861.7,470.2ZM1867.1,453.4 1868.4,450.3 1869.7,451.8 1870.8,443.0 1865.0,449.7 1866.9,449.6 1865.5,452.7ZM1872.5,436.3 1873.8,433.2 1875.0,434.7 1876.1,425.9 1870.4,432.7 1872.3,432.6 1870.9,435.6ZM1879.4,419.7 1880.6,416.7 1881.9,418.2 1882.9,409.4 1877.2,416.1 1879.1,416.0 1877.8,419.0ZM1887.7,403.7 1888.9,400.9 1890.1,402.3 1891.1,393.5 1885.4,400.3 1887.3,400.2 1886.1,403.1ZM1897.3,388.6 1898.5,385.8 1899.7,387.2 1900.6,378.4 1895.0,385.3 1896.9,385.1 1895.7,387.9ZM1908.2,374.3 1909.3,371.6 1910.6,373.0 1911.4,364.2 1905.8,371.1 1907.7,371.0 1906.7,373.7ZM1920.4,361.1 1921.4,358.4 1922.7,359.8 1923.2,351.0 1917.9,358.0 1919.8,357.8 1918.8,360.5ZM1933.6,348.9 1934.5,346.4 1935.8,347.7 1936.2,338.8 1931.0,346.0 1932.9,345.8 1932.0,348.4ZM1947.9,338.0 1948.6,335.5 1950.0,336.8 1950.1,327.9 1945.1,335.3 1947.0,335.0 1946.2,337.5ZM1963.0,328.3 1963.7,325.9 1965.1,327.2 1964.9,318.3 1960.2,325.8 1962.0,325.4 1961.4,327.8ZM1979.0,320.0 1979.5,317.7 1981.0,318.9 1980.4,310.0 1976.0,317.7 1977.8,317.3 1977.3,319.6ZM1995.5,313.1 1996.0,310.9 1997.5,312.0 1996.6,303.2 1992.5,311.0 1994.3,310.5 1993.9,312.8ZM2012.7,307.6 2013.0,305.5 2014.5,306.6 2013.3,297.8 2009.5,305.9 2011.3,305.3 2011.0,307.4ZM2030.2,303.7 2030.4,301.7 2032.0,302.7 2030.3,294.0 2026.9,302.2 2028.7,301.5 2028.5,303.5ZM2048.0,301.3 2048.1,299.2 2049.8,300.2 2047.6,291.6 2044.7,299.9 2046.4,299.2 2046.3,301.2ZM2065.9,283.4 2066.0,280.9 2067.7,281.8 2065.1,273.3 2062.6,281.8 2064.3,280.9 2064.3,283.3ZM2085.4,284.2 2085.3,281.9 2087.0,282.7 2084.0,274.3 2081.9,282.9 2083.6,282.0 2083.7,284.2ZM2104.7,286.7 2104.4,284.4 2106.2,285.1 2102.8,276.9 2101.1,285.6 2102.7,284.6 2103.0,286.8ZM2123.6,290.8 2123.3,288.5 2125.1,289.1 2121.3,281.1 2120.1,289.8 2121.6,288.8 2122.0,291.1ZM2142.2,296.6 2141.7,294.2 2143.6,294.7 2139.4,286.9 2138.5,295.7 2140.1,294.5 2140.5,297.0ZM2160.1,304.0 2159.6,301.5 2161.4,302.0 2157.0,294.3 2156.4,303.2 2157.9,301.9 2158.5,304.4ZM2177.4,313.0 2176.7,310.4 2178.5,310.8 2173.8,303.3 2173.6,312.2 2175.0,310.9 2175.8,313.4ZM2193.8,323.4 2193.0,320.8 2194.8,321.1 2189.9,313.7 2190.0,322.6 2191.3,321.3 2192.2,323.9ZM2209.2,335.2 2208.3,332.5 2210.2,332.8 2205.0,325.6 2205.3,334.4 2206.7,333.1 2207.6,335.8ZM2223.5,348.4 2222.5,345.6 2224.4,345.8 2219.0,338.7 2219.6,347.6 2220.9,346.2 2222.0,348.9ZM2236.7,362.7 2235.6,359.8 2237.4,360.0 2231.9,353.1 2232.7,361.9 2234.0,360.5 2235.1,363.3ZM2248.5,378.1 2247.3,375.2 2249.2,375.3 2243.6,368.5 2244.5,377.3 2245.7,375.9 2246.9,378.7ZM2259.0,394.5 2257.7,391.5 2259.6,391.6 2253.9,384.9 2254.9,393.7 2256.1,392.2 2257.4,395.2ZM2267.9,411.7 2266.6,408.7 2268.5,408.8 2262.7,402.1 2263.8,410.9 2265.1,409.4 2266.4,412.4ZM2275.4,429.7 2274.0,426.7 2275.9,426.7 2270.1,420.0 2271.3,428.8 2272.5,427.4 2273.8,430.4ZM2281.2,448.2 2279.8,445.2 2281.7,445.2 2275.9,438.5 2277.1,447.3 2278.3,445.9 2279.7,448.9ZM2285.4,467.2 2284.0,464.1 2285.9,464.2 2280.1,457.5 2281.3,466.3 2282.5,464.8 2283.9,467.9ZM2288.0,486.5 2286.5,483.4 2288.4,483.4 2282.6,476.7 2283.8,485.5 2285.0,484.1 2286.4,487.2ZM2288.8,505.9 2287.4,502.7 2289.3,502.8 2283.4,496.1 2284.6,504.9 2285.8,503.4 2287.3,506.7ZM2288.0,525.4 2286.5,522.1 2288.4,522.2 2282.6,515.5 2283.8,524.3 2285.0,522.8 2286.4,526.1ZM2285.4,544.7 2284.0,541.4 2285.9,541.5 2280.1,534.7 2281.2,543.5 2282.4,542.0 2283.9,545.4ZM2281.2,563.7 2279.8,560.3 2281.7,560.4 2276.0,553.6 2277.0,562.4 2278.2,561.0 2279.7,564.3ZM2275.4,582.2 2274.0,578.8 2275.9,579.0 2270.3,572.1 2271.2,580.9 2272.4,579.5 2273.8,582.9ZM2268.0,600.2 2266.6,596.8 2268.5,597.0 2263.0,590.0 2263.8,598.8 2265.0,597.4 2266.4,600.8ZM2259.0,617.5 2257.7,614.0 2259.6,614.2 2254.2,607.1 2254.8,616.0 2256.1,614.6 2257.4,618.1ZM2248.5,633.9 2247.3,630.3 2249.2,630.6 2244.0,623.4 2244.4,632.3 2245.7,630.9 2246.9,634.5ZM2236.7,649.3 2235.5,645.7 2237.4,646.0 2232.3,638.7 2232.5,647.6 2233.9,646.2 2235.1,649.9ZM2223.6,663.7 2222.4,660.0 2224.3,660.3 2219.4,652.9 2219.4,661.8 2220.8,660.5 2221.9,664.2ZM2209.2,676.9 2208.2,673.1 2210.1,673.4 2205.4,665.9 2205.1,674.8 2206.6,673.5 2207.6,677.3ZM2193.8,688.7 2192.9,684.9 2194.7,685.3 2190.3,677.6 2189.8,686.5 2191.2,685.3 2192.2,689.1ZM2177.4,699.2 2176.6,695.3 2178.4,695.8 2174.2,688.0 2173.4,696.8 2174.9,695.6 2175.7,699.6ZM2160.2,708.2 2159.5,704.2 2161.3,704.7 2157.3,696.8 2156.3,705.6 2157.8,704.5 2158.5,708.5ZM2142.2,715.7 2141.6,711.6 2143.4,712.2 2139.7,704.2 2138.4,712.9 2139.9,711.9 2140.5,715.9ZM2123.6,721.6 2123.2,717.5 2125.0,718.1 2121.5,709.9 2119.9,718.7 2121.5,717.6 2122.0,721.7ZM2104.7,725.8 2104.4,721.7 2106.1,722.4 2103.0,714.1 2101.0,722.8 2102.7,721.8 2103.0,725.9ZM2085.4,728.4 2085.2,724.2 2087.0,725.0 2084.1,716.6 2081.9,725.2 2083.5,724.3 2083.7,728.4ZM2065.9,729.2 2065.9,725.1 2067.6,726.0 2065.1,717.5 2062.5,726.0 2064.2,725.1 2064.3,729.3ZM2046.5,728.4 2046.7,724.3 2048.3,725.2 2046.1,716.6 2043.2,725.0 2045.0,724.2 2044.8,728.4ZM2027.2,725.9 2027.5,721.8 2029.2,722.8 2027.2,714.1 2024.1,722.4 2025.8,721.7 2025.5,725.8ZM2008.2,721.7 2008.7,717.6 2010.3,718.7 2008.7,709.9 2005.2,718.1 2007.0,717.5 2006.6,721.6ZM1989.7,715.9 1990.3,711.9 1991.8,712.9 1990.5,704.2 1986.8,712.2 1988.6,711.6 1988.0,715.7ZM1971.7,708.5 1972.4,704.5 1973.9,705.6 1972.9,696.8 1968.9,704.7 1970.7,704.2 1970.0,708.2ZM1954.5,699.6 1955.3,695.6 1956.8,696.8 1956.0,688.0 1951.8,695.8 1953.6,695.3 1952.8,699.2ZM1938.0,689.1 1939.0,685.3 1940.4,686.5 1939.9,677.6 1935.5,685.3 1937.3,684.9 1936.4,688.7ZM1922.6,677.3 1923.6,673.5 1925.1,674.8 1924.8,665.9 1920.1,673.4 1922.0,673.1 1921.0,676.9ZM1908.3,664.2 1909.4,660.5 1910.8,661.8 1910.8,652.9 1905.9,660.3 1907.8,660.0 1906.6,663.7ZM1895.1,649.9 1896.3,646.2 1897.7,647.6 1897.9,638.7 1892.8,646.0 1894.7,645.7 1893.5,649.3ZM1883.3,634.5 1884.5,630.9 1885.8,632.3 1886.2,623.4 1881.0,630.6 1882.9,630.3 1881.7,633.9ZM1872.8,618.1 1874.1,614.6 1875.4,616.0 1876.0,607.1 1870.6,614.2 1872.5,614.0 1871.2,617.5ZM1863.8,600.8 1865.2,597.4 1866.4,598.8 1867.2,590.0 1861.7,597.0 1863.6,596.8 1862.2,600.2ZM1856.4,582.9 1857.8,579.5 1859.0,580.9 1859.9,572.1 1854.3,579.0 1856.2,578.8 1854.8,582.2ZM1850.5,564.3 1852.0,561.0 1853.2,562.4 1854.2,553.6 1848.5,560.4 1850.4,560.3 1849.0,563.7ZM1846.3,545.4 1847.8,542.0 1849.0,543.5 1850.1,534.7 1844.3,541.5 1846.2,541.4 1844.8,544.7ZM1843.8,526.1 1845.2,522.8 1846.4,524.3 1847.6,515.5 1841.8,522.2 1843.7,522.1 1842.2,525.4ZM1842.9,506.7 1844.4,503.4 1845.6,504.9 1846.8,496.1 1840.9,502.8 1842.8,502.7 1841.4,505.9ZM1843.8,487.2 1845.2,484.1 1846.4,485.5 1847.6,476.7 1841.8,483.4 1843.7,483.4 1842.2,486.5ZM1846.3,467.9 1847.7,464.8 1848.9,466.3 1850.1,457.5 1844.3,464.2 1846.2,464.1 1844.8,467.2ZM1850.5,448.9 1851.9,445.9 1853.1,447.3 1854.3,438.5 1848.5,445.2 1850.4,445.2 1849.0,448.2ZM1856.4,430.4 1857.7,427.4 1858.9,428.8 1860.1,420.0 1854.3,426.7 1856.2,426.7 1854.8,429.7ZM1863.8,412.4 1865.1,409.4 1866.4,410.9 1867.5,402.1 1861.7,408.8 1863.6,408.7 1862.3,411.7ZM1872.8,395.2 1874.1,392.2 1875.3,393.7 1876.3,384.9 1870.6,391.6 1872.5,391.5 1871.2,394.5ZM1883.3,378.7 1884.5,375.9 1885.7,377.3 1886.6,368.5 1881.0,375.3 1882.9,375.2 1881.7,378.1ZM1895.1,363.3 1896.2,360.5 1897.5,361.9 1898.3,353.1 1892.8,360.0 1894.6,359.8 1893.5,362.7ZM1908.2,348.9 1909.3,346.2 1910.6,347.6 1911.2,338.7 1905.8,345.8 1907.7,345.6 1906.7,348.4ZM1922.6,335.8 1923.5,333.1 1924.9,334.4 1925.2,325.6 1920.0,332.8 1921.9,332.5 1921.0,335.2ZM1938.0,323.9 1938.9,321.3 1940.2,322.6 1940.3,313.7 1935.4,321.1 1937.2,320.8 1936.4,323.4ZM1954.4,313.4 1955.2,310.9 1956.6,312.2 1956.4,303.3 1951.7,310.8 1953.5,310.4 1952.8,313.0ZM1971.7,304.4 1972.3,301.9 1973.8,303.2 1973.2,294.3 1968.8,302.0 1970.6,301.5 1970.1,304.0ZM1989.7,297.0 1990.1,294.5 1991.7,295.7 1990.8,286.9 1986.6,294.7 1988.5,294.2 1988.0,296.6ZM2008.2,291.1 2008.6,288.8 2010.1,289.8 2008.9,281.1 2005.1,289.1 2006.9,288.5 2006.6,290.8ZM2027.2,286.8 2027.5,284.6 2029.1,285.6 2027.4,276.9 2024.0,285.1 2025.8,284.4 2025.5,286.7ZM2046.5,284.2 2046.6,282.0 2048.3,282.9 2046.2,274.3 2043.2,282.7 2044.9,281.9 2044.8,284.2ZM2065.9,266.2 2066.0,263.6 2067.7,264.4 2065.1,255.9 2062.6,264.4 2064.3,263.6 2064.3,266.2ZM2086.9,267.1 2086.8,264.6 2088.5,265.4 2085.5,257.0 2083.4,265.6 2085.1,264.7 2085.2,267.2ZM2107.6,269.8 2107.4,267.3 2109.2,268.0 2105.8,259.7 2104.1,268.5 2105.7,267.4 2105.9,269.9ZM2128.1,274.3 2127.7,271.7 2129.5,272.3 2125.8,264.3 2124.5,273.1 2126.0,272.0 2126.4,274.5ZM2148.1,280.5 2147.5,277.9 2149.4,278.4 2145.3,270.6 2144.4,279.4 2145.9,278.2 2146.4,280.8ZM2167.4,288.5 2166.8,285.8 2168.6,286.2 2164.2,278.6 2163.6,287.4 2165.1,286.2 2165.7,288.9ZM2186.0,298.1 2185.2,295.4 2187.1,295.8 2182.3,288.3 2182.2,297.1 2183.6,295.9 2184.3,298.6ZM2203.6,309.4 2202.7,306.6 2204.6,306.9 2199.6,299.6 2199.8,308.4 2201.1,307.1 2202.0,309.9ZM2220.2,322.1 2219.2,319.3 2221.1,319.5 2215.9,312.3 2216.3,321.2 2217.6,319.8 2218.6,322.7ZM2235.7,336.2 2234.6,333.3 2236.5,333.5 2231.1,326.5 2231.7,335.3 2233.0,333.9 2234.1,336.8ZM2249.8,351.7 2248.6,348.7 2250.5,348.9 2245.0,341.9 2245.8,350.8 2247.1,349.3 2248.2,352.3ZM2262.6,368.3 2261.3,365.3 2263.2,365.4 2257.6,358.6 2258.5,367.4 2259.7,365.9 2261.0,368.9ZM2273.8,385.9 2272.5,382.9 2274.4,383.0 2268.7,376.2 2269.7,385.0 2270.9,383.6 2272.3,386.6ZM2283.5,404.5 2282.1,401.5 2284.0,401.5 2278.2,394.8 2279.4,403.6 2280.6,402.1 2281.9,405.2ZM2291.5,423.8 2290.1,420.8 2292.0,420.8 2286.2,414.1 2287.4,422.9 2288.6,421.5 2289.9,424.5ZM2297.8,443.8 2296.4,440.7 2298.3,440.8 2292.5,434.1 2293.7,442.9 2294.8,441.4 2296.2,444.5ZM2302.3,464.3 2300.9,461.1 2302.8,461.2 2296.9,454.5 2298.2,463.3 2299.4,461.9 2300.8,465.0ZM2305.1,485.0 2303.6,481.9 2305.5,481.9 2299.6,475.3 2300.9,484.1 2302.1,482.6 2303.5,485.7ZM2306.0,505.9 2304.5,502.8 2306.4,502.8 2300.6,496.2 2301.8,505.0 2303.0,503.5 2304.4,506.7ZM2305.1,526.9 2303.6,523.7 2305.5,523.8 2299.7,517.0 2300.9,525.8 2302.1,524.4 2303.5,527.6ZM2302.3,547.7 2300.9,544.4 2302.8,544.5 2297.1,537.8 2298.1,546.6 2299.4,545.1 2300.8,548.3ZM2297.8,568.1 2296.4,564.8 2298.3,565.0 2292.6,558.1 2293.6,567.0 2294.8,565.5 2296.2,568.8ZM2291.5,588.1 2290.2,584.8 2292.1,585.0 2286.5,578.1 2287.3,586.9 2288.6,585.5 2289.9,588.7ZM2283.5,607.5 2282.2,604.2 2284.1,604.3 2278.6,597.3 2279.3,606.2 2280.6,604.8 2281.9,608.1ZM2273.8,626.1 2272.6,622.7 2274.5,622.9 2269.1,615.8 2269.7,624.7 2271.0,623.3 2272.2,626.6ZM2262.6,643.7 2261.4,640.3 2263.3,640.6 2258.0,633.4 2258.5,642.3 2259.8,640.9 2261.0,644.3ZM2249.8,660.4 2248.7,656.9 2250.6,657.2 2245.5,649.9 2245.7,658.8 2247.1,657.4 2248.2,660.9ZM2235.7,675.8 2234.6,672.3 2236.5,672.6 2231.6,665.2 2231.6,674.1 2233.0,672.8 2234.1,676.3ZM2220.3,690.0 2219.3,686.4 2221.1,686.8 2216.5,679.2 2216.2,688.1 2217.6,686.9 2218.6,690.4ZM2203.6,702.8 2202.8,699.1 2204.6,699.6 2200.2,691.9 2199.7,700.7 2201.1,699.5 2202.0,703.2ZM2186.0,714.1 2185.2,710.3 2187.0,710.8 2182.8,703.0 2182.1,711.9 2183.5,710.7 2184.3,714.4ZM2167.4,723.8 2166.7,720.0 2168.6,720.5 2164.6,712.6 2163.5,721.4 2165.1,720.3 2165.7,724.1ZM2148.1,731.8 2147.5,728.0 2149.3,728.6 2145.6,720.5 2144.3,729.3 2145.8,728.2 2146.4,732.0ZM2128.1,738.1 2127.7,734.2 2129.4,734.9 2126.0,726.7 2124.4,735.5 2126.0,734.4 2126.4,738.3ZM2107.6,742.7 2107.4,738.8 2109.1,739.5 2105.9,731.2 2104.0,739.9 2105.7,738.9 2105.9,742.8ZM2086.9,745.5 2086.7,741.5 2088.5,742.3 2085.6,733.9 2083.4,742.5 2085.0,741.6 2085.2,745.5ZM2065.9,746.4 2065.9,742.5 2067.6,743.3 2065.1,734.8 2062.5,743.3 2064.2,742.5 2064.3,746.4ZM2045.0,745.5 2045.2,741.6 2046.8,742.5 2044.6,733.9 2041.7,742.3 2043.5,741.5 2043.3,745.5ZM2024.3,742.8 2024.5,738.9 2026.2,739.9 2024.3,731.2 2021.1,739.5 2022.8,738.8 2022.6,742.7ZM2003.8,738.3 2004.2,734.4 2005.8,735.5 2004.2,726.7 2000.8,734.9 2002.5,734.2 2002.1,738.1ZM1983.8,732.0 1984.4,728.2 1985.9,729.3 1984.6,720.5 1980.9,728.6 1982.7,728.0 1982.1,731.8ZM1964.5,724.1 1965.1,720.3 1966.7,721.4 1965.6,712.6 1961.6,720.5 1963.5,720.0 1962.8,723.8ZM1945.9,714.4 1946.7,710.7 1948.1,711.9 1947.4,703.0 1943.2,710.8 1945.0,710.3 1944.2,714.1ZM1928.2,703.2 1929.1,699.5 1930.5,700.7 1930.0,691.9 1925.6,699.6 1927.4,699.1 1926.6,702.8ZM1911.6,690.4 1912.6,686.9 1914.0,688.1 1913.7,679.2 1909.1,686.8 1910.9,686.4 1909.9,690.0ZM1896.1,676.3 1897.2,672.8 1898.6,674.1 1898.6,665.2 1893.7,672.6 1895.6,672.3 1894.5,675.8ZM1882.0,660.9 1883.1,657.4 1884.5,658.8 1884.7,649.9 1879.6,657.2 1881.5,656.9 1880.4,660.4ZM1869.2,644.3 1870.4,640.9 1871.7,642.3 1872.2,633.4 1866.9,640.6 1868.8,640.3 1867.6,643.7ZM1858.0,626.6 1859.2,623.3 1860.5,624.7 1861.1,615.8 1855.7,622.9 1857.6,622.7 1856.4,626.1ZM1848.3,608.1 1849.6,604.8 1850.9,606.2 1851.6,597.3 1846.1,604.3 1848.0,604.2 1846.7,607.5ZM1840.3,588.7 1841.6,585.5 1842.9,586.9 1843.7,578.1 1838.1,585.0 1840.0,584.8 1838.7,588.1ZM1834.0,568.8 1835.4,565.5 1836.6,567.0 1837.6,558.1 1831.9,565.0 1833.8,564.8 1832.4,568.1ZM1829.4,548.3 1830.8,545.1 1832.1,546.6 1833.1,537.8 1827.4,544.5 1829.3,544.4 1827.9,547.7ZM1826.7,527.6 1828.1,524.4 1829.3,525.8 1830.5,517.0 1824.7,523.8 1826.6,523.7 1825.1,526.9ZM1825.8,506.7 1827.2,503.5 1828.4,505.0 1829.6,496.2 1823.8,502.8 1825.7,502.8 1824.2,505.9ZM1826.7,485.7 1828.1,482.6 1829.3,484.1 1830.6,475.3 1824.7,481.9 1826.6,481.9 1825.1,485.0ZM1829.4,465.0 1830.8,461.9 1832.0,463.3 1833.3,454.5 1827.4,461.2 1829.3,461.1 1827.9,464.3ZM1834.0,444.5 1835.4,441.4 1836.5,442.9 1837.7,434.1 1831.9,440.8 1833.8,440.7 1832.4,443.8ZM1840.3,424.5 1841.6,421.5 1842.8,422.9 1844.0,414.1 1838.2,420.8 1840.1,420.8 1838.7,423.8ZM1848.3,405.2 1849.6,402.1 1850.8,403.6 1852.0,394.8 1846.2,401.5 1848.1,401.5 1846.7,404.5ZM1857.9,386.6 1859.3,383.6 1860.5,385.0 1861.5,376.2 1855.8,383.0 1857.7,382.9 1856.4,385.9ZM1869.2,368.9 1870.5,365.9 1871.7,367.4 1872.6,358.6 1867.0,365.4 1868.9,365.3 1867.6,368.3ZM1882.0,352.3 1883.1,349.3 1884.4,350.8 1885.2,341.9 1879.7,348.9 1881.6,348.7 1880.4,351.7ZM1896.1,336.8 1897.2,333.9 1898.5,335.3 1899.1,326.5 1893.7,333.5 1895.6,333.3 1894.5,336.2ZM1911.6,322.7 1912.6,319.8 1913.9,321.2 1914.3,312.3 1909.1,319.5 1911.0,319.3 1910.0,322.1ZM1928.2,309.9 1929.1,307.1 1930.4,308.4 1930.6,299.6 1925.6,306.9 1927.5,306.6 1926.6,309.4ZM1945.9,298.6 1946.6,295.9 1948.0,297.1 1947.9,288.3 1943.1,295.8 1945.0,295.4 1944.2,298.1ZM1964.5,288.9 1965.1,286.2 1966.6,287.4 1966.0,278.6 1961.6,286.2 1963.4,285.8 1962.8,288.5ZM1983.8,280.8 1984.3,278.2 1985.8,279.4 1984.9,270.6 1980.8,278.4 1982.7,277.9 1982.1,280.5ZM2003.8,274.5 2004.2,272.0 2005.7,273.1 2004.4,264.3 2000.7,272.3 2002.5,271.7 2002.1,274.3ZM2024.3,269.9 2024.5,267.4 2026.1,268.5 2024.4,259.7 2021.0,268.0 2022.8,267.3 2022.6,269.8ZM2045.0,267.2 2045.1,264.7 2046.8,265.6 2044.7,257.0 2041.7,265.4 2043.4,264.6 2043.3,267.1ZM2065.9,249.1 2066.0,246.1 2067.7,247.0 2065.1,238.5 2062.6,247.0 2064.3,246.1 2064.3,249.0ZM2088.4,250.0 2088.2,247.2 2090.0,248.0 2087.0,239.6 2084.9,248.3 2086.5,247.3 2086.7,250.1ZM2110.6,252.9 2110.3,250.1 2112.1,250.8 2108.7,242.6 2107.0,251.3 2108.7,250.3 2108.9,253.0ZM2132.5,257.7 2132.1,254.9 2133.9,255.5 2130.1,247.5 2128.9,256.3 2130.4,255.2 2130.8,257.9ZM2153.9,264.4 2153.4,261.6 2155.2,262.1 2151.1,254.2 2150.2,263.1 2151.7,261.9 2152.3,264.7ZM2174.6,273.0 2174.0,270.1 2175.8,270.5 2171.3,262.9 2170.9,271.7 2172.3,270.5 2173.0,273.4ZM2194.5,283.3 2193.7,280.4 2195.6,280.8 2190.8,273.3 2190.7,282.1 2192.1,280.9 2192.9,283.7ZM2213.5,295.3 2212.5,292.4 2214.4,292.7 2209.4,285.4 2209.6,294.2 2210.9,292.9 2211.8,295.8ZM2231.3,309.0 2230.2,306.0 2232.1,306.2 2226.9,299.1 2227.3,307.9 2228.6,306.6 2229.7,309.5ZM2247.8,324.1 2246.7,321.1 2248.6,321.3 2243.2,314.2 2243.8,323.1 2245.1,321.7 2246.2,324.7ZM2263.0,340.6 2261.7,337.6 2263.6,337.8 2258.1,330.8 2258.9,339.7 2260.2,338.2 2261.4,341.3ZM2276.6,358.4 2275.3,355.4 2277.2,355.5 2271.6,348.7 2272.5,357.5 2273.8,356.0 2275.0,359.1ZM2288.7,377.3 2287.3,374.3 2289.2,374.4 2283.5,367.6 2284.6,376.4 2285.8,375.0 2287.1,378.0ZM2299.0,397.2 2297.7,394.2 2299.6,394.3 2293.7,387.5 2294.9,396.3 2296.1,394.9 2297.5,397.9ZM2307.6,418.0 2306.2,414.9 2308.1,415.0 2302.3,408.3 2303.5,417.1 2304.7,415.6 2306.1,418.7ZM2314.4,439.4 2312.9,436.3 2314.8,436.4 2309.0,429.7 2310.2,438.5 2311.4,437.0 2312.8,440.1ZM2319.2,461.3 2317.8,458.2 2319.7,458.2 2313.8,451.6 2315.1,460.4 2316.2,458.9 2317.7,462.0ZM2322.1,483.5 2320.7,480.4 2322.6,480.5 2316.7,473.8 2318.0,482.6 2319.2,481.1 2320.6,484.2ZM2323.1,505.9 2321.7,502.8 2323.6,502.9 2317.7,496.2 2319.0,505.0 2320.1,503.5 2321.6,506.7ZM2322.1,528.4 2320.7,525.2 2322.6,525.3 2316.8,518.6 2318.0,527.4 2319.2,525.9 2320.6,529.1ZM2319.2,550.6 2317.8,547.5 2319.7,547.6 2314.0,540.8 2315.1,549.6 2316.3,548.2 2317.7,551.3ZM2314.4,572.5 2313.0,569.4 2314.9,569.5 2309.2,562.7 2310.2,571.5 2311.5,570.1 2312.8,573.2ZM2307.6,594.0 2306.3,590.8 2308.2,590.9 2302.6,584.0 2303.5,592.9 2304.7,591.4 2306.1,594.6ZM2299.0,614.7 2297.8,611.5 2299.7,611.7 2294.2,604.7 2294.9,613.6 2296.2,612.1 2297.5,615.3ZM2288.7,634.6 2287.5,631.4 2289.4,631.6 2284.0,624.6 2284.6,633.4 2285.9,632.0 2287.1,635.2ZM2276.6,653.6 2275.5,650.3 2277.4,650.6 2272.1,643.4 2272.6,652.3 2273.9,650.9 2275.0,654.1ZM2263.0,671.4 2261.9,668.1 2263.8,668.4 2258.7,661.1 2258.9,670.0 2260.3,668.6 2261.4,671.9ZM2247.8,688.0 2246.8,684.6 2248.7,684.9 2243.8,677.5 2243.8,686.4 2245.2,685.1 2246.2,688.4ZM2231.3,703.1 2230.4,699.8 2232.2,700.1 2227.5,692.6 2227.3,701.5 2228.7,700.2 2229.6,703.6ZM2213.5,716.8 2212.7,713.4 2214.5,713.8 2210.0,706.2 2209.5,715.0 2211.0,713.8 2211.8,717.2ZM2194.6,728.9 2193.8,725.4 2195.7,725.9 2191.4,718.1 2190.7,727.0 2192.2,725.8 2192.9,729.3ZM2174.7,739.3 2174.0,735.8 2175.9,736.3 2171.9,728.4 2170.8,737.2 2172.4,736.1 2173.0,739.6ZM2153.9,747.9 2153.4,744.3 2155.2,744.9 2151.5,736.9 2150.2,745.6 2151.7,744.6 2152.2,748.2ZM2132.5,754.7 2132.1,751.0 2133.9,751.7 2130.4,743.5 2128.8,752.3 2130.4,751.2 2130.8,754.9ZM2110.6,759.6 2110.3,755.9 2112.1,756.6 2108.9,748.3 2107.0,757.0 2108.7,756.0 2108.9,759.7ZM2088.4,762.5 2088.2,758.9 2090.0,759.6 2087.1,751.2 2084.9,759.8 2086.5,758.9 2086.7,762.6ZM2065.9,763.5 2065.9,759.9 2067.6,760.7 2065.1,752.2 2062.5,760.7 2064.2,759.9 2064.3,763.6ZM2043.5,762.6 2043.7,758.9 2045.3,759.8 2043.1,751.2 2040.2,759.6 2042.0,758.9 2041.8,762.5ZM2021.3,759.7 2021.5,756.0 2023.2,757.0 2021.3,748.3 2018.1,756.6 2019.9,755.9 2019.6,759.6ZM1999.4,754.9 1999.8,751.2 2001.4,752.3 1999.8,743.5 1996.3,751.7 1998.1,751.0 1997.7,754.7ZM1978.0,748.2 1978.5,744.6 1980.0,745.6 1978.7,736.9 1975.0,744.9 1976.8,744.3 1976.3,747.9ZM1957.2,739.6 1957.8,736.1 1959.4,737.2 1958.3,728.4 1954.3,736.3 1956.2,735.8 1955.5,739.3ZM1937.3,729.3 1938.0,725.8 1939.5,727.0 1938.8,718.1 1934.5,725.9 1936.4,725.4 1935.6,728.9ZM1918.4,717.2 1919.2,713.8 1920.7,715.0 1920.2,706.2 1915.7,713.8 1917.5,713.4 1916.7,716.8ZM1900.6,703.6 1901.5,700.2 1902.9,701.5 1902.7,692.6 1898.0,700.1 1899.8,699.8 1898.9,703.1ZM1884.0,688.4 1885.0,685.1 1886.4,686.4 1886.4,677.5 1881.5,684.9 1883.4,684.6 1882.4,688.0ZM1868.8,671.9 1869.9,668.6 1871.3,670.0 1871.5,661.1 1866.4,668.4 1868.3,668.1 1867.2,671.4ZM1855.2,654.1 1856.3,650.9 1857.6,652.3 1858.1,643.4 1852.8,650.6 1854.7,650.3 1853.6,653.6ZM1843.1,635.2 1844.3,632.0 1845.6,633.4 1846.2,624.6 1840.8,631.6 1842.7,631.4 1841.5,634.6ZM1832.7,615.3 1834.0,612.1 1835.3,613.6 1836.0,604.7 1830.5,611.7 1832.4,611.5 1831.2,614.7ZM1824.1,594.6 1825.5,591.4 1826.7,592.9 1827.6,584.0 1822.0,590.9 1823.9,590.8 1822.6,594.0ZM1817.4,573.2 1818.7,570.1 1820.0,571.5 1821.0,562.7 1815.3,569.5 1817.2,569.4 1815.8,572.5ZM1812.5,551.3 1813.9,548.2 1815.1,549.6 1816.2,540.8 1810.5,547.6 1812.4,547.5 1811.0,550.6ZM1809.6,529.1 1811.0,525.9 1812.2,527.4 1813.4,518.6 1807.6,525.3 1809.5,525.2 1808.1,528.4ZM1808.6,506.7 1810.1,503.5 1811.2,505.0 1812.5,496.2 1806.6,502.9 1808.5,502.8 1807.1,505.9ZM1809.6,484.2 1811.0,481.1 1812.2,482.6 1813.5,473.8 1807.6,480.5 1809.5,480.4 1808.1,483.5ZM1812.5,462.0 1814.0,458.9 1815.1,460.4 1816.4,451.6 1810.5,458.2 1812.4,458.2 1811.0,461.3ZM1817.4,440.1 1818.8,437.0 1820.0,438.5 1821.2,429.7 1815.4,436.4 1817.3,436.3 1815.8,439.4ZM1824.1,418.7 1825.5,415.6 1826.7,417.1 1827.9,408.3 1822.1,415.0 1824.0,414.9 1822.6,418.0ZM1832.7,397.9 1834.1,394.9 1835.3,396.3 1836.5,387.5 1830.6,394.3 1832.5,394.2 1831.2,397.2ZM1843.1,378.0 1844.4,375.0 1845.6,376.4 1846.7,367.6 1841.0,374.4 1842.9,374.3 1841.5,377.3ZM1855.2,359.1 1856.4,356.0 1857.7,357.5 1858.6,348.7 1853.0,355.5 1854.9,355.4 1853.6,358.4ZM1868.8,341.3 1870.0,338.2 1871.3,339.7 1872.1,330.8 1866.6,337.8 1868.5,337.6 1867.2,340.6ZM1884.0,324.7 1885.1,321.7 1886.4,323.1 1887.0,314.2 1881.6,321.3 1883.5,321.1 1882.4,324.1ZM1900.5,309.5 1901.6,306.6 1902.9,307.9 1903.3,299.1 1898.1,306.2 1900.0,306.0 1898.9,309.0ZM1918.4,295.8 1919.3,292.9 1920.6,294.2 1920.8,285.4 1915.8,292.7 1917.7,292.4 1916.7,295.3ZM1937.3,283.7 1938.1,280.9 1939.5,282.1 1939.4,273.3 1934.6,280.8 1936.5,280.4 1935.7,283.3ZM1957.2,273.4 1957.9,270.5 1959.3,271.7 1958.9,262.9 1954.4,270.5 1956.2,270.1 1955.6,273.0ZM1977.9,264.7 1978.5,261.9 1980.0,263.1 1979.1,254.2 1975.0,262.1 1976.8,261.6 1976.3,264.4ZM1999.4,257.9 1999.8,255.2 2001.3,256.3 2000.1,247.5 1996.3,255.5 1998.1,254.9 1997.7,257.7ZM2021.3,253.0 2021.5,250.3 2023.2,251.3 2021.5,242.6 2018.1,250.8 2019.9,250.1 2019.6,252.9ZM2043.5,250.1 2043.7,247.3 2045.3,248.3 2043.2,239.6 2040.2,248.0 2042.0,247.2 2041.8,250.0ZM2065.9,231.9 2065.9,228.7 2067.6,229.6 2065.1,221.1 2062.5,229.6 2064.2,228.7 2064.3,231.9ZM2089.9,232.9 2089.7,229.9 2091.5,230.7 2088.5,222.3 2086.4,230.9 2088.0,230.0 2088.2,233.0ZM2113.6,236.0 2113.3,233.0 2115.1,233.7 2111.7,225.5 2110.0,234.2 2111.6,233.2 2111.9,236.2ZM2137.0,241.1 2136.5,238.2 2138.3,238.7 2134.5,230.7 2133.3,239.5 2134.8,238.4 2135.3,241.4ZM2159.8,248.3 2159.2,245.3 2161.0,245.8 2156.8,237.9 2156.0,246.8 2157.5,245.6 2158.1,248.6ZM2181.9,257.4 2181.2,254.4 2183.0,254.8 2178.5,247.2 2178.1,256.0 2179.5,254.8 2180.2,257.8ZM2203.1,268.4 2202.3,265.4 2204.1,265.7 2199.3,258.3 2199.2,267.1 2200.6,265.9 2201.5,268.9ZM2223.3,281.3 2222.3,278.2 2224.2,278.5 2219.2,271.2 2219.3,280.0 2220.7,278.7 2221.7,281.8ZM2242.3,295.8 2241.2,292.7 2243.1,292.9 2237.8,285.8 2238.3,294.7 2239.6,293.3 2240.7,296.4ZM2259.9,312.0 2258.7,308.9 2260.6,309.0 2255.2,302.0 2255.9,310.9 2257.1,309.5 2258.3,312.6ZM2276.1,329.6 2274.8,326.5 2276.7,326.6 2271.2,319.7 2272.0,328.6 2273.3,327.1 2274.5,330.2ZM2290.7,348.6 2289.3,345.5 2291.2,345.6 2285.6,338.8 2286.5,347.6 2287.8,346.1 2289.1,349.2ZM2303.5,368.8 2302.2,365.7 2304.1,365.8 2298.3,359.0 2299.4,367.8 2300.6,366.4 2302.0,369.4ZM2314.6,390.0 2313.2,386.9 2315.1,387.0 2309.2,380.3 2310.4,389.1 2311.6,387.6 2313.0,390.7ZM2323.7,412.1 2322.3,409.0 2324.2,409.1 2318.4,402.4 2319.6,411.2 2320.8,409.7 2322.2,412.8ZM2330.9,434.9 2329.5,431.9 2331.4,431.9 2325.5,425.3 2326.8,434.1 2328.0,432.6 2329.4,435.6ZM2336.1,458.3 2334.7,455.2 2336.6,455.3 2330.6,448.7 2331.9,457.4 2333.1,456.0 2334.6,459.0ZM2339.2,482.0 2337.8,479.0 2339.7,479.0 2333.8,472.4 2335.1,481.2 2336.2,479.7 2337.7,482.7ZM2340.3,505.9 2338.8,502.9 2340.7,502.9 2334.8,496.3 2336.1,505.1 2337.3,503.6 2338.7,506.7ZM2339.2,529.9 2337.8,526.8 2339.7,526.9 2333.9,520.2 2335.1,529.0 2336.3,527.5 2337.7,530.6ZM2336.1,553.6 2334.7,550.5 2336.6,550.6 2330.9,543.9 2332.0,552.7 2333.2,551.2 2334.6,554.3ZM2330.9,577.0 2329.6,573.9 2331.5,574.0 2325.8,567.2 2326.8,576.0 2328.0,574.6 2329.4,577.7ZM2323.7,599.8 2322.5,596.7 2324.4,596.9 2318.7,590.0 2319.6,598.8 2320.9,597.4 2322.2,600.5ZM2314.6,622.0 2313.4,618.9 2315.2,619.0 2309.7,612.1 2310.5,620.9 2311.8,619.5 2313.0,622.6ZM2303.5,643.2 2302.4,640.1 2304.3,640.3 2298.9,633.3 2299.5,642.1 2300.8,640.7 2301.9,643.8ZM2290.7,663.4 2289.6,660.3 2291.5,660.5 2286.2,653.4 2286.7,662.3 2288.0,660.9 2289.1,664.0ZM2276.1,682.4 2275.1,679.3 2277.0,679.6 2271.9,672.3 2272.1,681.2 2273.5,679.8 2274.5,682.9ZM2259.9,700.1 2259.0,696.9 2260.9,697.3 2256.0,689.9 2256.0,698.7 2257.4,697.4 2258.3,700.6ZM2242.3,716.3 2241.4,713.1 2243.3,713.5 2238.6,705.9 2238.4,714.8 2239.8,713.5 2240.7,716.7ZM2223.3,730.9 2222.5,727.7 2224.4,728.1 2219.9,720.4 2219.4,729.3 2220.9,728.1 2221.7,731.3ZM2203.1,743.8 2202.5,740.5 2204.3,741.0 2200.1,733.2 2199.3,742.0 2200.8,740.9 2201.5,744.1ZM2181.9,754.8 2181.3,751.5 2183.1,752.1 2179.1,744.2 2178.1,753.0 2179.6,751.8 2180.2,755.1ZM2159.8,764.0 2159.3,760.7 2161.1,761.3 2157.4,753.2 2156.1,762.0 2157.6,760.9 2158.1,764.3ZM2137.0,771.3 2136.6,767.8 2138.4,768.5 2134.9,760.3 2133.3,769.1 2134.9,768.0 2135.3,771.4ZM2113.6,776.5 2113.3,773.0 2115.1,773.7 2111.9,765.5 2110.0,774.1 2111.6,773.1 2111.9,776.6ZM2089.9,779.6 2089.7,776.2 2091.5,776.9 2088.6,768.5 2086.4,777.1 2088.0,776.2 2088.2,779.7ZM2065.9,780.7 2065.9,777.2 2067.6,778.1 2065.1,769.6 2062.5,778.1 2064.2,777.2 2064.3,780.7ZM2042.0,779.7 2042.2,776.2 2043.8,777.1 2041.6,768.5 2038.7,776.9 2040.5,776.2 2040.3,779.6ZM2018.3,776.6 2018.6,773.1 2020.2,774.1 2018.3,765.5 2015.1,773.7 2016.9,773.0 2016.6,776.5ZM1994.9,771.4 1995.3,768.0 1996.9,769.1 1995.3,760.3 1991.8,768.5 1993.6,767.8 1993.2,771.3ZM1972.1,764.3 1972.6,760.9 1974.1,762.0 1972.8,753.2 1969.1,761.3 1970.9,760.7 1970.4,764.0ZM1950.0,755.1 1950.6,751.8 1952.1,753.0 1951.1,744.2 1947.1,752.1 1948.9,751.5 1948.3,754.8ZM1928.7,744.1 1929.4,740.9 1930.9,742.0 1930.1,733.2 1925.9,741.0 1927.7,740.5 1927.1,743.8ZM1908.5,731.3 1909.3,728.1 1910.8,729.3 1910.3,720.4 1905.8,728.1 1907.7,727.7 1906.9,730.9ZM1889.5,716.7 1890.4,713.5 1891.8,714.8 1891.6,705.9 1886.9,713.5 1888.8,713.1 1887.9,716.3ZM1871.9,700.6 1872.8,697.4 1874.2,698.7 1874.2,689.9 1869.3,697.3 1871.2,696.9 1870.3,700.1ZM1855.7,682.9 1856.7,679.8 1858.1,681.2 1858.3,672.3 1853.2,679.6 1855.1,679.3 1854.1,682.4ZM1841.1,664.0 1842.2,660.9 1843.5,662.3 1844.0,653.4 1838.7,660.5 1840.6,660.3 1839.5,663.4ZM1828.3,643.8 1829.4,640.7 1830.7,642.1 1831.3,633.3 1825.9,640.3 1827.8,640.1 1826.7,643.2ZM1817.2,622.6 1818.4,619.5 1819.7,620.9 1820.5,612.1 1815.0,619.0 1816.8,618.9 1815.6,622.0ZM1808.0,600.5 1809.3,597.4 1810.6,598.8 1811.5,590.0 1805.8,596.9 1807.7,596.7 1806.5,599.8ZM1800.8,577.7 1802.2,574.6 1803.4,576.0 1804.4,567.2 1798.7,574.0 1800.6,573.9 1799.3,577.0ZM1795.6,554.3 1797.0,551.2 1798.2,552.7 1799.3,543.9 1793.6,550.6 1795.5,550.5 1794.1,553.6ZM1792.5,530.6 1793.9,527.5 1795.1,529.0 1796.3,520.2 1790.5,526.9 1792.4,526.8 1791.0,529.9ZM1791.5,506.7 1792.9,503.6 1794.1,505.1 1795.4,496.3 1789.5,502.9 1791.4,502.9 1789.9,505.9ZM1792.5,482.7 1794.0,479.7 1795.1,481.2 1796.4,472.4 1790.5,479.0 1792.4,479.0 1791.0,482.0ZM1795.6,459.0 1797.1,456.0 1798.3,457.4 1799.6,448.7 1793.6,455.3 1795.5,455.2 1794.1,458.3ZM1800.8,435.6 1802.2,432.6 1803.4,434.1 1804.7,425.3 1798.8,431.9 1800.7,431.9 1799.3,434.9ZM1808.0,412.8 1809.4,409.7 1810.6,411.2 1811.8,402.4 1806.0,409.1 1807.9,409.0 1806.5,412.1ZM1817.2,390.7 1818.6,387.6 1819.8,389.1 1821.0,380.3 1815.1,387.0 1817.0,386.9 1815.6,390.0ZM1828.2,369.4 1829.6,366.4 1830.8,367.8 1831.9,359.0 1826.1,365.8 1828.0,365.7 1826.7,368.8ZM1841.1,349.2 1842.4,346.1 1843.7,347.6 1844.6,338.8 1839.0,345.6 1840.9,345.5 1839.5,348.6ZM1855.7,330.2 1856.9,327.1 1858.2,328.6 1859.0,319.7 1853.5,326.6 1855.4,326.5 1854.1,329.6ZM1871.9,312.6 1873.1,309.5 1874.3,310.9 1875.0,302.0 1869.6,309.0 1871.5,308.9 1870.3,312.0ZM1889.5,296.4 1890.6,293.3 1891.9,294.7 1892.4,285.8 1887.1,292.9 1889.0,292.7 1887.9,295.8ZM1908.5,281.8 1909.5,278.7 1910.9,280.0 1911.0,271.2 1906.0,278.5 1907.9,278.2 1906.9,281.3ZM1928.7,268.9 1929.6,265.9 1931.0,267.1 1930.9,258.3 1926.1,265.7 1927.9,265.4 1927.1,268.4ZM1950.0,257.8 1950.7,254.8 1952.1,256.0 1951.7,247.2 1947.2,254.8 1949.0,254.4 1948.3,257.4ZM1972.1,248.6 1972.7,245.6 1974.2,246.8 1973.4,237.9 1969.2,245.8 1971.0,245.3 1970.4,248.3ZM1994.9,241.4 1995.4,238.4 1996.9,239.5 1995.7,230.7 1991.9,238.7 1993.7,238.2 1993.2,241.1ZM2018.3,236.2 2018.6,233.2 2020.2,234.2 2018.5,225.5 2015.1,233.7 2016.9,233.0 2016.6,236.0ZM2042.0,233.0 2042.2,230.0 2043.8,230.9 2041.7,222.3 2038.7,230.7 2040.5,229.9 2040.3,232.9ZM2065.9,214.7 2065.9,211.3 2067.6,212.2 2065.1,203.7 2062.5,212.2 2064.2,211.3 2064.3,214.8ZM2091.4,215.8 2091.2,212.6 2092.9,213.4 2089.9,205.0 2087.8,213.6 2089.5,212.7 2089.7,215.9ZM2116.6,219.1 2116.2,216.0 2118.0,216.6 2114.6,208.4 2113.0,217.2 2114.6,216.1 2114.9,219.3ZM2141.4,224.6 2140.9,221.4 2142.7,222.0 2138.9,214.0 2137.7,222.8 2139.2,221.7 2139.7,224.8ZM2165.6,232.2 2165.0,229.0 2166.8,229.5 2162.6,221.7 2161.8,230.5 2163.3,229.3 2164.0,232.5ZM2189.1,241.9 2188.3,238.7 2190.2,239.1 2185.7,231.5 2185.3,240.3 2186.7,239.1 2187.5,242.3ZM2211.7,253.6 2210.8,250.4 2212.6,250.7 2207.8,243.3 2207.7,252.1 2209.1,250.9 2210.1,254.0ZM2233.1,267.2 2232.1,264.0 2234.0,264.3 2228.9,257.0 2229.1,265.9 2230.5,264.5 2231.5,267.7ZM2253.3,282.7 2252.1,279.4 2254.0,279.7 2248.8,272.5 2249.2,281.4 2250.5,280.0 2251.7,283.2ZM2272.1,299.8 2270.8,296.6 2272.7,296.8 2267.3,289.8 2267.9,298.6 2269.2,297.2 2270.5,300.4ZM2289.2,318.6 2287.9,315.4 2289.8,315.5 2284.2,308.6 2285.1,317.5 2286.4,316.0 2287.7,319.2ZM2304.7,338.7 2303.4,335.6 2305.3,335.7 2299.6,328.9 2300.6,337.7 2301.8,336.3 2303.1,339.4ZM2318.4,360.2 2317.0,357.1 2318.9,357.2 2313.1,350.4 2314.2,359.2 2315.4,357.8 2316.8,360.9ZM2330.1,382.7 2328.7,379.7 2330.6,379.7 2324.8,373.1 2326.0,381.9 2327.2,380.4 2328.6,383.4ZM2339.8,406.2 2338.4,403.2 2340.3,403.2 2334.4,396.6 2335.7,405.4 2336.9,403.9 2338.3,406.9ZM2347.5,430.5 2346.1,427.4 2348.0,427.5 2342.0,420.9 2343.3,429.7 2344.5,428.2 2345.9,431.2ZM2353.0,455.3 2351.5,452.3 2353.4,452.3 2347.5,445.7 2348.8,454.5 2350.0,453.0 2351.5,456.0ZM2356.3,480.5 2354.9,477.5 2356.8,477.5 2350.8,471.0 2352.2,479.7 2353.3,478.2 2354.8,481.3ZM2357.4,505.9 2356.0,502.9 2357.9,503.0 2352.0,496.4 2353.3,505.1 2354.5,503.6 2355.9,506.7ZM2356.3,531.4 2354.9,528.3 2356.8,528.4 2351.0,521.7 2352.2,530.5 2353.4,529.0 2354.8,532.1ZM2353.0,556.6 2351.6,553.6 2353.5,553.6 2347.8,546.9 2348.9,555.7 2350.1,554.3 2351.4,557.3ZM2347.5,581.4 2346.2,578.4 2348.1,578.5 2342.4,571.7 2343.4,580.5 2344.6,579.1 2345.9,582.1ZM2339.9,605.7 2338.6,602.7 2340.5,602.8 2334.9,596.0 2335.8,604.8 2337.0,603.4 2338.3,606.3ZM2330.1,629.2 2328.9,626.2 2330.8,626.4 2325.3,619.4 2326.1,628.3 2327.3,626.9 2328.5,629.8ZM2318.4,651.8 2317.3,648.8 2319.1,649.0 2313.7,642.0 2314.4,650.8 2315.7,649.4 2316.8,652.4ZM2304.7,673.2 2303.7,670.3 2305.6,670.5 2300.3,663.4 2300.8,672.2 2302.1,670.9 2303.1,673.8ZM2289.2,693.4 2288.3,690.5 2290.1,690.8 2285.1,683.5 2285.3,692.4 2286.7,691.0 2287.6,694.0ZM2272.1,712.2 2271.2,709.2 2273.0,709.6 2268.1,702.2 2268.2,711.0 2269.5,709.7 2270.4,712.7ZM2253.3,729.4 2252.5,726.4 2254.4,726.8 2249.7,719.3 2249.5,728.1 2250.9,726.9 2251.7,729.9ZM2233.2,744.9 2232.4,741.9 2234.3,742.3 2229.8,734.7 2229.3,743.5 2230.8,742.3 2231.5,745.3ZM2211.7,758.6 2211.1,755.6 2212.9,756.1 2208.7,748.3 2207.9,757.1 2209.4,755.9 2210.0,759.0ZM2189.2,770.4 2188.6,767.3 2190.4,767.8 2186.4,759.9 2185.4,768.7 2186.9,767.6 2187.5,770.7ZM2165.7,780.1 2165.2,777.0 2167.0,777.6 2163.3,769.6 2162.0,778.3 2163.5,777.2 2164.0,780.4ZM2141.4,787.8 2141.1,784.6 2142.8,785.3 2139.4,777.1 2137.8,785.8 2139.4,784.8 2139.7,788.0ZM2116.6,793.4 2116.3,790.1 2118.1,790.9 2114.9,782.6 2113.0,791.2 2114.6,790.3 2114.9,793.5ZM2091.4,796.7 2091.2,793.5 2093.0,794.2 2090.1,785.8 2087.9,794.4 2089.5,793.5 2089.7,796.8ZM2065.9,797.8 2065.9,794.6 2067.6,795.5 2065.1,787.0 2062.5,795.5 2064.2,794.6 2064.3,797.9ZM2040.5,796.8 2040.7,793.5 2042.3,794.4 2040.1,785.8 2037.2,794.2 2039.0,793.5 2038.8,796.7ZM2015.3,793.5 2015.6,790.3 2017.2,791.2 2015.3,782.6 2012.1,790.9 2013.9,790.1 2013.6,793.4ZM1990.5,788.0 1990.8,784.8 1992.4,785.8 1990.8,777.1 1987.4,785.3 1989.1,784.6 1988.8,787.8ZM1966.2,780.4 1966.7,777.2 1968.2,778.3 1966.9,769.6 1963.2,777.6 1965.0,777.0 1964.5,780.1ZM1942.7,770.7 1943.3,767.6 1944.8,768.7 1943.8,759.9 1939.8,767.8 1941.6,767.3 1941.0,770.4ZM1920.2,759.0 1920.8,755.9 1922.3,757.1 1921.5,748.3 1917.3,756.1 1919.1,755.6 1918.5,758.6ZM1898.7,745.3 1899.4,742.3 1900.9,743.5 1900.4,734.7 1895.9,742.3 1897.8,741.9 1897.0,744.9ZM1878.5,729.9 1879.3,726.9 1880.7,728.1 1880.5,719.3 1875.8,726.8 1877.7,726.4 1876.9,729.4ZM1859.8,712.7 1860.7,709.7 1862.0,711.0 1862.1,702.2 1857.2,709.6 1859.0,709.2 1858.1,712.2ZM1842.6,694.0 1843.5,691.0 1844.9,692.4 1845.1,683.5 1840.1,690.8 1841.9,690.5 1841.0,693.4ZM1827.1,673.8 1828.1,670.9 1829.4,672.2 1829.9,663.4 1824.6,670.5 1826.5,670.3 1825.5,673.2ZM1813.4,652.4 1814.5,649.4 1815.8,650.8 1816.5,642.0 1811.1,649.0 1812.9,648.8 1811.8,651.8ZM1801.7,629.8 1802.9,626.9 1804.1,628.3 1804.9,619.4 1799.4,626.4 1801.3,626.2 1800.1,629.2ZM1791.9,606.3 1793.2,603.4 1794.4,604.8 1795.3,596.0 1789.7,602.8 1791.6,602.7 1790.3,605.7ZM1784.3,582.1 1785.6,579.1 1786.8,580.5 1787.8,571.7 1782.1,578.5 1784.0,578.4 1782.7,581.4ZM1778.8,557.3 1780.1,554.3 1781.3,555.7 1782.4,546.9 1776.7,553.6 1778.6,553.6 1777.2,556.6ZM1775.4,532.1 1776.8,529.0 1778.0,530.5 1779.2,521.7 1773.4,528.4 1775.3,528.3 1773.9,531.4ZM1774.3,506.7 1775.7,503.6 1776.9,505.1 1778.2,496.4 1772.3,503.0 1774.2,502.9 1772.8,505.9ZM1775.4,481.3 1776.9,478.2 1778.0,479.7 1779.4,471.0 1773.4,477.5 1775.3,477.5 1773.9,480.5ZM1778.7,456.0 1780.2,453.0 1781.4,454.5 1782.7,445.7 1776.8,452.3 1778.7,452.3 1777.2,455.3ZM1784.3,431.2 1785.7,428.2 1786.9,429.7 1788.2,420.9 1782.2,427.5 1784.1,427.4 1782.7,430.5ZM1791.9,406.9 1793.3,403.9 1794.5,405.4 1795.8,396.6 1789.9,403.2 1791.8,403.2 1790.4,406.2ZM1801.6,383.4 1803.0,380.4 1804.2,381.9 1805.4,373.1 1799.6,379.7 1801.5,379.7 1800.1,382.7ZM1813.4,360.9 1814.8,357.8 1816.0,359.2 1817.1,350.4 1811.3,357.2 1813.2,357.1 1811.8,360.2ZM1827.1,339.4 1828.4,336.3 1829.6,337.7 1830.6,328.9 1824.9,335.7 1826.8,335.6 1825.5,338.7ZM1842.5,319.2 1843.8,316.0 1845.1,317.5 1846.0,308.6 1840.4,315.5 1842.3,315.4 1841.0,318.6ZM1859.7,300.4 1861.0,297.2 1862.3,298.6 1862.9,289.8 1857.5,296.8 1859.4,296.6 1858.1,299.8ZM1878.5,283.2 1879.7,280.0 1881.0,281.4 1881.4,272.5 1876.2,279.7 1878.1,279.4 1876.9,282.7ZM1898.7,267.7 1899.7,264.5 1901.1,265.9 1901.3,257.0 1896.2,264.3 1898.1,264.0 1897.1,267.2ZM1920.1,254.0 1921.1,250.9 1922.5,252.1 1922.4,243.3 1917.6,250.7 1919.4,250.4 1918.5,253.6ZM1942.7,242.3 1943.5,239.1 1944.9,240.3 1944.5,231.5 1940.0,239.1 1941.9,238.7 1941.1,241.9ZM1966.2,232.5 1966.9,229.3 1968.4,230.5 1967.6,221.7 1963.4,229.5 1965.2,229.0 1964.6,232.2ZM1990.5,224.8 1991.0,221.7 1992.5,222.8 1991.3,214.0 1987.5,222.0 1989.3,221.4 1988.8,224.6ZM2015.3,219.3 2015.6,216.1 2017.2,217.2 2015.6,208.4 2012.2,216.6 2014.0,216.0 2013.6,219.1ZM2040.5,215.9 2040.7,212.7 2042.4,213.6 2040.3,205.0 2037.3,213.4 2039.0,212.6 2038.8,215.8ZM2065.9,197.6 2065.9,194.0 2067.6,194.9 2065.1,186.4 2062.5,194.9 2064.2,194.0 2064.3,197.6ZM2092.9,198.7 2092.7,195.4 2094.4,196.1 2091.4,187.8 2089.3,196.4 2091.0,195.5 2091.2,198.8ZM2119.6,202.2 2119.2,198.9 2121.0,199.6 2117.5,191.4 2115.9,200.1 2117.5,199.1 2117.9,202.4ZM2145.8,208.0 2145.3,204.7 2147.1,205.3 2143.3,197.3 2142.1,206.1 2143.6,204.9 2144.2,208.3ZM2171.5,216.0 2170.8,212.7 2172.7,213.2 2168.4,205.4 2167.7,214.2 2169.2,213.1 2169.8,216.4ZM2196.4,226.3 2195.5,223.0 2197.4,223.4 2192.8,215.8 2192.5,224.6 2193.9,223.4 2194.7,226.7ZM2220.3,238.7 2219.3,235.4 2221.1,235.7 2216.3,228.3 2216.3,237.2 2217.6,235.9 2218.6,239.2ZM2243.0,253.2 2241.9,249.8 2243.7,250.1 2238.6,242.8 2238.9,251.7 2240.2,250.4 2241.4,253.7ZM2264.3,269.5 2263.1,266.2 2265.0,266.4 2259.7,259.3 2260.2,268.1 2261.5,266.8 2262.7,270.1ZM2284.2,287.7 2282.9,284.4 2284.8,284.6 2279.3,277.6 2280.0,286.4 2281.3,285.0 2282.6,288.3ZM2302.4,307.5 2301.0,304.3 2302.9,304.5 2297.3,297.6 2298.2,306.4 2299.5,305.0 2300.8,308.2ZM2318.8,328.9 2317.4,325.7 2319.3,325.9 2313.6,319.1 2314.6,327.9 2315.8,326.4 2317.2,329.6ZM2333.2,351.6 2331.8,348.5 2333.7,348.6 2327.9,341.9 2329.1,350.7 2330.3,349.2 2331.7,352.3ZM2345.6,375.5 2344.2,372.4 2346.1,372.5 2340.3,365.8 2341.5,374.6 2342.7,373.1 2344.1,376.2ZM2356.0,400.4 2354.5,397.3 2356.4,397.4 2350.5,390.8 2351.8,399.6 2353.0,398.1 2354.4,401.1ZM2364.0,426.0 2362.6,423.0 2364.5,423.1 2358.6,416.5 2359.9,425.3 2361.1,423.8 2362.5,426.8ZM2369.9,452.3 2368.4,449.3 2370.3,449.4 2364.3,442.8 2365.7,451.6 2366.9,450.1 2368.3,453.1ZM2373.4,479.0 2371.9,476.0 2373.8,476.1 2367.9,469.5 2369.3,478.3 2370.4,476.8 2371.9,479.8ZM2374.6,505.9 2373.1,503.0 2375.0,503.0 2369.1,496.4 2370.4,505.2 2371.6,503.7 2373.0,506.7ZM2373.4,532.8 2372.0,529.9 2373.9,529.9 2368.0,523.3 2369.3,532.1 2370.5,530.6 2371.9,533.6ZM2369.9,559.6 2368.5,556.6 2370.4,556.7 2364.6,550.0 2365.8,558.8 2367.0,557.3 2368.3,560.3ZM2364.1,585.9 2362.8,582.9 2364.7,583.0 2358.9,576.3 2360.0,585.1 2361.2,583.6 2362.5,586.5ZM2356.0,611.6 2354.7,608.6 2356.6,608.8 2351.0,601.9 2351.9,610.8 2353.2,609.3 2354.4,612.2ZM2345.7,636.4 2344.5,633.6 2346.4,633.7 2340.8,626.8 2341.7,635.6 2342.9,634.2 2344.1,637.1ZM2333.2,660.3 2332.1,657.5 2334.0,657.7 2328.6,650.7 2329.3,659.5 2330.6,658.1 2331.6,661.0ZM2318.8,683.1 2317.8,680.3 2319.7,680.5 2314.4,673.4 2314.9,682.2 2316.2,680.9 2317.2,683.7ZM2302.4,704.5 2301.5,701.7 2303.3,701.9 2298.2,694.7 2298.5,703.5 2299.8,702.2 2300.8,705.0ZM2284.2,724.3 2283.3,721.5 2285.2,721.8 2280.3,714.5 2280.3,723.3 2281.7,722.0 2282.6,724.8ZM2264.3,742.6 2263.6,739.7 2265.4,740.1 2260.8,732.6 2260.5,741.4 2261.9,740.2 2262.7,743.0ZM2243.0,759.0 2242.3,756.1 2244.2,756.6 2239.7,748.9 2239.2,757.8 2240.7,756.5 2241.3,759.4ZM2220.3,773.5 2219.7,770.6 2221.5,771.1 2217.3,763.3 2216.5,772.1 2218.0,771.0 2218.6,773.8ZM2196.4,785.9 2195.9,783.0 2197.7,783.6 2193.7,775.7 2192.7,784.5 2194.2,783.3 2194.7,786.2ZM2171.5,796.3 2171.1,793.3 2172.9,793.9 2169.2,785.9 2167.9,794.7 2169.4,793.6 2169.8,796.5ZM2145.8,804.4 2145.5,801.4 2147.3,802.1 2143.8,793.9 2142.2,802.6 2143.8,801.6 2144.2,804.6ZM2119.6,810.2 2119.3,807.2 2121.1,807.9 2117.9,799.7 2116.0,808.3 2117.6,807.3 2117.9,810.4ZM2092.9,813.8 2092.7,810.8 2094.5,811.5 2091.6,803.1 2089.4,811.7 2091.0,810.8 2091.2,813.9ZM2065.9,815.0 2065.9,812.0 2067.6,812.8 2065.1,804.3 2062.5,812.8 2064.2,812.0 2064.3,815.0ZM2039.0,813.9 2039.2,810.8 2040.8,811.7 2038.6,803.1 2035.7,811.5 2037.5,810.8 2037.3,813.8ZM2012.3,810.4 2012.6,807.3 2014.2,808.3 2012.3,799.7 2009.1,807.9 2010.9,807.2 2010.6,810.2ZM1986.0,804.6 1986.4,801.6 1988.0,802.6 1986.4,793.9 1982.9,802.1 1984.7,801.4 1984.4,804.4ZM1960.4,796.5 1960.8,793.6 1962.3,794.7 1961.0,785.9 1957.3,793.9 1959.1,793.3 1958.7,796.3ZM1935.5,786.2 1936.0,783.3 1937.5,784.5 1936.5,775.7 1932.5,783.6 1934.3,783.0 1933.8,785.9ZM1911.6,773.8 1912.2,771.0 1913.7,772.1 1912.9,763.3 1908.7,771.1 1910.5,770.6 1909.9,773.5ZM1888.9,759.4 1889.5,756.5 1891.0,757.8 1890.5,748.9 1886.0,756.6 1887.9,756.1 1887.2,759.0ZM1867.5,743.0 1868.3,740.2 1869.7,741.4 1869.4,732.6 1864.8,740.1 1866.6,739.7 1865.9,742.6ZM1847.6,724.8 1848.5,722.0 1849.9,723.3 1849.9,714.5 1845.0,721.8 1846.9,721.5 1846.0,724.3ZM1829.4,705.0 1830.4,702.2 1831.7,703.5 1832.0,694.7 1826.9,701.9 1828.7,701.7 1827.8,704.5ZM1813.0,683.7 1814.0,680.9 1815.3,682.2 1815.8,673.4 1810.5,680.5 1812.4,680.3 1811.4,683.1ZM1798.6,661.0 1799.6,658.1 1800.9,659.5 1801.6,650.7 1796.2,657.7 1798.1,657.5 1797.0,660.3ZM1786.1,637.1 1787.3,634.2 1788.5,635.6 1789.4,626.8 1783.8,633.7 1785.7,633.6 1784.5,636.4ZM1775.8,612.2 1777.0,609.3 1778.3,610.8 1779.2,601.9 1773.6,608.8 1775.5,608.6 1774.2,611.6ZM1767.7,586.5 1769.0,583.6 1770.2,585.1 1771.3,576.3 1765.5,583.0 1767.4,582.9 1766.1,585.9ZM1761.9,560.3 1763.2,557.3 1764.4,558.8 1765.6,550.0 1759.8,556.7 1761.7,556.6 1760.3,559.6ZM1758.3,533.6 1759.7,530.6 1760.9,532.1 1762.2,523.3 1756.3,529.9 1758.2,529.9 1756.8,532.8ZM1757.2,506.7 1758.6,503.7 1759.8,505.2 1761.1,496.4 1755.2,503.0 1757.1,503.0 1755.6,505.9ZM1758.3,479.8 1759.8,476.8 1760.9,478.3 1762.3,469.5 1756.4,476.1 1758.3,476.0 1756.8,479.0ZM1761.9,453.1 1763.3,450.1 1764.5,451.6 1765.9,442.8 1759.9,449.4 1761.8,449.3 1760.3,452.3ZM1767.7,426.8 1769.1,423.8 1770.3,425.3 1771.6,416.5 1765.7,423.1 1767.6,423.0 1766.2,426.0ZM1775.8,401.1 1777.2,398.1 1778.4,399.6 1779.7,390.8 1773.8,397.4 1775.7,397.3 1774.2,400.4ZM1786.1,376.2 1787.5,373.1 1788.7,374.6 1789.9,365.8 1784.1,372.5 1786.0,372.4 1784.6,375.5ZM1798.5,352.3 1799.9,349.2 1801.1,350.7 1802.3,341.9 1796.5,348.6 1798.4,348.5 1797.0,351.6ZM1813.0,329.6 1814.4,326.4 1815.6,327.9 1816.6,319.1 1810.9,325.9 1812.8,325.7 1811.4,328.9ZM1829.4,308.2 1830.7,305.0 1832.0,306.4 1832.9,297.6 1827.3,304.5 1829.2,304.3 1827.8,307.5ZM1847.6,288.3 1848.9,285.0 1850.2,286.4 1850.9,277.6 1845.4,284.6 1847.3,284.4 1846.0,287.7ZM1867.5,270.1 1868.7,266.8 1870.0,268.1 1870.5,259.3 1865.2,266.4 1867.1,266.2 1865.9,269.5ZM1888.8,253.7 1890.0,250.4 1891.3,251.7 1891.6,242.8 1886.5,250.1 1888.3,249.8 1887.2,253.2ZM1911.6,239.2 1912.6,235.9 1913.9,237.2 1913.9,228.3 1909.1,235.7 1910.9,235.4 1909.9,238.7ZM1935.5,226.7 1936.3,223.4 1937.7,224.6 1937.4,215.8 1932.8,223.4 1934.7,223.0 1933.8,226.3ZM1960.4,216.4 1961.0,213.1 1962.5,214.2 1961.8,205.4 1957.5,213.2 1959.4,212.7 1958.7,216.0ZM1986.0,208.3 1986.6,204.9 1988.1,206.1 1986.9,197.3 1983.1,205.3 1984.9,204.7 1984.4,208.0ZM2012.3,202.4 2012.7,199.1 2014.3,200.1 2012.7,191.4 2009.2,199.6 2011.0,198.9 2010.6,202.2ZM2039.0,198.8 2039.2,195.5 2040.9,196.4 2038.8,187.8 2035.8,196.1 2037.5,195.4 2037.3,198.7ZM2065.9,180.4 2065.9,176.7 2067.6,177.5 2065.1,169.0 2062.5,177.5 2064.2,176.7 2064.3,180.5ZM2094.3,181.6 2094.2,178.1 2095.9,178.9 2092.9,170.5 2090.8,179.2 2092.5,178.2 2092.7,181.7ZM2122.5,185.3 2122.2,181.9 2123.9,182.6 2120.5,174.4 2118.9,183.1 2120.5,182.1 2120.8,185.5ZM2150.3,191.4 2149.7,188.0 2151.5,188.6 2147.7,180.6 2146.5,189.4 2148.1,188.3 2148.6,191.7ZM2177.4,199.9 2176.7,196.5 2178.5,197.0 2174.3,189.2 2173.5,198.0 2175.0,196.8 2175.7,200.3ZM2203.6,210.8 2202.7,207.3 2204.6,207.7 2200.0,200.1 2199.7,209.0 2201.1,207.7 2202.0,211.2ZM2228.8,223.9 2227.8,220.4 2229.7,220.7 2224.8,213.3 2224.8,222.2 2226.2,220.9 2227.2,224.3ZM2252.8,239.1 2251.6,235.7 2253.5,235.9 2248.4,228.7 2248.7,237.6 2250.0,236.2 2251.2,239.6ZM2275.4,256.4 2274.1,253.0 2276.0,253.2 2270.7,246.1 2271.2,254.9 2272.5,253.6 2273.8,257.0ZM2296.3,275.6 2295.0,272.2 2296.9,272.4 2291.4,265.4 2292.1,274.3 2293.4,272.8 2294.7,276.2ZM2315.5,296.5 2314.2,293.3 2316.1,293.4 2310.4,286.5 2311.3,295.4 2312.6,293.9 2313.9,297.2ZM2332.8,319.1 2331.4,315.9 2333.3,316.0 2327.6,309.2 2328.7,318.1 2329.9,316.6 2331.2,319.7ZM2348.1,343.0 2346.7,340.0 2348.6,340.0 2342.8,333.3 2343.9,342.1 2345.1,340.7 2346.5,343.7ZM2361.2,368.2 2359.8,365.2 2361.7,365.3 2355.8,358.6 2357.1,367.4 2358.3,365.9 2359.6,368.9ZM2372.1,394.5 2370.7,391.5 2372.6,391.6 2366.6,385.0 2368.0,393.7 2369.1,392.2 2370.5,395.2ZM2380.6,421.6 2379.2,418.7 2381.1,418.7 2375.1,412.1 2376.5,420.9 2377.7,419.4 2379.1,422.3ZM2386.8,449.3 2385.3,446.4 2387.2,446.4 2381.2,439.9 2382.7,448.7 2383.8,447.2 2385.2,450.1ZM2390.5,477.5 2389.0,474.6 2390.9,474.6 2384.9,468.1 2386.4,476.9 2387.5,475.3 2388.9,478.3ZM2391.7,505.9 2390.3,503.0 2392.2,503.0 2386.2,496.5 2387.6,505.2 2388.8,503.7 2390.2,506.7ZM2390.5,534.3 2389.1,531.4 2391.0,531.5 2385.1,524.9 2386.4,533.6 2387.6,532.1 2388.9,535.1ZM2386.8,562.5 2385.5,559.6 2387.4,559.7 2381.5,553.0 2382.7,561.8 2383.9,560.3 2385.2,563.2ZM2380.6,590.3 2379.4,587.4 2381.3,587.5 2375.5,580.8 2376.6,589.6 2377.8,588.1 2379.1,591.0ZM2372.1,617.4 2370.9,614.6 2372.8,614.7 2367.1,607.9 2368.1,616.7 2369.3,615.3 2370.5,618.1ZM2361.2,643.7 2360.1,640.9 2362.0,641.1 2356.4,634.2 2357.3,643.0 2358.5,641.6 2359.6,644.3ZM2348.1,668.9 2347.0,666.2 2348.9,666.4 2343.5,659.4 2344.2,668.2 2345.5,666.8 2346.5,669.5ZM2332.8,692.9 2331.9,690.2 2333.7,690.5 2328.4,683.3 2328.9,692.2 2330.3,690.8 2331.2,693.5ZM2315.5,715.5 2314.6,712.8 2316.5,713.1 2311.4,705.8 2311.7,714.7 2313.0,713.4 2313.9,716.0ZM2296.3,736.5 2295.5,733.8 2297.4,734.1 2292.5,726.7 2292.5,735.6 2293.9,734.3 2294.7,737.0ZM2275.4,755.7 2274.6,753.0 2276.5,753.4 2271.8,745.9 2271.6,754.7 2273.0,753.5 2273.7,756.1ZM2252.8,773.0 2252.2,770.4 2254.0,770.8 2249.6,763.1 2249.1,772.0 2250.5,770.8 2251.2,773.4ZM2228.9,788.3 2228.3,785.6 2230.1,786.1 2225.9,778.3 2225.1,787.2 2226.6,786.0 2227.2,788.7ZM2203.6,801.5 2203.2,798.8 2205.0,799.3 2201.0,791.4 2200.0,800.2 2201.5,799.1 2202.0,801.8ZM2177.4,812.4 2177.0,809.6 2178.8,810.2 2175.1,802.2 2173.7,810.9 2175.3,809.9 2175.7,812.6ZM2150.3,821.0 2150.0,818.2 2151.8,818.8 2148.3,810.6 2146.7,819.4 2148.3,818.3 2148.6,821.1ZM2122.5,827.1 2122.3,824.3 2124.1,825.0 2120.9,816.7 2119.0,825.4 2120.6,824.4 2120.8,827.3ZM2094.3,830.9 2094.2,828.0 2096.0,828.8 2093.1,820.4 2090.9,829.0 2092.5,828.1 2092.7,830.9ZM2065.9,832.2 2066.0,829.3 2067.7,830.1 2065.1,821.6 2062.6,830.1 2064.3,829.3 2064.3,832.1ZM2037.5,830.9 2037.7,828.1 2039.3,829.0 2037.1,820.4 2034.2,828.8 2036.0,828.0 2035.9,830.9ZM2009.4,827.3 2009.6,824.4 2011.2,825.4 2009.3,816.7 2006.1,825.0 2007.9,824.3 2007.7,827.1ZM1981.6,821.1 1981.9,818.3 1983.5,819.4 1981.9,810.6 1978.4,818.8 1980.2,818.2 1979.9,821.0ZM1954.5,812.6 1954.9,809.9 1956.5,810.9 1955.1,802.2 1951.4,810.2 1953.2,809.6 1952.8,812.4ZM1928.2,801.8 1928.7,799.1 1930.2,800.2 1929.2,791.4 1925.2,799.3 1927.0,798.8 1926.6,801.5ZM1903.0,788.7 1903.6,786.0 1905.1,787.2 1904.3,778.3 1900.1,786.1 1901.9,785.6 1901.3,788.3ZM1879.0,773.4 1879.7,770.8 1881.1,772.0 1880.6,763.1 1876.2,770.8 1878.0,770.4 1877.4,773.0ZM1856.5,756.1 1857.2,753.5 1858.6,754.7 1858.4,745.9 1853.7,753.4 1855.6,753.0 1854.8,755.7ZM1835.5,737.0 1836.3,734.3 1837.7,735.6 1837.7,726.7 1832.8,734.1 1834.7,733.8 1833.9,736.5ZM1816.3,716.0 1817.2,713.4 1818.5,714.7 1818.8,705.8 1813.7,713.1 1815.6,712.8 1814.7,715.5ZM1799.0,693.5 1799.9,690.8 1801.3,692.2 1801.8,683.3 1796.5,690.5 1798.3,690.2 1797.4,692.9ZM1783.7,669.5 1784.7,666.8 1786.0,668.2 1786.7,659.4 1781.3,666.4 1783.2,666.2 1782.1,668.9ZM1770.6,644.3 1771.7,641.6 1772.9,643.0 1773.8,634.2 1768.2,641.1 1770.1,640.9 1769.0,643.7ZM1759.7,618.1 1760.9,615.3 1762.1,616.7 1763.1,607.9 1757.4,614.7 1759.3,614.6 1758.1,617.4ZM1751.1,591.0 1752.4,588.1 1753.6,589.6 1754.7,580.8 1748.9,587.5 1750.8,587.4 1749.6,590.3ZM1745.0,563.2 1746.3,560.3 1747.5,561.8 1748.7,553.0 1742.8,559.7 1744.7,559.6 1743.4,562.5ZM1741.3,535.1 1742.6,532.1 1743.8,533.6 1745.1,524.9 1739.2,531.5 1741.1,531.4 1739.7,534.3ZM1740.0,506.7 1741.4,503.7 1742.6,505.2 1744.0,496.5 1738.0,503.0 1739.9,503.0 1738.5,505.9ZM1741.3,478.3 1742.7,475.3 1743.8,476.9 1745.3,468.1 1739.3,474.6 1741.2,474.6 1739.7,477.5ZM1745.0,450.1 1746.4,447.2 1747.5,448.7 1749.0,439.9 1743.0,446.4 1744.9,446.4 1743.4,449.3ZM1751.1,422.3 1752.5,419.4 1753.7,420.9 1755.1,412.1 1749.1,418.7 1751.0,418.7 1749.6,421.6ZM1759.7,395.2 1761.1,392.2 1762.2,393.7 1763.6,385.0 1757.6,391.6 1759.5,391.5 1758.1,394.5ZM1770.6,368.9 1771.9,365.9 1773.1,367.4 1774.4,358.6 1768.5,365.3 1770.4,365.2 1769.0,368.2ZM1783.7,343.7 1785.1,340.7 1786.3,342.1 1787.4,333.3 1781.6,340.0 1783.5,340.0 1782.1,343.0ZM1799.0,319.7 1800.3,316.6 1801.5,318.1 1802.6,309.2 1796.9,316.0 1798.8,315.9 1797.4,319.1ZM1816.3,297.2 1817.6,293.9 1818.9,295.4 1819.8,286.5 1814.1,293.4 1816.0,293.3 1814.7,296.5ZM1835.5,276.2 1836.8,272.8 1838.1,274.3 1838.8,265.4 1833.3,272.4 1835.2,272.2 1833.9,275.6ZM1856.4,257.0 1857.7,253.6 1859.0,254.9 1859.5,246.1 1854.2,253.2 1856.1,253.0 1854.8,256.4ZM1879.0,239.6 1880.2,236.2 1881.5,237.6 1881.8,228.7 1876.7,235.9 1878.6,235.7 1877.4,239.1ZM1903.0,224.3 1904.0,220.9 1905.4,222.2 1905.4,213.3 1900.5,220.7 1902.4,220.4 1901.4,223.9ZM1928.2,211.2 1929.1,207.7 1930.5,209.0 1930.2,200.1 1925.6,207.7 1927.5,207.3 1926.6,210.8ZM1954.5,200.3 1955.2,196.8 1956.7,198.0 1955.9,189.2 1951.7,197.0 1953.5,196.5 1952.8,199.9ZM1981.6,191.7 1982.1,188.3 1983.7,189.4 1982.5,180.6 1978.7,188.6 1980.5,188.0 1979.9,191.4ZM2009.4,185.5 2009.7,182.1 2011.3,183.1 2009.7,174.4 2006.3,182.6 2008.0,181.9 2007.7,185.3ZM2037.5,181.7 2037.7,178.2 2039.4,179.2 2037.3,170.5 2034.3,178.9 2036.0,178.1 2035.9,181.6ZM2065.9,163.3 2066.0,159.4 2067.7,160.3 2065.1,151.8 2062.6,160.3 2064.3,159.4 2064.3,163.3ZM2095.8,164.6 2095.7,160.9 2097.4,161.7 2094.4,153.3 2092.3,162.0 2094.0,161.0 2094.1,164.6ZM2125.5,168.4 2125.1,164.9 2126.9,165.6 2123.5,157.4 2121.8,166.1 2123.5,165.1 2123.8,168.6ZM2154.7,174.9 2154.2,171.3 2156.0,171.9 2152.2,163.9 2150.9,172.7 2152.5,171.6 2153.0,175.1ZM2183.2,183.8 2182.5,180.3 2184.4,180.8 2180.1,173.0 2179.4,181.8 2180.9,180.6 2181.6,184.2ZM2210.9,195.2 2210.0,191.7 2211.8,192.1 2207.3,184.5 2206.9,193.4 2208.3,192.1 2209.2,195.6ZM2237.4,209.0 2236.4,205.5 2238.2,205.8 2233.3,198.4 2233.3,207.3 2234.7,206.0 2235.8,209.5ZM2262.6,225.1 2261.5,221.6 2263.4,221.8 2258.2,214.6 2258.5,223.5 2259.9,222.1 2261.0,225.6ZM2286.4,243.3 2285.1,239.8 2287.0,240.0 2281.7,232.9 2282.2,241.8 2283.5,240.4 2284.8,243.8ZM2308.4,263.5 2307.1,260.1 2309.0,260.3 2303.5,253.3 2304.3,262.1 2305.5,260.7 2306.8,264.1ZM2328.6,285.5 2327.3,282.3 2329.2,282.4 2323.6,275.5 2324.5,284.4 2325.7,282.9 2327.1,286.1ZM2346.8,309.2 2345.5,306.1 2347.4,306.2 2341.7,299.4 2342.7,308.2 2343.9,306.8 2345.3,309.9ZM2362.9,334.5 2361.6,331.4 2363.5,331.5 2357.6,324.8 2358.8,333.6 2360.0,332.1 2361.4,335.1ZM2376.7,361.0 2375.4,358.0 2377.3,358.1 2371.4,351.4 2372.6,360.2 2373.8,358.7 2375.2,361.7ZM2388.2,388.6 2386.8,385.7 2388.7,385.7 2382.8,379.2 2384.1,387.9 2385.3,386.4 2386.6,389.4ZM2397.2,417.2 2395.8,414.3 2397.7,414.3 2391.7,407.8 2393.1,416.5 2394.3,415.0 2395.6,417.9ZM2403.7,446.4 2402.2,443.5 2404.1,443.5 2398.1,437.0 2399.6,445.8 2400.7,444.2 2402.1,447.1ZM2407.6,476.0 2406.1,473.2 2408.1,473.2 2402.0,466.7 2403.5,475.4 2404.6,473.9 2406.0,476.8ZM2408.9,505.9 2407.5,503.1 2409.4,503.1 2403.4,496.6 2404.8,505.3 2406.0,503.8 2407.3,506.7ZM2407.6,535.8 2406.2,533.0 2408.1,533.0 2402.2,526.4 2403.5,535.2 2404.7,533.7 2406.0,536.6ZM2403.7,565.5 2402.4,562.7 2404.3,562.8 2398.4,556.1 2399.6,564.9 2400.8,563.4 2402.1,566.2ZM2397.2,594.7 2396.0,591.9 2397.9,592.0 2392.1,585.3 2393.2,594.1 2394.4,592.6 2395.6,595.4ZM2388.2,623.3 2387.0,620.6 2388.9,620.7 2383.2,613.9 2384.2,622.7 2385.5,621.2 2386.6,623.9ZM2376.8,650.9 2375.7,648.3 2377.6,648.4 2372.0,641.5 2372.8,650.4 2374.1,648.9 2375.2,651.6ZM2362.9,677.5 2361.9,674.9 2363.8,675.1 2358.4,668.1 2359.1,676.9 2360.3,675.5 2361.4,678.1ZM2346.9,702.7 2345.9,700.2 2347.8,700.4 2342.5,693.3 2343.0,702.1 2344.3,700.8 2345.3,703.3ZM2328.7,726.5 2327.8,724.0 2329.7,724.2 2324.6,717.0 2324.9,725.9 2326.2,724.5 2327.0,727.0ZM2308.5,748.6 2307.7,746.1 2309.6,746.4 2304.7,739.0 2304.7,747.9 2306.1,746.6 2306.8,749.1ZM2286.4,768.8 2285.7,766.3 2287.6,766.7 2282.9,759.1 2282.7,768.0 2284.1,766.8 2284.8,769.3ZM2262.7,787.1 2262.1,784.6 2263.9,785.0 2259.5,777.3 2259.0,786.2 2260.4,784.9 2261.0,787.5ZM2237.4,803.2 2236.9,800.7 2238.7,801.1 2234.5,793.3 2233.8,802.2 2235.2,801.0 2235.8,803.5ZM2210.9,817.0 2210.5,814.5 2212.3,815.0 2208.3,807.1 2207.2,815.9 2208.8,814.8 2209.2,817.3ZM2183.3,828.5 2182.9,825.9 2184.7,826.5 2181.0,818.5 2179.6,827.2 2181.2,826.2 2181.6,828.7ZM2154.7,837.5 2154.4,834.9 2156.2,835.6 2152.8,827.4 2151.1,836.1 2152.7,835.1 2153.0,837.7ZM2125.5,844.0 2125.3,841.4 2127.1,842.1 2123.9,833.8 2122.0,842.5 2123.6,841.5 2123.8,844.2ZM2095.8,848.0 2095.7,845.3 2097.5,846.1 2094.6,837.7 2092.4,846.3 2094.0,845.4 2094.1,848.0ZM2065.9,849.3 2066.0,846.6 2067.7,847.5 2065.1,839.0 2062.6,847.5 2064.3,846.6 2064.3,849.3ZM2036.1,848.0 2036.2,845.4 2037.8,846.3 2035.6,837.7 2032.7,846.1 2034.5,845.3 2034.4,848.0ZM2006.4,844.2 2006.6,841.5 2008.2,842.5 2006.3,833.8 2003.1,842.1 2004.9,841.4 2004.7,844.0ZM1977.2,837.7 1977.5,835.1 1979.1,836.1 1977.4,827.4 1974.0,835.6 1975.8,834.9 1975.5,837.5ZM1948.6,828.7 1949.0,826.2 1950.6,827.2 1949.2,818.5 1945.5,826.5 1947.3,825.9 1946.9,828.5ZM1921.0,817.3 1921.4,814.8 1923.0,815.9 1921.9,807.1 1917.9,815.0 1919.7,814.5 1919.3,817.0ZM1894.4,803.5 1895.0,801.0 1896.4,802.2 1895.7,793.3 1891.5,801.1 1893.3,800.7 1892.8,803.2ZM1869.2,787.5 1869.8,784.9 1871.2,786.2 1870.7,777.3 1866.3,785.0 1868.1,784.6 1867.5,787.1ZM1845.4,769.3 1846.1,766.8 1847.5,768.0 1847.3,759.1 1842.6,766.7 1844.5,766.3 1843.8,768.8ZM1823.4,749.1 1824.1,746.6 1825.5,747.9 1825.5,739.0 1820.6,746.4 1822.5,746.1 1821.7,748.6ZM1803.2,727.0 1804.0,724.5 1805.3,725.9 1805.6,717.0 1800.5,724.2 1802.4,724.0 1801.5,726.5ZM1784.9,703.3 1785.9,700.8 1787.2,702.1 1787.7,693.3 1782.4,700.4 1784.3,700.2 1783.3,702.7ZM1768.8,678.1 1769.9,675.5 1771.1,676.9 1771.8,668.1 1766.4,675.1 1768.3,674.9 1767.3,677.5ZM1755.0,651.6 1756.1,648.9 1757.4,650.4 1758.2,641.5 1752.6,648.4 1754.5,648.3 1753.4,650.9ZM1743.6,623.9 1744.7,621.2 1746.0,622.7 1747.0,613.9 1741.3,620.7 1743.2,620.6 1742.0,623.3ZM1734.6,595.4 1735.8,592.6 1737.0,594.1 1738.1,585.3 1732.3,592.0 1734.2,591.9 1733.0,594.7ZM1728.1,566.2 1729.4,563.4 1730.6,564.9 1731.8,556.1 1725.9,562.8 1727.8,562.7 1726.5,565.5ZM1724.2,536.6 1725.5,533.7 1726.7,535.2 1728.0,526.4 1722.1,533.0 1724.0,533.0 1722.6,535.8ZM1722.9,506.7 1724.2,503.8 1725.4,505.3 1726.8,496.6 1720.8,503.1 1722.7,503.1 1721.3,505.9ZM1724.2,476.8 1725.6,473.9 1726.7,475.4 1728.2,466.7 1722.1,473.2 1724.1,473.2 1722.6,476.0ZM1728.1,447.1 1729.5,444.2 1730.6,445.8 1732.1,437.0 1726.1,443.5 1728.0,443.5 1726.5,446.4ZM1734.6,417.9 1735.9,415.0 1737.1,416.5 1738.5,407.8 1732.5,414.3 1734.4,414.3 1733.0,417.2ZM1743.6,389.4 1744.9,386.4 1746.1,387.9 1747.4,379.2 1741.5,385.7 1743.4,385.7 1742.0,388.6ZM1755.0,361.7 1756.4,358.7 1757.6,360.2 1758.8,351.4 1752.9,358.1 1754.8,358.0 1753.5,361.0ZM1768.8,335.1 1770.2,332.1 1771.4,333.6 1772.6,324.8 1766.7,331.5 1768.6,331.4 1767.3,334.5ZM1784.9,309.9 1786.3,306.8 1787.5,308.2 1788.5,299.4 1782.8,306.2 1784.7,306.1 1783.4,309.2ZM1803.1,286.1 1804.5,282.9 1805.7,284.4 1806.6,275.5 1801.0,282.4 1802.9,282.3 1801.6,285.5ZM1823.4,264.1 1824.7,260.7 1825.9,262.1 1826.7,253.3 1821.2,260.3 1823.1,260.1 1821.8,263.5ZM1845.4,243.8 1846.7,240.4 1848.0,241.8 1848.5,232.9 1843.2,240.0 1845.1,239.8 1843.8,243.3ZM1869.2,225.6 1870.3,222.1 1871.7,223.5 1872.0,214.6 1866.8,221.8 1868.7,221.6 1867.6,225.1ZM1894.4,209.5 1895.5,206.0 1896.9,207.3 1896.9,198.4 1892.0,205.8 1893.8,205.5 1892.8,209.0ZM1921.0,195.6 1921.9,192.1 1923.3,193.4 1922.9,184.5 1918.4,192.1 1920.2,191.7 1919.3,195.2ZM1948.6,184.2 1949.3,180.6 1950.8,181.8 1950.1,173.0 1945.8,180.8 1947.7,180.3 1947.0,183.8ZM1977.2,175.1 1977.7,171.6 1979.3,172.7 1978.0,163.9 1974.2,171.9 1976.0,171.3 1975.5,174.9ZM2006.4,168.6 2006.7,165.1 2008.4,166.1 2006.7,157.4 2003.3,165.6 2005.1,164.9 2004.7,168.4ZM2036.1,164.6 2036.2,161.0 2037.9,162.0 2035.8,153.3 2032.8,161.7 2034.5,160.9 2034.4,164.6Z"/>
<g fill="none" stroke="#b0b0b0" stroke-width="3.5" stroke-dasharray="3.6 6.2">
<path d="M2065.1,506.3L2065.10,163.30M2065.1,506.3L2236.60,209.25M2065.1,506.3L2362.15,334.80M2065.1,506.3L2408.10,506.30M2065.1,506.3L2362.15,677.80M2065.1,506.3L2236.60,803.35M2065.1,506.3L2065.10,849.30M2065.1,506.3L1893.60,803.35M2065.1,506.3L1768.05,677.80M2065.1,506.3L1722.10,506.30M2065.1,506.3L1768.05,334.80M2065.1,506.3L1893.60,209.25"/>
<path d="M2065.10,437.70A68.60,68.60 0 1 1 2065.10,574.90A68.60,68.60 0 1 1 2065.10,437.70"/>
<path d="M2065.10,369.10A137.20,137.20 0 1 1 2065.10,643.50A137.20,137.20 0 1 1 2065.10,369.10"/>
<path d="M2065.10,300.50A205.80,205.80 0 1 1 2065.10,712.10A205.80,205.80 0 1 1 2065.10,300.50"/>
<path d="M2065.10,231.90A274.40,274.40 0 1 1 2065.10,780.70A274.40,274.40 0 1 1 2065.10,231.90"/>
</g>

</g>
<circle cx="2065.1" cy="506.3" r="343.0" fill="none" stroke="#000" stroke-width="3.33"/>
<g font-size="39.0"><text transform="translate(2064.4,128.7) rotate(0)" x="0" y="13.2" text-anchor="middle">0°</text><text transform="translate(2253.2,177.6) rotate(30)" x="0" y="13.2" text-anchor="middle">30°</text><text transform="translate(2391.8,315.0) rotate(60)" x="0" y="13.2" text-anchor="middle">60°</text><text transform="translate(2442.8,505.0) rotate(90)" x="0" y="13.2" text-anchor="middle">90°</text><text transform="translate(2381.8,691.6) rotate(-60)" x="0" y="13.2" text-anchor="middle">120°</text><text transform="translate(2244.2,826.6) rotate(-30)" x="0" y="13.2" text-anchor="middle">150°</text><text transform="translate(2065.1,876.1) rotate(0)" x="0" y="13.2" text-anchor="middle">180°</text><text transform="translate(1879.0,824.0) rotate(30)" x="0" y="13.2" text-anchor="middle">210°</text><text transform="translate(1742.9,689.0) rotate(60)" x="0" y="13.2" text-anchor="middle">240°</text><text transform="translate(1686.4,506.0) rotate(-90)" x="0" y="13.2" text-anchor="middle">270°</text><text transform="translate(1732.4,317.7) rotate(-60)" x="0" y="13.2" text-anchor="middle">300°</text><text transform="translate(1871.4,180.0) rotate(-30)" x="0" y="13.2" text-anchor="middle">330°</text></g>
<g font-size="30" text-anchor="middle">
<text x="1327.0" y="484.5">0.2</text>
<text x="1394.3" y="468.7">0.4</text>
<text x="1461.5" y="454.3">0.6</text>
<text x="1528.0" y="439.1">0.8</text>
<text x="1595.2" y="424.0">1.0</text>
</g>
<path fill="#000" d="M2400.5,850.3 2407.8,850.3 2407.0,852.0 2415.2,849.5 2407.0,847.0 2407.8,848.7 2400.5,848.7Z"/>
<text x="2407.7" y="888.9" font-size="39.0" text-anchor="middle">0.25</text>
<path fill="#fde725" d="M123.5,942.3L75.5,966.0L123.5,989.7Z"/>
<path fill="#440154" d="M1077.3,942.3L1125.3,966.0L1077.3,989.7Z"/>
<rect x="123.00" y="942.3" width="47.74" height="47.4" fill="#efe51c"/>
<rect x="170.74" y="942.3" width="47.74" height="47.4" fill="#cde11d"/>
<rect x="218.48" y="942.3" width="47.74" height="47.4" fill="#aadc32"/>
<rect x="266.22" y="942.3" width="47.74" height="47.4" fill="#8bd646"/>
<rect x="313.96" y="942.3" width="47.74" height="47.4" fill="#6ccd5a"/>
<rect x="361.70" y="942.3" width="47.74" height="47.4" fill="#50c46a"/>
<rect x="409.44" y="942.3" width="47.74" height="47.4" fill="#38b977"/>
<rect x="457.18" y="942.3" width="47.74" height="47.4" fill="#27ad81"/>
<rect x="504.92" y="942.3" width="47.74" height="47.4" fill="#1fa287"/>
<rect x="552.66" y="942.3" width="47.74" height="47.4" fill="#1f968b"/>
<rect x="600.40" y="942.3" width="47.74" height="47.4" fill="#238a8d"/>
<rect x="648.14" y="942.3" width="47.74" height="47.4" fill="#277e8e"/>
<rect x="695.88" y="942.3" width="47.74" height="47.4" fill="#2c718e"/>
<rect x="743.62" y="942.3" width="47.74" height="47.4" fill="#31668e"/>
<rect x="791.36" y="942.3" width="47.74" height="47.4" fill="#38598c"/>
<rect x="839.10" y="942.3" width="47.74" height="47.4" fill="#3e4a89"/>
<rect x="886.84" y="942.3" width="47.74" height="47.4" fill="#443b84"/>
<rect x="934.58" y="942.3" width="47.74" height="47.4" fill="#472c7a"/>
<rect x="982.32" y="942.3" width="47.74" height="47.4" fill="#481c6e"/>
<rect x="1030.06" y="942.3" width="47.74" height="47.4" fill="#460a5d"/>
<path fill="none" stroke="#000" stroke-width="3.33" stroke-linejoin="miter" d="M123.0,942.3L1077.8,942.3L1125.3,966.0L1077.8,989.7L123.0,989.7L75.5,966.0Z"/>
<path fill="none" stroke="#000" stroke-width="3.33" d="M123.0,989.7V1003.3M314.0,989.7V1003.3M504.9,989.7V1003.3M695.9,989.7V1003.3M886.8,989.7V1003.3M1077.8,989.7V1003.3"/>
<g font-size="39.0" text-anchor="middle">
<text x="123.0" y="1042.6">0.75</text>
<text x="314.0" y="1042.6">0.80</text>
<text x="504.9" y="1042.6">0.85</text>
<text x="695.9" y="1042.6">0.90</text>
<text x="886.8" y="1042.6">0.95</text>
<text x="1077.8" y="1042.6">1.00</text>
<text x="599.5" y="1094">Axial Velocity</text>
</g>
<path fill="#053061" d="M1406.5,942.3L1358.5,966.0L1406.5,989.7Z"/>
<path fill="#67001f" d="M2360.0,942.3L2408.0,966.0L2360.0,989.7Z"/>
<rect x="1406.00" y="942.3" width="50.24" height="47.4" fill="#0c3d73"/>
<rect x="1456.24" y="942.3" width="50.24" height="47.4" fill="#1b5a9c"/>
<rect x="1506.47" y="942.3" width="50.24" height="47.4" fill="#2b73b3"/>
<rect x="1556.71" y="942.3" width="50.24" height="47.4" fill="#3e8cbf"/>
<rect x="1606.95" y="942.3" width="50.24" height="47.4" fill="#5fa5cd"/>
<rect x="1657.18" y="942.3" width="50.24" height="47.4" fill="#8ac0db"/>
<rect x="1707.42" y="942.3" width="50.24" height="47.4" fill="#acd2e5"/>
<rect x="1757.66" y="942.3" width="50.24" height="47.4" fill="#cfe4ef"/>
<rect x="1807.89" y="942.3" width="50.24" height="47.4" fill="#e3edf3"/>
<rect x="1858.13" y="942.3" width="50.24" height="47.4" fill="#f7f6f6"/>
<rect x="1908.37" y="942.3" width="50.24" height="47.4" fill="#fae8de"/>
<rect x="1958.61" y="942.3" width="50.24" height="47.4" fill="#fdd9c4"/>
<rect x="2008.84" y="942.3" width="50.24" height="47.4" fill="#f8bb9e"/>
<rect x="2059.08" y="942.3" width="50.24" height="47.4" fill="#f19e7d"/>
<rect x="2109.32" y="942.3" width="50.24" height="47.4" fill="#e17860"/>
<rect x="2159.55" y="942.3" width="50.24" height="47.4" fill="#d05548"/>
<rect x="2209.79" y="942.3" width="50.24" height="47.4" fill="#bd2d35"/>
<rect x="2260.03" y="942.3" width="50.24" height="47.4" fill="#a21328"/>
<rect x="2310.26" y="942.3" width="50.24" height="47.4" fill="#790622"/>
<path fill="none" stroke="#000" stroke-width="3.33" stroke-linejoin="miter" d="M1406.0,942.3L2360.5,942.3L2408.0,966.0L2360.5,989.7L1406.0,989.7L1358.5,966.0Z"/>
<path fill="none" stroke="#000" stroke-width="3.33" d="M1406.0,989.7V1003.3M1644.6,989.7V1003.3M1883.2,989.7V1003.3M2121.9,989.7V1003.3M2360.5,989.7V1003.3"/>
<g font-size="39.0" text-anchor="middle">
<text x="1406.0" y="1042.6">−0.250</text>
<text x="1644.6" y="1042.6">−0.125</text>
<text x="1883.2" y="1042.6">0.000</text>
<text x="2121.9" y="1042.6">0.125</text>
<text x="2360.5" y="1042.6">0.250</text>
<text x="1882.5" y="1094" textLength="436.0" lengthAdjust="spacing">Radial/Tangential Velocity</text>
</g>
</svg></body></html>
